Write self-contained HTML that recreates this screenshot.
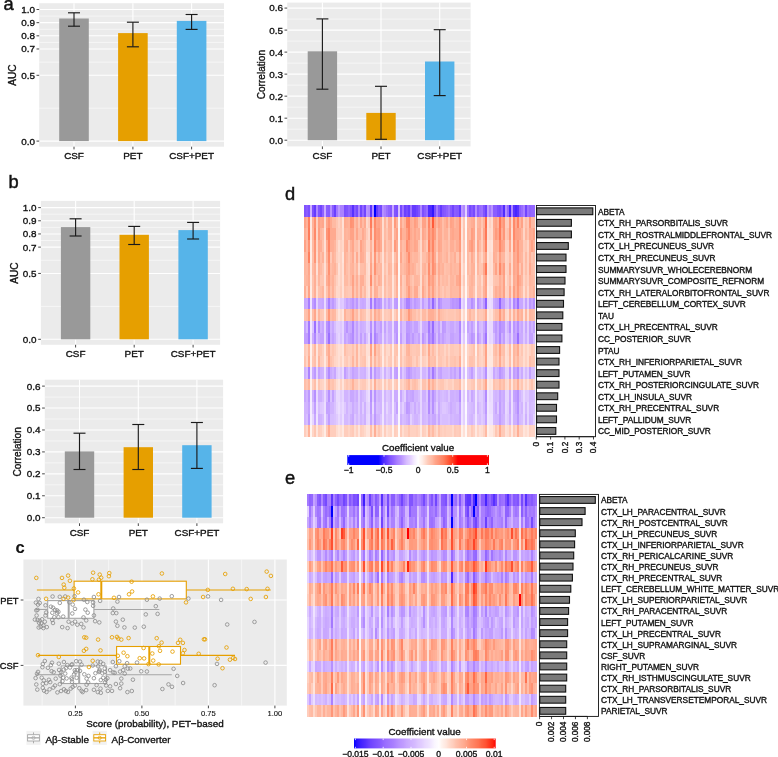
<!DOCTYPE html>
<html><head><meta charset="utf-8"><title>figure</title>
<style>html,body{margin:0;padding:0;background:#fff;}body{width:778px;height:757px;overflow:hidden;font-family:"Liberation Sans",sans-serif;}svg{display:block;filter:blur(0.35px);}</style>
</head><body>
<svg width="778" height="757" viewBox="0 0 778 757" font-family='"Liberation Sans", sans-serif'>
<style>text{stroke:#111;stroke-width:0.35px;}</style>
<rect width="778" height="757" fill="#ffffff"/>
<rect x="39.2" y="3.2" width="184.8" height="143.5" fill="#EBEBEB"/>
<line x1="39.2" y1="108.2" x2="224" y2="108.2" stroke="white" stroke-width="0.55"/>
<line x1="39.2" y1="62.14" x2="224" y2="62.14" stroke="white" stroke-width="0.55"/>
<line x1="39.2" y1="42.4" x2="224" y2="42.4" stroke="white" stroke-width="0.55"/>
<line x1="39.2" y1="29.24" x2="224" y2="29.24" stroke="white" stroke-width="0.55"/>
<line x1="39.2" y1="16.08" x2="224" y2="16.08" stroke="white" stroke-width="0.55"/>
<line x1="39.2" y1="141.1" x2="224" y2="141.1" stroke="white" stroke-width="1.1"/>
<line x1="39.2" y1="75.3" x2="224" y2="75.3" stroke="white" stroke-width="1.1"/>
<line x1="39.2" y1="48.98" x2="224" y2="48.98" stroke="white" stroke-width="1.1"/>
<line x1="39.2" y1="35.82" x2="224" y2="35.82" stroke="white" stroke-width="1.1"/>
<line x1="39.2" y1="22.66" x2="224" y2="22.66" stroke="white" stroke-width="1.1"/>
<line x1="39.2" y1="9.5" x2="224" y2="9.5" stroke="white" stroke-width="1.1"/>
<line x1="74" y1="3.2" x2="74" y2="146.7" stroke="white" stroke-width="1.1"/>
<line x1="132.9" y1="3.2" x2="132.9" y2="146.7" stroke="white" stroke-width="1.1"/>
<line x1="191.6" y1="3.2" x2="191.6" y2="146.7" stroke="white" stroke-width="1.1"/>
<rect x="59.2" y="18.5" width="29.6" height="122.6" fill="#999999"/>
<rect x="118.1" y="33.1" width="29.6" height="108" fill="#E69F00"/>
<rect x="176.8" y="20.9" width="29.6" height="120.2" fill="#56B4E9"/>
<line x1="74" y1="12.8" x2="74" y2="26.2" stroke="#1a1a1a" stroke-width="1.15"/>
<line x1="68" y1="12.8" x2="80" y2="12.8" stroke="#1a1a1a" stroke-width="1.15"/>
<line x1="68" y1="26.2" x2="80" y2="26.2" stroke="#1a1a1a" stroke-width="1.15"/>
<line x1="132.9" y1="22.2" x2="132.9" y2="46.8" stroke="#1a1a1a" stroke-width="1.15"/>
<line x1="126.9" y1="22.2" x2="138.9" y2="22.2" stroke="#1a1a1a" stroke-width="1.15"/>
<line x1="126.9" y1="46.8" x2="138.9" y2="46.8" stroke="#1a1a1a" stroke-width="1.15"/>
<line x1="191.6" y1="14.5" x2="191.6" y2="29.4" stroke="#1a1a1a" stroke-width="1.15"/>
<line x1="185.6" y1="14.5" x2="197.6" y2="14.5" stroke="#1a1a1a" stroke-width="1.15"/>
<line x1="185.6" y1="29.4" x2="197.6" y2="29.4" stroke="#1a1a1a" stroke-width="1.15"/>
<line x1="36.5" y1="141.1" x2="39.2" y2="141.1" stroke="#333333" stroke-width="0.9"/>
<text x="34.9" y="144.5" font-size="9.9" text-anchor="end" fill="#111111">0.0</text>
<line x1="36.5" y1="75.3" x2="39.2" y2="75.3" stroke="#333333" stroke-width="0.9"/>
<text x="34.9" y="78.7" font-size="9.9" text-anchor="end" fill="#111111">0.5</text>
<line x1="36.5" y1="48.98" x2="39.2" y2="48.98" stroke="#333333" stroke-width="0.9"/>
<text x="34.9" y="52.38" font-size="9.9" text-anchor="end" fill="#111111">0.7</text>
<line x1="36.5" y1="35.82" x2="39.2" y2="35.82" stroke="#333333" stroke-width="0.9"/>
<text x="34.9" y="39.22" font-size="9.9" text-anchor="end" fill="#111111">0.8</text>
<line x1="36.5" y1="22.66" x2="39.2" y2="22.66" stroke="#333333" stroke-width="0.9"/>
<text x="34.9" y="26.06" font-size="9.9" text-anchor="end" fill="#111111">0.9</text>
<line x1="36.5" y1="9.5" x2="39.2" y2="9.5" stroke="#333333" stroke-width="0.9"/>
<text x="34.9" y="12.9" font-size="9.9" text-anchor="end" fill="#111111">1.0</text>
<line x1="74" y1="146.7" x2="74" y2="149.4" stroke="#333333" stroke-width="0.9"/>
<text x="74" y="159.2" font-size="9.9" text-anchor="middle" fill="#111111">CSF</text>
<line x1="132.9" y1="146.7" x2="132.9" y2="149.4" stroke="#333333" stroke-width="0.9"/>
<text x="132.9" y="159.2" font-size="9.9" text-anchor="middle" fill="#111111">PET</text>
<line x1="191.6" y1="146.7" x2="191.6" y2="149.4" stroke="#333333" stroke-width="0.9"/>
<text x="191.6" y="159.2" font-size="9.9" text-anchor="middle" fill="#111111">CSF+PET</text>
<text x="16" y="75.1" font-size="10.1" text-anchor="middle" fill="#111111" transform="rotate(-90 16 75.1)">AUC</text>
<rect x="287.2" y="2.6" width="183.4" height="143.8" fill="#EBEBEB"/>
<line x1="287.2" y1="129.19" x2="470.6" y2="129.19" stroke="white" stroke-width="0.55"/>
<line x1="287.2" y1="107.17" x2="470.6" y2="107.17" stroke="white" stroke-width="0.55"/>
<line x1="287.2" y1="85.15" x2="470.6" y2="85.15" stroke="white" stroke-width="0.55"/>
<line x1="287.2" y1="63.13" x2="470.6" y2="63.13" stroke="white" stroke-width="0.55"/>
<line x1="287.2" y1="41.11" x2="470.6" y2="41.11" stroke="white" stroke-width="0.55"/>
<line x1="287.2" y1="19.09" x2="470.6" y2="19.09" stroke="white" stroke-width="0.55"/>
<line x1="287.2" y1="140.2" x2="470.6" y2="140.2" stroke="white" stroke-width="1.1"/>
<line x1="287.2" y1="118.18" x2="470.6" y2="118.18" stroke="white" stroke-width="1.1"/>
<line x1="287.2" y1="96.16" x2="470.6" y2="96.16" stroke="white" stroke-width="1.1"/>
<line x1="287.2" y1="74.14" x2="470.6" y2="74.14" stroke="white" stroke-width="1.1"/>
<line x1="287.2" y1="52.12" x2="470.6" y2="52.12" stroke="white" stroke-width="1.1"/>
<line x1="287.2" y1="30.1" x2="470.6" y2="30.1" stroke="white" stroke-width="1.1"/>
<line x1="287.2" y1="8.08" x2="470.6" y2="8.08" stroke="white" stroke-width="1.1"/>
<line x1="322.4" y1="2.6" x2="322.4" y2="146.4" stroke="white" stroke-width="1.1"/>
<line x1="381" y1="2.6" x2="381" y2="146.4" stroke="white" stroke-width="1.1"/>
<line x1="439.7" y1="2.6" x2="439.7" y2="146.4" stroke="white" stroke-width="1.1"/>
<rect x="307.7" y="51.3" width="29.4" height="88.9" fill="#999999"/>
<rect x="366.3" y="112.9" width="29.4" height="27.3" fill="#E69F00"/>
<rect x="425" y="61.5" width="29.4" height="78.7" fill="#56B4E9"/>
<line x1="322.4" y1="18.9" x2="322.4" y2="89.2" stroke="#1a1a1a" stroke-width="1.15"/>
<line x1="316.4" y1="18.9" x2="328.4" y2="18.9" stroke="#1a1a1a" stroke-width="1.15"/>
<line x1="316.4" y1="89.2" x2="328.4" y2="89.2" stroke="#1a1a1a" stroke-width="1.15"/>
<line x1="381" y1="86.3" x2="381" y2="139.3" stroke="#1a1a1a" stroke-width="1.15"/>
<line x1="375" y1="86.3" x2="387" y2="86.3" stroke="#1a1a1a" stroke-width="1.15"/>
<line x1="375" y1="139.3" x2="387" y2="139.3" stroke="#1a1a1a" stroke-width="1.15"/>
<line x1="439.7" y1="29.7" x2="439.7" y2="95.6" stroke="#1a1a1a" stroke-width="1.15"/>
<line x1="433.7" y1="29.7" x2="445.7" y2="29.7" stroke="#1a1a1a" stroke-width="1.15"/>
<line x1="433.7" y1="95.6" x2="445.7" y2="95.6" stroke="#1a1a1a" stroke-width="1.15"/>
<line x1="284.5" y1="140.2" x2="287.2" y2="140.2" stroke="#333333" stroke-width="0.9"/>
<text x="282.9" y="143.6" font-size="9.9" text-anchor="end" fill="#111111">0.0</text>
<line x1="284.5" y1="118.18" x2="287.2" y2="118.18" stroke="#333333" stroke-width="0.9"/>
<text x="282.9" y="121.58" font-size="9.9" text-anchor="end" fill="#111111">0.1</text>
<line x1="284.5" y1="96.16" x2="287.2" y2="96.16" stroke="#333333" stroke-width="0.9"/>
<text x="282.9" y="99.56" font-size="9.9" text-anchor="end" fill="#111111">0.2</text>
<line x1="284.5" y1="74.14" x2="287.2" y2="74.14" stroke="#333333" stroke-width="0.9"/>
<text x="282.9" y="77.54" font-size="9.9" text-anchor="end" fill="#111111">0.3</text>
<line x1="284.5" y1="52.12" x2="287.2" y2="52.12" stroke="#333333" stroke-width="0.9"/>
<text x="282.9" y="55.52" font-size="9.9" text-anchor="end" fill="#111111">0.4</text>
<line x1="284.5" y1="30.1" x2="287.2" y2="30.1" stroke="#333333" stroke-width="0.9"/>
<text x="282.9" y="33.5" font-size="9.9" text-anchor="end" fill="#111111">0.5</text>
<line x1="284.5" y1="8.08" x2="287.2" y2="8.08" stroke="#333333" stroke-width="0.9"/>
<text x="282.9" y="11.48" font-size="9.9" text-anchor="end" fill="#111111">0.6</text>
<line x1="322.4" y1="146.4" x2="322.4" y2="149.1" stroke="#333333" stroke-width="0.9"/>
<text x="322.4" y="158.9" font-size="9.9" text-anchor="middle" fill="#111111">CSF</text>
<line x1="381" y1="146.4" x2="381" y2="149.1" stroke="#333333" stroke-width="0.9"/>
<text x="381" y="158.9" font-size="9.9" text-anchor="middle" fill="#111111">PET</text>
<line x1="439.7" y1="146.4" x2="439.7" y2="149.1" stroke="#333333" stroke-width="0.9"/>
<text x="439.7" y="158.9" font-size="9.9" text-anchor="middle" fill="#111111">CSF+PET</text>
<text x="264.9" y="74.6" font-size="10.1" text-anchor="middle" fill="#111111" transform="rotate(-90 264.9 74.6)">Correlation</text>
<rect x="40.9" y="200.9" width="179.2" height="143.9" fill="#EBEBEB"/>
<line x1="40.9" y1="306.38" x2="220.1" y2="306.38" stroke="white" stroke-width="0.55"/>
<line x1="40.9" y1="260.28" x2="220.1" y2="260.28" stroke="white" stroke-width="0.55"/>
<line x1="40.9" y1="240.53" x2="220.1" y2="240.53" stroke="white" stroke-width="0.55"/>
<line x1="40.9" y1="227.36" x2="220.1" y2="227.36" stroke="white" stroke-width="0.55"/>
<line x1="40.9" y1="214.19" x2="220.1" y2="214.19" stroke="white" stroke-width="0.55"/>
<line x1="40.9" y1="339.3" x2="220.1" y2="339.3" stroke="white" stroke-width="1.1"/>
<line x1="40.9" y1="273.45" x2="220.1" y2="273.45" stroke="white" stroke-width="1.1"/>
<line x1="40.9" y1="247.11" x2="220.1" y2="247.11" stroke="white" stroke-width="1.1"/>
<line x1="40.9" y1="233.94" x2="220.1" y2="233.94" stroke="white" stroke-width="1.1"/>
<line x1="40.9" y1="220.77" x2="220.1" y2="220.77" stroke="white" stroke-width="1.1"/>
<line x1="40.9" y1="207.6" x2="220.1" y2="207.6" stroke="white" stroke-width="1.1"/>
<line x1="75.6" y1="200.9" x2="75.6" y2="344.8" stroke="white" stroke-width="1.1"/>
<line x1="134.2" y1="200.9" x2="134.2" y2="344.8" stroke="white" stroke-width="1.1"/>
<line x1="193.1" y1="200.9" x2="193.1" y2="344.8" stroke="white" stroke-width="1.1"/>
<rect x="60.9" y="227.1" width="29.4" height="112.2" fill="#999999"/>
<rect x="119.5" y="234.8" width="29.4" height="104.5" fill="#E69F00"/>
<rect x="178.4" y="230.1" width="29.4" height="109.2" fill="#56B4E9"/>
<line x1="75.6" y1="218.8" x2="75.6" y2="236" stroke="#1a1a1a" stroke-width="1.15"/>
<line x1="69.6" y1="218.8" x2="81.6" y2="218.8" stroke="#1a1a1a" stroke-width="1.15"/>
<line x1="69.6" y1="236" x2="81.6" y2="236" stroke="#1a1a1a" stroke-width="1.15"/>
<line x1="134.2" y1="226.4" x2="134.2" y2="244.5" stroke="#1a1a1a" stroke-width="1.15"/>
<line x1="128.2" y1="226.4" x2="140.2" y2="226.4" stroke="#1a1a1a" stroke-width="1.15"/>
<line x1="128.2" y1="244.5" x2="140.2" y2="244.5" stroke="#1a1a1a" stroke-width="1.15"/>
<line x1="193.1" y1="222.4" x2="193.1" y2="239" stroke="#1a1a1a" stroke-width="1.15"/>
<line x1="187.1" y1="222.4" x2="199.1" y2="222.4" stroke="#1a1a1a" stroke-width="1.15"/>
<line x1="187.1" y1="239" x2="199.1" y2="239" stroke="#1a1a1a" stroke-width="1.15"/>
<line x1="38.2" y1="339.3" x2="40.9" y2="339.3" stroke="#333333" stroke-width="0.9"/>
<text x="36.6" y="342.7" font-size="9.9" text-anchor="end" fill="#111111">0.0</text>
<line x1="38.2" y1="273.45" x2="40.9" y2="273.45" stroke="#333333" stroke-width="0.9"/>
<text x="36.6" y="276.85" font-size="9.9" text-anchor="end" fill="#111111">0.5</text>
<line x1="38.2" y1="247.11" x2="40.9" y2="247.11" stroke="#333333" stroke-width="0.9"/>
<text x="36.6" y="250.51" font-size="9.9" text-anchor="end" fill="#111111">0.7</text>
<line x1="38.2" y1="233.94" x2="40.9" y2="233.94" stroke="#333333" stroke-width="0.9"/>
<text x="36.6" y="237.34" font-size="9.9" text-anchor="end" fill="#111111">0.8</text>
<line x1="38.2" y1="220.77" x2="40.9" y2="220.77" stroke="#333333" stroke-width="0.9"/>
<text x="36.6" y="224.17" font-size="9.9" text-anchor="end" fill="#111111">0.9</text>
<line x1="38.2" y1="207.6" x2="40.9" y2="207.6" stroke="#333333" stroke-width="0.9"/>
<text x="36.6" y="211" font-size="9.9" text-anchor="end" fill="#111111">1.0</text>
<line x1="75.6" y1="344.8" x2="75.6" y2="347.5" stroke="#333333" stroke-width="0.9"/>
<text x="75.6" y="357.3" font-size="9.9" text-anchor="middle" fill="#111111">CSF</text>
<line x1="134.2" y1="344.8" x2="134.2" y2="347.5" stroke="#333333" stroke-width="0.9"/>
<text x="134.2" y="357.3" font-size="9.9" text-anchor="middle" fill="#111111">PET</text>
<line x1="193.1" y1="344.8" x2="193.1" y2="347.5" stroke="#333333" stroke-width="0.9"/>
<text x="193.1" y="357.3" font-size="9.9" text-anchor="middle" fill="#111111">CSF+PET</text>
<text x="17.6" y="273.1" font-size="10.1" text-anchor="middle" fill="#111111" transform="rotate(-90 17.6 273.1)">AUC</text>
<rect x="44.8" y="379.7" width="178.3" height="143.6" fill="#EBEBEB"/>
<line x1="44.8" y1="506.74" x2="223.1" y2="506.74" stroke="white" stroke-width="0.55"/>
<line x1="44.8" y1="484.81" x2="223.1" y2="484.81" stroke="white" stroke-width="0.55"/>
<line x1="44.8" y1="462.88" x2="223.1" y2="462.88" stroke="white" stroke-width="0.55"/>
<line x1="44.8" y1="440.95" x2="223.1" y2="440.95" stroke="white" stroke-width="0.55"/>
<line x1="44.8" y1="419.02" x2="223.1" y2="419.02" stroke="white" stroke-width="0.55"/>
<line x1="44.8" y1="397.09" x2="223.1" y2="397.09" stroke="white" stroke-width="0.55"/>
<line x1="44.8" y1="517.7" x2="223.1" y2="517.7" stroke="white" stroke-width="1.1"/>
<line x1="44.8" y1="495.77" x2="223.1" y2="495.77" stroke="white" stroke-width="1.1"/>
<line x1="44.8" y1="473.84" x2="223.1" y2="473.84" stroke="white" stroke-width="1.1"/>
<line x1="44.8" y1="451.91" x2="223.1" y2="451.91" stroke="white" stroke-width="1.1"/>
<line x1="44.8" y1="429.98" x2="223.1" y2="429.98" stroke="white" stroke-width="1.1"/>
<line x1="44.8" y1="408.05" x2="223.1" y2="408.05" stroke="white" stroke-width="1.1"/>
<line x1="44.8" y1="386.12" x2="223.1" y2="386.12" stroke="white" stroke-width="1.1"/>
<line x1="79.5" y1="379.7" x2="79.5" y2="523.3" stroke="white" stroke-width="1.1"/>
<line x1="138.3" y1="379.7" x2="138.3" y2="523.3" stroke="white" stroke-width="1.1"/>
<line x1="196.9" y1="379.7" x2="196.9" y2="523.3" stroke="white" stroke-width="1.1"/>
<rect x="64.8" y="451.4" width="29.4" height="66.3" fill="#999999"/>
<rect x="123.6" y="447.2" width="29.4" height="70.5" fill="#E69F00"/>
<rect x="182.2" y="445.2" width="29.4" height="72.5" fill="#56B4E9"/>
<line x1="79.5" y1="433.2" x2="79.5" y2="469.5" stroke="#1a1a1a" stroke-width="1.15"/>
<line x1="73.5" y1="433.2" x2="85.5" y2="433.2" stroke="#1a1a1a" stroke-width="1.15"/>
<line x1="73.5" y1="469.5" x2="85.5" y2="469.5" stroke="#1a1a1a" stroke-width="1.15"/>
<line x1="138.3" y1="424.5" x2="138.3" y2="469.5" stroke="#1a1a1a" stroke-width="1.15"/>
<line x1="132.3" y1="424.5" x2="144.3" y2="424.5" stroke="#1a1a1a" stroke-width="1.15"/>
<line x1="132.3" y1="469.5" x2="144.3" y2="469.5" stroke="#1a1a1a" stroke-width="1.15"/>
<line x1="196.9" y1="422.5" x2="196.9" y2="468.4" stroke="#1a1a1a" stroke-width="1.15"/>
<line x1="190.9" y1="422.5" x2="202.9" y2="422.5" stroke="#1a1a1a" stroke-width="1.15"/>
<line x1="190.9" y1="468.4" x2="202.9" y2="468.4" stroke="#1a1a1a" stroke-width="1.15"/>
<line x1="42.1" y1="517.7" x2="44.8" y2="517.7" stroke="#333333" stroke-width="0.9"/>
<text x="40.5" y="521.1" font-size="9.9" text-anchor="end" fill="#111111">0.0</text>
<line x1="42.1" y1="495.77" x2="44.8" y2="495.77" stroke="#333333" stroke-width="0.9"/>
<text x="40.5" y="499.17" font-size="9.9" text-anchor="end" fill="#111111">0.1</text>
<line x1="42.1" y1="473.84" x2="44.8" y2="473.84" stroke="#333333" stroke-width="0.9"/>
<text x="40.5" y="477.24" font-size="9.9" text-anchor="end" fill="#111111">0.2</text>
<line x1="42.1" y1="451.91" x2="44.8" y2="451.91" stroke="#333333" stroke-width="0.9"/>
<text x="40.5" y="455.31" font-size="9.9" text-anchor="end" fill="#111111">0.3</text>
<line x1="42.1" y1="429.98" x2="44.8" y2="429.98" stroke="#333333" stroke-width="0.9"/>
<text x="40.5" y="433.38" font-size="9.9" text-anchor="end" fill="#111111">0.4</text>
<line x1="42.1" y1="408.05" x2="44.8" y2="408.05" stroke="#333333" stroke-width="0.9"/>
<text x="40.5" y="411.45" font-size="9.9" text-anchor="end" fill="#111111">0.5</text>
<line x1="42.1" y1="386.12" x2="44.8" y2="386.12" stroke="#333333" stroke-width="0.9"/>
<text x="40.5" y="389.52" font-size="9.9" text-anchor="end" fill="#111111">0.6</text>
<line x1="79.5" y1="523.3" x2="79.5" y2="526" stroke="#333333" stroke-width="0.9"/>
<text x="79.5" y="535.8" font-size="9.9" text-anchor="middle" fill="#111111">CSF</text>
<line x1="138.3" y1="523.3" x2="138.3" y2="526" stroke="#333333" stroke-width="0.9"/>
<text x="138.3" y="535.8" font-size="9.9" text-anchor="middle" fill="#111111">PET</text>
<line x1="196.9" y1="523.3" x2="196.9" y2="526" stroke="#333333" stroke-width="0.9"/>
<text x="196.9" y="535.8" font-size="9.9" text-anchor="middle" fill="#111111">CSF+PET</text>
<text x="21.3" y="451.9" font-size="10.1" text-anchor="middle" fill="#111111" transform="rotate(-90 21.3 451.9)">Correlation</text>
<text x="3.4" y="9.6" font-size="18.3" text-anchor="start" fill="#111111" style="stroke-width:0.45px">a</text>
<text x="8.4" y="187.8" font-size="18.3" text-anchor="start" fill="#111111" style="stroke-width:0.45px">b</text>
<text x="15.5" y="553.4" font-size="16.5" text-anchor="start" fill="#111111" font-weight="bold" style="stroke-width:0.1px">c</text>
<text x="284.9" y="199.8" font-size="18.3" text-anchor="start" fill="#111111" style="stroke-width:0.45px">d</text>
<text x="285" y="484.1" font-size="18.3" text-anchor="start" fill="#111111" style="stroke-width:0.45px">e</text>
<g shape-rendering="crispEdges">
<path fill="#0000ff" d="M374 205h2v12h-2z"/>
<path fill="#3117ff" d="M432 205h2v12h-2z"/>
<path fill="#4725ff" d="M509 205h2v12h-2zM515 205h2v12h-2z"/>
<path fill="#502bff" d="M428 205h4v12h-4zM503 205h2v12h-2z"/>
<path fill="#5731ff" d="M352 205h2v12h-2zM513 205h2v12h-2zM517 205h2v12h-2z"/>
<path fill="#5e36ff" d="M370 205h2v12h-2z"/>
<path fill="#653bff" d="M314 205h2v12h-2zM376 205h2v12h-2zM408 205h2v12h-2zM412 205h4v12h-4zM440 205h2v12h-2zM459 205h2v12h-2z"/>
<path fill="#6b40ff" d="M334 205h2v12h-2zM404 205h2v12h-2zM485 205h2v12h-2z"/>
<path fill="#7145ff" d="M320 205h2v12h-2zM360 205h2v12h-2zM364 205h2v12h-2zM416 205h2v12h-2zM452 205h2v12h-2zM525 205h2v12h-2z"/>
<path fill="#764aff" d="M356 205h2v12h-2zM380 205h2v12h-2zM400 205h2v12h-2zM406 205h2v12h-2zM469 205h2v12h-2zM473 205h2v12h-2zM499 205h2v12h-2z"/>
<path fill="#7c4fff" d="M308 205h2v12h-2zM312 205h2v12h-2zM344 205h2v12h-2zM396 205h2v12h-2zM422 205h2v12h-2zM434 205h2v12h-2zM497 205h2v12h-2z"/>
<path fill="#8154ff" d="M304 205h2v12h-2zM318 205h2v12h-2zM346 205h2v12h-2zM350 205h2v12h-2zM378 205h2v12h-2zM394 205h2v12h-2zM418 205h2v12h-2zM438 205h2v12h-2zM442 205h2v12h-2zM483 205h2v12h-2z"/>
<path fill="#8659ff" d="M328 205h2v12h-2zM354 205h2v12h-2zM390 205h2v12h-2zM444 205h2v12h-2zM450 205h2v12h-2zM456 205h3v12h-3zM471 205h2v12h-2zM477 205h2v12h-2z"/>
<path fill="#8a5dff" d="M306 205h2v12h-2zM326 205h2v12h-2zM332 205h2v12h-2zM424 205h2v12h-2zM454 205h2v12h-2zM493 205h4v12h-4zM501 205h2v12h-2zM519 205h2v12h-2z"/>
<path fill="#8f62ff" d="M322 205h2v12h-2zM348 205h2v12h-2zM388 205h2v12h-2zM446 205h2v12h-2zM529 205h2v12h-2zM485 298h2v11h-2z"/>
<path fill="#9367ff" d="M362 205h2v12h-2zM507 205h2v12h-2zM531 205h4v12h-4zM432 298h2v11h-2zM499 298h2v11h-2z"/>
<path fill="#976bff" d="M426 205h2v12h-2zM479 205h2v12h-2zM521 205h2v12h-2zM432 321h2v12h-2z"/>
<path fill="#9c70ff" d="M386 205h2v12h-2zM402 205h2v12h-2zM410 205h2v12h-2zM448 205h2v12h-2zM467 205h2v12h-2zM481 205h2v12h-2zM527 205h2v12h-2zM517 298h2v11h-2zM314 321h2v12h-2zM328 333h2v11h-2zM517 333h2v11h-2z"/>
<path fill="#a074ff" d="M459 298h2v11h-2zM432 333h2v11h-2zM485 333h2v11h-2z"/>
<path fill="#a479ff" d="M336 205h2v12h-2zM436 205h2v12h-2zM489 205h2v12h-2zM370 298h2v11h-2zM308 321h2v12h-2zM428 321h2v12h-2zM308 333h2v11h-2zM432 367h2v12h-2z"/>
<path fill="#a87eff" d="M523 205h2v12h-2zM308 298h2v11h-2zM328 298h2v11h-2zM374 298h2v11h-2zM370 333h2v11h-2z"/>
<path fill="#ab82ff" d="M340 205h4v12h-4zM358 205h2v12h-2zM384 205h2v12h-2zM406 298h4v11h-4zM328 321h2v12h-2zM374 333h2v11h-2zM428 333h2v11h-2zM308 367h2v12h-2z"/>
<path fill="#af87ff" d="M316 205h2v12h-2zM420 205h2v12h-2zM463 205h2v12h-2zM511 205h2v12h-2zM513 298h2v11h-2zM352 321h2v12h-2zM459 321h2v12h-2zM485 321h2v12h-2zM314 333h2v11h-2zM499 333h2v11h-2zM428 390h2v12h-2z"/>
<path fill="#b38bff" d="M368 205h2v12h-2zM372 205h2v12h-2zM475 205h2v12h-2zM505 205h2v12h-2zM314 298h2v11h-2zM428 298h2v11h-2zM438 298h2v11h-2zM374 321h2v12h-2zM499 321h2v12h-2zM517 321h2v12h-2zM352 333h2v11h-2zM459 333h2v11h-2zM328 367h2v12h-2zM485 390h2v12h-2zM428 402h2v12h-2z"/>
<path fill="#b690ff" d="M330 205h2v12h-2zM382 205h2v12h-2zM378 298h2v11h-2zM471 298h2v11h-2zM533 298h2v11h-2zM318 321h2v12h-2zM370 321h2v12h-2zM509 321h2v12h-2zM406 333h2v11h-2zM370 367h2v12h-2zM428 367h2v12h-2zM459 367h2v12h-2zM485 367h2v12h-2zM517 367h2v12h-2zM314 390h2v12h-2zM328 390h2v12h-2zM370 390h2v12h-2zM432 390h2v12h-2zM459 390h2v12h-2zM517 390h2v12h-2zM432 402h2v12h-2zM517 402h2v12h-2z"/>
<path fill="#ba94ff" d="M366 205h2v12h-2zM491 205h2v12h-2zM352 298h2v11h-2zM452 298h2v11h-2zM456 298h3v11h-3zM477 298h2v11h-2zM326 321h2v12h-2zM346 321h2v12h-2zM513 321h2v12h-2zM396 333h2v11h-2zM408 333h2v11h-2zM422 333h2v11h-2zM430 333h2v11h-2zM471 333h2v11h-2zM477 333h2v11h-2zM408 367h2v12h-2zM499 367h2v12h-2zM374 390h2v12h-2z"/>
<path fill="#bd99ff" d="M338 205h2v12h-2zM461 205h2v12h-2zM487 205h2v12h-2zM332 298h2v11h-2zM356 298h2v11h-2zM376 298h2v11h-2zM380 298h2v11h-2zM396 298h2v11h-2zM414 298h2v11h-2zM434 298h2v11h-2zM440 298h2v11h-2zM454 298h2v11h-2zM483 298h2v11h-2zM529 298h2v11h-2zM396 321h2v12h-2zM406 321h4v12h-4zM442 321h2v12h-2zM495 321h2v12h-2zM501 321h4v12h-4zM350 333h2v11h-2zM376 333h2v11h-2zM412 333h2v11h-2zM438 333h2v11h-2zM314 367h2v12h-2zM374 367h2v12h-2zM308 390h2v12h-2zM370 402h2v12h-2zM406 402h2v12h-2zM485 402h2v12h-2zM308 414h2v11h-2zM374 414h2v11h-2zM517 414h2v11h-2z"/>
<path fill="#c19dff" d="M312 298h2v11h-2zM394 298h2v11h-2zM410 298h2v11h-2zM422 298h2v11h-2zM450 298h2v11h-2zM497 298h2v11h-2zM501 298h4v11h-4zM509 298h2v11h-2zM515 298h2v11h-2zM380 321h2v12h-2zM394 321h2v12h-2zM438 321h2v12h-2zM444 321h2v12h-2zM471 321h2v12h-2zM477 321h2v12h-2zM304 333h4v11h-4zM326 333h2v11h-2zM360 333h2v11h-2zM400 333h2v11h-2zM434 333h2v11h-2zM442 333h2v11h-2zM473 333h2v11h-2zM483 333h2v11h-2zM495 333h2v11h-2zM503 333h2v11h-2zM513 333h2v11h-2zM344 367h2v12h-2zM396 367h2v12h-2zM406 367h2v12h-2zM434 367h2v12h-2zM471 367h2v12h-2zM509 367h2v12h-2zM513 367h2v12h-2zM515 390h2v12h-2zM314 402h2v12h-2zM374 402h2v12h-2zM408 402h2v12h-2zM499 402h2v12h-2zM328 414h2v11h-2zM499 414h2v11h-2z"/>
<path fill="#c4a2ff" d="M346 298h2v11h-2zM350 298h2v11h-2zM388 298h2v11h-2zM404 298h2v11h-2zM416 298h2v11h-2zM473 298h2v11h-2zM495 298h2v11h-2zM525 298h2v11h-2zM304 321h2v12h-2zM356 321h2v12h-2zM384 321h2v12h-2zM410 321h2v12h-2zM414 321h4v12h-4zM430 321h2v12h-2zM467 321h2v12h-2zM529 321h2v12h-2zM533 321h2v12h-2zM320 333h4v11h-4zM332 333h2v11h-2zM344 333h2v11h-2zM348 333h2v11h-2zM356 333h2v11h-2zM364 333h2v11h-2zM418 333h2v11h-2zM450 333h4v11h-4zM515 333h2v11h-2zM529 333h4v11h-4zM318 367h2v12h-2zM352 367h2v12h-2zM394 367h2v12h-2zM410 367h2v12h-2zM440 367h2v12h-2zM454 367h2v12h-2zM501 367h2v12h-2zM529 367h2v12h-2zM332 390h2v12h-2zM406 390h2v12h-2zM412 390h2v12h-2zM499 390h2v12h-2zM513 390h2v12h-2zM308 402h2v12h-2zM326 402h4v12h-4zM396 402h2v12h-2zM459 402h2v12h-2zM370 414h2v11h-2zM485 414h2v11h-2z"/>
<path fill="#c8a7ff" d="M392 205h2v12h-2zM304 298h2v11h-2zM322 298h2v11h-2zM326 298h2v11h-2zM330 298h2v11h-2zM362 298h2v11h-2zM384 298h2v11h-2zM400 298h2v11h-2zM418 298h2v11h-2zM430 298h2v11h-2zM479 298h2v11h-2zM519 298h4v11h-4zM531 298h2v11h-2zM322 321h2v12h-2zM332 321h2v12h-2zM344 321h2v12h-2zM350 321h2v12h-2zM400 321h2v12h-2zM424 321h2v12h-2zM450 321h4v12h-4zM483 321h2v12h-2zM493 321h2v12h-2zM515 321h2v12h-2zM521 321h2v12h-2zM525 321h2v12h-2zM380 333h2v11h-2zM394 333h2v11h-2zM410 333h2v11h-2zM424 333h2v11h-2zM469 333h2v11h-2zM509 333h2v11h-2zM334 367h2v12h-2zM390 367h2v12h-2zM400 367h2v12h-2zM438 367h2v12h-2zM450 367h2v12h-2zM493 367h2v12h-2zM515 367h2v12h-2zM304 390h2v12h-2zM350 390h4v12h-4zM400 390h2v12h-2zM410 390h2v12h-2zM434 390h2v12h-2zM471 390h2v12h-2zM495 402h2v12h-2zM509 402h2v12h-2zM515 402h2v12h-2zM314 414h2v11h-2zM352 414h2v11h-2zM408 414h2v11h-2zM428 414h2v11h-2zM432 414h4v11h-4zM438 414h2v11h-2zM459 414h2v11h-2z"/>
<path fill="#cbabff" d="M324 205h2v12h-2zM306 298h2v11h-2zM318 298h4v11h-4zM334 298h2v11h-2zM348 298h2v11h-2zM354 298h2v11h-2zM360 298h2v11h-2zM364 298h2v11h-2zM412 298h2v11h-2zM442 298h8v11h-8zM467 298h4v11h-4zM493 298h2v11h-2zM348 321h2v12h-2zM360 321h2v12h-2zM378 321h2v12h-2zM388 321h4v12h-4zM422 321h2v12h-2zM426 321h2v12h-2zM434 321h2v12h-2zM456 321h3v12h-3zM497 321h2v12h-2zM312 333h2v11h-2zM318 333h2v11h-2zM378 333h2v11h-2zM384 333h2v11h-2zM390 333h2v11h-2zM414 333h2v11h-2zM440 333h2v11h-2zM444 333h2v11h-2zM454 333h5v11h-5zM479 333h2v11h-2zM497 333h2v11h-2zM519 333h4v11h-4zM312 367h2v12h-2zM326 367h2v12h-2zM330 367h2v12h-2zM354 367h4v12h-4zM378 367h2v12h-2zM414 367h2v12h-2zM503 367h2v12h-2zM521 367h2v12h-2zM356 390h2v12h-2zM394 390h4v12h-4zM408 390h2v12h-2zM503 390h2v12h-2zM509 390h2v12h-2zM352 402h2v12h-2zM414 402h2v12h-2zM438 402h2v12h-2zM450 402h2v12h-2zM503 402h2v12h-2z"/>
<path fill="#ceb0ff" d="M310 205h2v12h-2zM390 298h2v11h-2zM320 321h2v12h-2zM362 321h2v12h-2zM376 321h2v12h-2zM412 321h2v12h-2zM448 321h2v12h-2zM469 321h2v12h-2zM519 321h2v12h-2zM330 333h2v11h-2zM334 333h2v11h-2zM346 333h2v11h-2zM388 333h2v11h-2zM416 333h2v11h-2zM501 333h2v11h-2zM525 333h2v11h-2zM304 367h2v12h-2zM320 367h2v12h-2zM346 367h2v12h-2zM364 367h2v12h-2zM376 367h2v12h-2zM384 367h2v12h-2zM412 367h2v12h-2zM430 367h2v12h-2zM452 367h2v12h-2zM469 367h2v12h-2zM497 367h2v12h-2zM312 390h2v12h-2zM318 390h4v12h-4zM360 390h2v12h-2zM378 390h2v12h-2zM422 390h4v12h-4zM438 390h2v12h-2zM450 390h4v12h-4zM456 390h3v12h-3zM501 390h2v12h-2zM360 402h2v12h-2zM364 402h2v12h-2zM318 414h2v11h-2zM350 414h2v11h-2zM364 414h2v11h-2zM400 414h2v11h-2zM406 414h2v11h-2zM501 414h2v11h-2zM509 414h2v11h-2zM513 414h4v11h-4zM525 414h2v11h-2z"/>
<path fill="#d1b4ff" d="M344 298h2v11h-2zM424 298h2v11h-2zM330 321h2v12h-2zM354 321h2v12h-2zM364 321h2v12h-2zM436 321h2v12h-2zM446 321h2v12h-2zM454 321h2v12h-2zM473 321h2v12h-2zM507 321h2v12h-2zM531 321h2v12h-2zM354 333h2v11h-2zM446 333h4v11h-4zM467 333h2v11h-2zM322 367h2v12h-2zM332 367h2v12h-2zM350 367h2v12h-2zM360 367h4v12h-4zM416 367h4v12h-4zM422 367h4v12h-4zM442 367h6v12h-6zM456 367h3v12h-3zM483 367h2v12h-2zM306 390h2v12h-2zM326 390h2v12h-2zM344 390h4v12h-4zM354 390h2v12h-2zM380 390h2v12h-2zM384 390h2v12h-2zM390 390h2v12h-2zM414 390h4v12h-4zM430 390h2v12h-2zM446 390h2v12h-2zM454 390h2v12h-2zM467 390h2v12h-2zM473 390h2v12h-2zM495 390h2v12h-2zM519 390h2v12h-2zM304 402h4v12h-4zM330 402h4v12h-4zM346 402h2v12h-2zM356 402h2v12h-2zM380 402h2v12h-2zM418 402h2v12h-2zM422 402h2v12h-2zM434 402h2v12h-2zM452 402h4v12h-4zM473 402h2v12h-2zM477 402h2v12h-2zM501 402h2v12h-2zM513 402h2v12h-2zM521 402h2v12h-2zM304 414h2v11h-2zM320 414h2v11h-2zM360 414h2v11h-2zM376 414h4v11h-4zM394 414h2v11h-2zM414 414h4v11h-4zM422 414h2v11h-2zM430 414h2v11h-2zM450 414h2v11h-2zM454 414h5v11h-5zM471 414h2v11h-2zM495 414h4v11h-4zM503 414h2v11h-2zM529 414h2v11h-2z"/>
<path fill="#d4b9ff" d="M402 298h2v11h-2zM426 298h2v11h-2zM481 298h2v11h-2zM306 321h2v12h-2zM418 321h2v12h-2zM463 321h2v12h-2zM479 321h2v12h-2zM362 333h2v11h-2zM404 367h2v12h-2zM448 367h2v12h-2zM473 367h2v12h-2zM479 367h2v12h-2zM495 367h2v12h-2zM525 367h2v12h-2zM362 390h2v12h-2zM376 390h2v12h-2zM440 390h2v12h-2zM444 390h2v12h-2zM483 390h2v12h-2zM493 390h2v12h-2zM497 390h2v12h-2zM529 390h4v12h-4zM354 402h2v12h-2zM378 402h2v12h-2zM384 402h2v12h-2zM390 402h2v12h-2zM394 402h2v12h-2zM404 402h2v12h-2zM410 402h2v12h-2zM424 402h2v12h-2zM430 402h2v12h-2zM448 402h2v12h-2zM471 402h2v12h-2zM483 402h2v12h-2zM493 402h2v12h-2zM525 402h2v12h-2zM529 402h2v12h-2zM326 414h2v11h-2zM344 414h4v11h-4zM356 414h2v11h-2zM384 414h2v11h-2zM404 414h2v11h-2zM424 414h2v11h-2zM452 414h2v11h-2zM469 414h2v11h-2zM493 414h2v11h-2zM519 414h2v11h-2zM531 414h2v11h-2z"/>
<path fill="#d7beff" d="M398 205h2v12h-2zM358 298h2v11h-2zM372 298h2v11h-2zM386 298h2v11h-2zM505 298h2v11h-2zM334 321h2v12h-2zM358 321h2v12h-2zM402 321h4v12h-4zM481 321h2v12h-2zM358 333h2v11h-2zM402 333h2v11h-2zM426 333h2v11h-2zM436 333h2v11h-2zM493 333h2v11h-2zM533 333h2v11h-2zM306 367h2v12h-2zM463 367h2v12h-2zM467 367h2v12h-2zM477 367h2v12h-2zM519 367h2v12h-2zM531 367h4v12h-4zM322 390h2v12h-2zM334 390h2v12h-2zM348 390h2v12h-2zM364 390h2v12h-2zM418 390h2v12h-2zM442 390h2v12h-2zM477 390h2v12h-2zM533 390h2v12h-2zM318 402h2v12h-2zM350 402h2v12h-2zM376 402h2v12h-2zM400 402h2v12h-2zM412 402h2v12h-2zM416 402h2v12h-2zM440 402h2v12h-2zM456 402h3v12h-3zM469 402h2v12h-2zM519 402h2v12h-2zM531 402h2v12h-2zM306 414h2v11h-2zM322 414h2v11h-2zM330 414h4v11h-4zM362 414h2v11h-2zM396 414h2v11h-2zM402 414h2v11h-2zM412 414h2v11h-2zM418 414h2v11h-2zM426 414h2v11h-2zM442 414h6v11h-6zM479 414h2v11h-2zM521 414h2v11h-2z"/>
<path fill="#dac2ff" d="M436 298h2v11h-2zM507 298h2v11h-2zM312 321h2v12h-2zM386 321h2v12h-2zM440 321h2v12h-2zM316 333h2v11h-2zM340 333h2v11h-2zM366 333h2v11h-2zM386 333h2v11h-2zM404 333h2v11h-2zM481 333h2v11h-2zM507 333h2v11h-2zM348 367h2v12h-2zM358 367h2v12h-2zM380 367h2v12h-2zM388 367h2v12h-2zM426 367h2v12h-2zM436 367h2v12h-2zM330 390h2v12h-2zM388 390h2v12h-2zM402 390h2v12h-2zM436 390h2v12h-2zM521 390h2v12h-2zM312 402h2v12h-2zM334 402h2v12h-2zM348 402h2v12h-2zM388 402h2v12h-2zM426 402h2v12h-2zM446 402h2v12h-2zM467 402h2v12h-2zM479 402h2v12h-2zM533 402h2v12h-2zM334 414h2v11h-2zM348 414h2v11h-2zM380 414h2v11h-2zM388 414h4v11h-4zM436 414h2v11h-2zM440 414h2v11h-2zM448 414h2v11h-2zM467 414h2v11h-2zM473 414h2v11h-2zM477 414h2v11h-2zM483 414h2v11h-2z"/>
<path fill="#dec7ff" d="M336 298h2v11h-2zM340 298h2v11h-2zM420 298h2v11h-2zM463 298h2v11h-2zM523 298h2v11h-2zM527 298h2v11h-2zM340 321h2v12h-2zM372 321h2v12h-2zM505 321h2v12h-2zM372 333h2v11h-2zM463 333h2v11h-2zM523 333h2v11h-2zM340 367h2v12h-2zM402 367h2v12h-2zM481 367h2v12h-2zM386 390h2v12h-2zM426 390h2v12h-2zM448 390h2v12h-2zM463 390h2v12h-2zM469 390h2v12h-2zM525 390h2v12h-2zM320 402h2v12h-2zM344 402h2v12h-2zM442 402h4v12h-4zM497 402h2v12h-2zM354 414h2v11h-2zM358 414h2v11h-2zM372 414h2v11h-2z"/>
<path fill="#e0cbff" d="M342 298h2v11h-2zM368 298h2v11h-2zM316 321h2v12h-2zM368 321h2v12h-2zM523 321h2v12h-2zM527 321h2v12h-2zM336 333h2v11h-2zM505 333h2v11h-2zM527 333h2v11h-2zM336 367h2v12h-2zM366 367h2v12h-2zM372 367h2v12h-2zM386 367h2v12h-2zM527 367h2v12h-2zM340 390h2v12h-2zM358 390h2v12h-2zM372 390h2v12h-2zM479 390h4v12h-4zM527 390h2v12h-2zM322 402h2v12h-2zM358 402h2v12h-2zM362 402h2v12h-2zM481 402h2v12h-2zM336 414h2v11h-2zM340 414h2v11h-2zM386 414h2v11h-2zM481 414h2v11h-2zM507 414h2v11h-2z"/>
<path fill="#e3d0ff" d="M465 205h2v12h-2zM316 298h2v11h-2zM366 298h2v11h-2zM382 298h2v11h-2zM511 298h2v11h-2zM336 321h4v12h-4zM366 321h2v12h-2zM382 321h2v12h-2zM420 333h2v11h-2zM511 333h2v11h-2zM316 367h2v12h-2zM505 367h4v12h-4zM523 367h2v12h-2zM404 390h2v12h-2zM340 402h2v12h-2zM366 402h2v12h-2zM402 402h2v12h-2zM436 402h2v12h-2zM463 402h2v12h-2zM507 402h2v12h-2zM410 414h2v11h-2zM463 414h2v11h-2zM533 414h2v11h-2z"/>
<path fill="#e6d5ff" d="M324 321h2v12h-2zM342 321h2v12h-2zM420 321h2v12h-2zM511 321h2v12h-2zM338 333h2v11h-2zM342 333h2v11h-2zM382 333h2v11h-2zM489 333h2v11h-2zM338 367h2v12h-2zM342 390h2v12h-2zM366 390h2v12h-2zM420 390h2v12h-2zM505 390h4v12h-4zM336 402h2v12h-2zM368 402h2v12h-2zM386 402h2v12h-2zM420 402h2v12h-2zM527 402h2v12h-2zM312 414h2v11h-2zM366 414h2v11h-2zM505 414h2v11h-2zM523 414h2v11h-2zM527 414h2v11h-2z"/>
<path fill="#e9d9ff" d="M324 298h2v11h-2zM338 298h2v11h-2zM392 298h2v11h-2zM461 298h2v11h-2zM487 298h2v11h-2zM491 298h2v11h-2zM392 321h2v12h-2zM489 321h4v12h-4zM324 333h2v11h-2zM368 333h2v11h-2zM392 333h2v11h-2zM491 333h2v11h-2zM342 367h2v12h-2zM368 367h2v12h-2zM382 367h2v12h-2zM420 367h2v12h-2zM491 367h2v12h-2zM511 367h2v12h-2zM316 390h2v12h-2zM324 390h2v12h-2zM336 390h4v12h-4zM489 390h2v12h-2zM523 390h2v12h-2zM342 402h2v12h-2zM372 402h2v12h-2zM505 402h2v12h-2zM523 402h2v12h-2zM338 414h2v11h-2zM368 414h2v11h-2zM420 414h2v11h-2z"/>
<path fill="#ecdeff" d="M475 298h2v11h-2zM489 298h2v11h-2zM461 321h2v12h-2zM487 321h2v12h-2zM475 333h2v11h-2zM324 367h2v12h-2zM489 367h2v12h-2zM368 390h2v12h-2zM382 390h2v12h-2zM491 390h2v12h-2zM511 390h2v12h-2zM316 402h2v12h-2zM324 402h2v12h-2zM338 402h2v12h-2zM489 402h4v12h-4zM511 402h2v12h-2zM342 414h2v11h-2zM511 414h2v11h-2z"/>
<path fill="#efe3ff" d="M310 298h2v11h-2zM475 321h2v12h-2zM310 333h2v11h-2zM461 333h2v11h-2zM487 333h2v11h-2zM392 367h2v12h-2zM461 367h2v12h-2zM475 367h2v12h-2zM487 367h2v12h-2zM461 390h2v12h-2zM475 390h2v12h-2zM382 402h2v12h-2zM461 402h2v12h-2zM475 402h2v12h-2zM316 414h2v11h-2zM324 414h2v11h-2zM382 414h2v11h-2zM461 414h2v11h-2zM475 414h2v11h-2zM489 414h4v11h-4z"/>
<path fill="#f2e7ff" d="M310 321h2v12h-2zM310 367h2v12h-2zM392 390h2v12h-2zM487 390h2v12h-2zM392 402h2v12h-2zM487 402h2v12h-2zM392 414h2v11h-2zM487 414h2v11h-2z"/>
<path fill="#f4ecff" d="M310 390h2v12h-2zM310 402h2v12h-2zM310 414h2v11h-2z"/>
<path fill="#f7f1ff" d="M398 321h2v12h-2z"/>
<path fill="#faf6ff" d="M398 298h2v11h-2zM465 298h2v11h-2zM465 321h2v12h-2zM398 333h2v11h-2zM465 333h2v11h-2zM398 367h2v12h-2zM465 367h2v12h-2zM398 390h2v12h-2zM465 390h2v12h-2zM398 402h2v12h-2zM398 414h2v11h-2zM465 414h2v11h-2z"/>
<path fill="#fcfaff" d="M465 402h2v12h-2z"/>
<path fill="#fffbfa" d="M465 356h2v11h-2zM465 379h2v11h-2zM398 425h2v12h-2z"/>
<path fill="#fff7f5" d="M465 217h2v11h-2zM465 228h2v12h-2zM465 240h2v12h-2zM465 252h2v11h-2zM398 263h2v12h-2zM465 263h2v12h-2zM398 275h2v11h-2zM465 275h2v11h-2zM398 286h2v12h-2zM465 286h2v12h-2zM398 309h2v12h-2zM465 309h2v12h-2zM398 344h2v12h-2zM465 344h2v12h-2zM398 356h2v11h-2zM398 379h2v11h-2zM465 425h2v12h-2z"/>
<path fill="#fff4ef" d="M398 217h2v11h-2zM398 228h2v12h-2zM398 240h2v12h-2zM398 252h2v11h-2zM310 425h2v12h-2z"/>
<path fill="#fff0ea" d="M310 344h2v12h-2zM475 344h2v12h-2zM310 356h2v11h-2zM310 379h2v11h-2zM392 425h2v12h-2zM461 425h2v12h-2zM487 425h2v12h-2z"/>
<path fill="#ffece5" d="M310 240h2v12h-2zM310 252h2v11h-2zM310 286h2v12h-2zM487 286h2v12h-2zM310 309h2v12h-2zM461 309h2v12h-2zM487 309h2v12h-2zM392 344h2v12h-2zM461 344h2v12h-2zM382 356h2v11h-2zM461 356h2v11h-2zM392 379h2v11h-2zM475 379h2v11h-2zM487 379h2v11h-2zM324 425h2v12h-2z"/>
<path fill="#ffe8e0" d="M310 217h2v11h-2zM310 228h2v12h-2zM392 252h2v11h-2zM487 252h2v11h-2zM310 263h2v12h-2zM475 263h2v12h-2zM310 275h2v11h-2zM487 275h2v11h-2zM461 286h2v12h-2zM475 286h2v12h-2zM491 286h2v12h-2zM392 309h2v12h-2zM324 344h2v12h-2zM382 344h2v12h-2zM487 344h2v12h-2zM491 344h2v12h-2zM511 344h2v12h-2zM324 356h2v11h-2zM368 356h2v11h-2zM392 356h2v11h-2zM487 356h6v11h-6zM511 356h2v11h-2zM316 379h2v11h-2zM382 379h2v11h-2zM461 379h2v11h-2zM491 379h2v11h-2zM342 425h2v12h-2zM382 425h2v12h-2zM420 425h2v12h-2zM475 425h2v12h-2zM489 425h4v12h-4zM511 425h2v12h-2z"/>
<path fill="#ffe4db" d="M461 228h2v12h-2zM487 240h2v12h-2zM491 240h2v12h-2zM342 252h2v11h-2zM461 252h2v11h-2zM475 252h2v11h-2zM461 263h2v12h-2zM487 263h2v12h-2zM392 275h2v11h-2zM475 275h2v11h-2zM382 286h2v12h-2zM392 286h2v12h-2zM489 286h2v12h-2zM324 309h2v12h-2zM338 309h2v12h-2zM342 309h2v12h-2zM475 309h2v12h-2zM491 309h2v12h-2zM316 344h2v12h-2zM342 344h2v12h-2zM420 344h2v12h-2zM489 344h2v12h-2zM316 356h2v11h-2zM342 356h2v11h-2zM420 356h2v11h-2zM475 356h2v11h-2zM324 379h2v11h-2zM338 379h2v11h-2zM342 379h2v11h-2zM368 379h2v11h-2zM420 379h2v11h-2zM489 379h2v11h-2zM511 379h2v11h-2zM316 425h2v12h-2zM338 425h2v12h-2zM358 425h2v12h-2zM366 425h4v12h-4zM523 425h2v12h-2zM527 425h2v12h-2z"/>
<path fill="#ffe0d6" d="M342 217h2v11h-2zM392 217h2v11h-2zM461 217h2v11h-2zM487 217h2v11h-2zM324 228h2v12h-2zM392 228h2v12h-2zM475 228h2v12h-2zM487 228h2v12h-2zM324 240h2v12h-2zM392 240h2v12h-2zM461 240h2v12h-2zM475 240h2v12h-2zM489 240h2v12h-2zM366 252h2v11h-2zM382 252h2v11h-2zM491 252h2v11h-2zM316 263h2v12h-2zM324 263h2v12h-2zM338 263h2v12h-2zM342 263h2v12h-2zM368 263h2v12h-2zM382 263h2v12h-2zM392 263h2v12h-2zM491 263h2v12h-2zM324 275h2v11h-2zM342 275h2v11h-2zM382 275h2v11h-2zM461 275h2v11h-2zM489 275h4v11h-4zM324 286h2v12h-2zM342 286h2v12h-2zM368 286h2v12h-2zM382 309h2v12h-2zM489 309h2v12h-2zM523 309h2v12h-2zM338 344h2v12h-2zM366 344h4v12h-4zM505 344h2v12h-2zM338 356h2v11h-2zM366 356h2v11h-2zM505 356h2v11h-2zM372 379h2v11h-2zM523 379h2v11h-2zM527 379h2v11h-2zM386 425h2v12h-2zM463 425h2v12h-2zM479 425h2v12h-2zM505 425h2v12h-2z"/>
<path fill="#ffddd0" d="M382 217h2v11h-2zM475 217h2v11h-2zM491 217h2v11h-2zM342 228h2v12h-2zM382 228h2v12h-2zM491 228h2v12h-2zM511 228h2v12h-2zM338 240h2v12h-2zM382 240h2v12h-2zM511 240h2v12h-2zM324 252h2v11h-2zM368 252h2v11h-2zM489 252h2v11h-2zM489 263h2v12h-2zM338 275h2v11h-2zM368 275h2v11h-2zM420 275h2v11h-2zM505 275h2v11h-2zM511 275h2v11h-2zM316 286h2v12h-2zM420 286h2v12h-2zM523 286h2v12h-2zM366 309h2v12h-2zM507 309h2v12h-2zM511 309h2v12h-2zM527 309h2v12h-2zM340 344h2v12h-2zM372 344h2v12h-2zM523 344h2v12h-2zM527 344h2v12h-2zM386 356h2v11h-2zM436 356h2v11h-2zM507 356h2v11h-2zM523 356h2v11h-2zM527 356h2v11h-2zM336 379h2v11h-2zM386 379h2v11h-2zM507 379h2v11h-2zM322 425h2v12h-2zM336 425h2v12h-2zM340 425h2v12h-2zM354 425h2v12h-2zM372 425h2v12h-2zM402 425h2v12h-2zM426 425h2v12h-2zM481 425h2v12h-2zM493 425h2v12h-2zM507 425h2v12h-2zM525 425h2v12h-2z"/>
<path fill="#ffd9cb" d="M324 217h2v11h-2zM366 217h2v11h-2zM368 228h2v12h-2zM489 228h2v12h-2zM342 240h2v12h-2zM420 240h2v12h-2zM316 252h2v11h-2zM338 252h2v11h-2zM420 252h2v11h-2zM511 252h2v11h-2zM358 263h2v12h-2zM366 263h2v12h-2zM420 263h2v12h-2zM511 263h2v12h-2zM366 275h2v11h-2zM481 275h2v11h-2zM336 286h4v12h-4zM366 286h2v12h-2zM527 286h2v12h-2zM316 309h2v12h-2zM340 309h2v12h-2zM368 309h2v12h-2zM463 309h2v12h-2zM505 309h2v12h-2zM336 344h2v12h-2zM358 344h2v12h-2zM386 344h4v12h-4zM402 344h2v12h-2zM436 344h2v12h-2zM481 344h2v12h-2zM507 344h2v12h-2zM336 356h2v11h-2zM358 356h2v11h-2zM372 356h2v11h-2zM426 356h2v11h-2zM358 379h2v11h-2zM366 379h2v11h-2zM463 379h2v11h-2zM505 379h2v11h-2zM306 425h2v12h-2zM364 425h2v12h-2zM388 425h2v12h-2zM436 425h2v12h-2zM452 425h2v12h-2zM469 425h2v12h-2z"/>
<path fill="#ffd5c6" d="M511 217h2v11h-2zM316 228h2v12h-2zM420 228h2v12h-2zM523 228h2v12h-2zM316 240h2v12h-2zM366 240h4v12h-4zM527 240h2v12h-2zM372 252h2v11h-2zM481 252h2v11h-2zM505 252h2v11h-2zM505 263h2v12h-2zM316 275h2v11h-2zM523 275h2v11h-2zM372 286h2v12h-2zM505 286h2v12h-2zM511 286h2v12h-2zM336 309h2v12h-2zM358 309h2v12h-2zM372 309h2v12h-2zM420 309h2v12h-2zM426 344h2v12h-2zM444 344h2v12h-2zM448 344h2v12h-2zM463 344h2v12h-2zM467 344h2v12h-2zM306 356h2v11h-2zM334 356h2v11h-2zM340 356h2v11h-2zM348 356h2v11h-2zM402 356h2v11h-2zM463 356h2v11h-2zM481 356h2v11h-2zM322 379h2v11h-2zM402 379h2v11h-2zM418 379h2v11h-2zM436 379h2v11h-2zM446 379h2v11h-2zM452 379h2v11h-2zM481 379h2v11h-2zM533 379h2v11h-2zM312 425h2v12h-2zM348 425h2v12h-2zM376 425h2v12h-2zM390 425h2v12h-2zM418 425h2v12h-2zM467 425h2v12h-2zM477 425h2v12h-2zM515 425h2v12h-2zM531 425h4v12h-4z"/>
<path fill="#ffd1c1" d="M316 217h2v11h-2zM338 217h2v11h-2zM489 217h2v11h-2zM523 217h2v11h-2zM372 228h2v12h-2zM340 240h2v12h-2zM372 240h2v12h-2zM505 240h4v12h-4zM336 252h2v11h-2zM340 252h2v11h-2zM436 252h2v11h-2zM507 252h2v11h-2zM523 252h2v11h-2zM527 252h2v11h-2zM340 263h2v12h-2zM386 263h2v12h-2zM463 263h2v12h-2zM507 263h2v12h-2zM523 263h2v12h-2zM527 263h2v12h-2zM336 275h2v11h-2zM340 275h2v11h-2zM527 275h2v11h-2zM463 286h2v12h-2zM481 286h2v12h-2zM507 286h2v12h-2zM306 344h2v12h-2zM322 344h2v12h-2zM354 344h2v12h-2zM380 344h2v12h-2zM404 344h2v12h-2zM479 344h2v12h-2zM519 344h2v12h-2zM525 344h2v12h-2zM529 344h2v12h-2zM322 356h2v11h-2zM354 356h2v11h-2zM414 356h2v11h-2zM418 356h2v11h-2zM424 356h2v11h-2zM444 356h2v11h-2zM448 356h2v11h-2zM467 356h2v11h-2zM479 356h2v11h-2zM525 356h2v11h-2zM320 379h2v11h-2zM340 379h2v11h-2zM376 379h2v11h-2zM426 379h2v11h-2zM444 379h2v11h-2zM467 379h4v11h-4zM519 379h2v11h-2zM525 379h2v11h-2zM320 425h2v12h-2zM356 425h2v12h-2zM362 425h2v12h-2zM380 425h2v12h-2zM396 425h2v12h-2zM404 425h4v12h-4zM410 425h6v12h-6zM424 425h2v12h-2zM442 425h2v12h-2zM446 425h6v12h-6zM473 425h2v12h-2zM483 425h2v12h-2zM497 425h2v12h-2zM519 425h4v12h-4zM529 425h2v12h-2z"/>
<path fill="#ffcdbc" d="M368 217h2v11h-2zM386 217h2v11h-2zM420 217h2v11h-2zM505 217h4v11h-4zM338 228h2v12h-2zM366 228h2v12h-2zM481 228h2v12h-2zM336 240h2v12h-2zM358 240h2v12h-2zM481 240h2v12h-2zM523 240h2v12h-2zM354 252h2v11h-2zM358 252h2v11h-2zM386 252h2v11h-2zM372 263h2v12h-2zM372 275h2v11h-2zM386 275h2v11h-2zM402 275h2v11h-2zM436 275h2v11h-2zM507 275h2v11h-2zM306 286h2v12h-2zM340 286h2v12h-2zM386 286h2v12h-2zM402 286h2v12h-2zM418 286h2v12h-2zM467 286h2v12h-2zM386 309h2v12h-2zM394 309h2v12h-2zM402 309h2v12h-2zM436 309h2v12h-2zM312 344h2v12h-2zM330 344h2v12h-2zM334 344h2v12h-2zM348 344h4v12h-4zM362 344h2v12h-2zM454 344h5v12h-5zM469 344h2v12h-2zM533 344h2v12h-2zM320 356h2v11h-2zM326 356h2v11h-2zM344 356h2v11h-2zM350 356h2v11h-2zM376 356h2v11h-2zM384 356h2v11h-2zM388 356h2v11h-2zM396 356h2v11h-2zM412 356h2v11h-2zM422 356h2v11h-2zM442 356h2v11h-2zM483 356h2v11h-2zM497 356h2v11h-2zM501 356h2v11h-2zM519 356h4v11h-4zM312 379h2v11h-2zM334 379h2v11h-2zM344 379h2v11h-2zM348 379h2v11h-2zM360 379h2v11h-2zM380 379h2v11h-2zM390 379h2v11h-2zM394 379h2v11h-2zM400 379h2v11h-2zM410 379h2v11h-2zM448 379h4v11h-4zM529 379h2v11h-2zM304 425h2v12h-2zM318 425h2v12h-2zM330 425h6v12h-6zM344 425h4v12h-4zM350 425h2v12h-2zM360 425h2v12h-2zM384 425h2v12h-2zM394 425h2v12h-2zM416 425h2v12h-2zM422 425h2v12h-2zM434 425h2v12h-2zM440 425h2v12h-2zM444 425h2v12h-2zM456 425h3v12h-3zM509 425h2v12h-2z"/>
<path fill="#ffc9b7" d="M527 217h2v11h-2zM336 228h2v12h-2zM340 228h2v12h-2zM505 228h2v12h-2zM348 240h2v12h-2zM426 240h2v12h-2zM463 240h2v12h-2zM330 252h2v11h-2zM463 252h2v11h-2zM358 275h2v11h-2zM426 275h2v11h-2zM463 275h2v11h-2zM348 286h4v12h-4zM358 286h2v12h-2zM378 286h2v12h-2zM426 286h2v12h-2zM436 286h2v12h-2zM442 286h2v12h-2zM322 309h2v12h-2zM384 309h2v12h-2zM388 309h2v12h-2zM416 309h2v12h-2zM426 309h2v12h-2zM446 309h2v12h-2zM454 309h2v12h-2zM479 309h4v12h-4zM493 309h2v12h-2zM515 309h2v12h-2zM304 344h2v12h-2zM346 344h2v12h-2zM364 344h2v12h-2zM384 344h2v12h-2zM412 344h4v12h-4zM430 344h2v12h-2zM434 344h2v12h-2zM440 344h4v12h-4zM446 344h2v12h-2zM450 344h4v12h-4zM471 344h2v12h-2zM497 344h2v12h-2zM332 356h2v11h-2zM346 356h2v11h-2zM360 356h2v11h-2zM380 356h2v11h-2zM390 356h2v11h-2zM404 356h2v11h-2zM456 356h3v11h-3zM493 356h2v11h-2zM326 379h2v11h-2zM354 379h4v11h-4zM362 379h4v11h-4zM378 379h2v11h-2zM384 379h2v11h-2zM388 379h2v11h-2zM404 379h2v11h-2zM438 379h2v11h-2zM471 379h2v11h-2zM477 379h2v11h-2zM495 379h4v11h-4zM515 379h2v11h-2zM326 425h2v12h-2zM352 425h2v12h-2zM400 425h2v12h-2zM430 425h2v12h-2zM454 425h2v12h-2zM459 425h2v12h-2zM471 425h2v12h-2zM501 425h4v12h-4zM513 425h2v12h-2z"/>
<path fill="#ffc6b2" d="M336 217h2v11h-2zM340 217h2v11h-2zM358 217h2v11h-2zM372 217h2v11h-2zM463 217h2v11h-2zM481 217h2v11h-2zM386 228h2v12h-2zM448 228h2v12h-2zM527 228h2v12h-2zM386 240h2v12h-2zM418 240h2v12h-2zM525 240h2v12h-2zM348 252h2v11h-2zM376 252h2v11h-2zM380 252h2v11h-2zM448 252h2v11h-2zM456 252h3v11h-3zM469 252h2v11h-2zM479 252h2v11h-2zM531 252h2v11h-2zM322 263h2v12h-2zM336 263h2v12h-2zM348 263h2v12h-2zM354 263h2v12h-2zM416 263h2v12h-2zM436 263h2v12h-2zM479 263h4v12h-4zM519 263h2v12h-2zM320 275h4v11h-4zM348 275h2v11h-2zM394 275h2v11h-2zM404 275h2v11h-2zM412 275h2v11h-2zM448 275h2v11h-2zM467 275h2v11h-2zM477 275h2v11h-2zM493 275h2v11h-2zM525 275h2v11h-2zM334 286h2v12h-2zM346 286h2v12h-2zM354 286h2v12h-2zM362 286h2v12h-2zM380 286h2v12h-2zM394 286h2v12h-2zM404 286h2v12h-2zM446 286h4v12h-4zM320 309h2v12h-2zM364 309h2v12h-2zM444 309h2v12h-2zM448 309h6v12h-6zM467 309h2v12h-2zM471 309h2v12h-2zM320 344h2v12h-2zM332 344h2v12h-2zM360 344h2v12h-2zM376 344h2v12h-2zM390 344h2v12h-2zM394 344h2v12h-2zM410 344h2v12h-2zM416 344h4v12h-4zM424 344h2v12h-2zM483 344h2v12h-2zM521 344h2v12h-2zM531 344h2v12h-2zM312 356h2v11h-2zM362 356h2v11h-2zM438 356h4v11h-4zM450 356h4v11h-4zM473 356h2v11h-2zM477 356h2v11h-2zM515 356h2v11h-2zM531 356h4v11h-4zM306 379h2v11h-2zM318 379h2v11h-2zM330 379h2v11h-2zM346 379h2v11h-2zM350 379h2v11h-2zM370 379h2v11h-2zM396 379h2v11h-2zM416 379h2v11h-2zM430 379h2v11h-2zM440 379h4v11h-4zM454 379h5v11h-5zM473 379h2v11h-2zM479 379h2v11h-2zM501 379h2v11h-2zM521 379h2v11h-2zM314 425h2v12h-2zM378 425h2v12h-2zM408 425h2v12h-2zM495 425h2v12h-2z"/>
<path fill="#ffc2ad" d="M418 217h2v11h-2zM436 228h2v12h-2zM463 228h2v12h-2zM507 228h2v12h-2zM322 240h2v12h-2zM354 240h2v12h-2zM436 240h2v12h-2zM448 240h2v12h-2zM402 252h2v11h-2zM418 252h2v11h-2zM497 252h2v11h-2zM384 263h2v12h-2zM418 263h2v12h-2zM426 263h2v12h-2zM444 263h2v12h-2zM469 263h2v12h-2zM497 263h2v12h-2zM533 263h2v12h-2zM312 275h2v11h-2zM334 275h2v11h-2zM354 275h2v11h-2zM364 275h2v11h-2zM376 275h2v11h-2zM440 275h2v11h-2zM479 275h2v11h-2zM495 275h4v11h-4zM312 286h2v12h-2zM318 286h2v12h-2zM326 286h2v12h-2zM330 286h2v12h-2zM344 286h2v12h-2zM388 286h2v12h-2zM412 286h2v12h-2zM440 286h2v12h-2zM473 286h2v12h-2zM477 286h4v12h-4zM525 286h2v12h-2zM304 309h2v12h-2zM346 309h4v12h-4zM354 309h2v12h-2zM362 309h2v12h-2zM380 309h2v12h-2zM404 309h2v12h-2zM418 309h2v12h-2zM442 309h2v12h-2zM456 309h3v12h-3zM473 309h2v12h-2zM477 309h2v12h-2zM483 309h2v12h-2zM318 344h2v12h-2zM352 344h2v12h-2zM396 344h2v12h-2zM400 344h2v12h-2zM438 344h2v12h-2zM473 344h2v12h-2zM477 344h2v12h-2zM493 344h2v12h-2zM501 344h2v12h-2zM304 356h2v11h-2zM330 356h2v11h-2zM364 356h2v11h-2zM394 356h2v11h-2zM400 356h2v11h-2zM416 356h2v11h-2zM430 356h4v11h-4zM446 356h2v11h-2zM454 356h2v11h-2zM469 356h4v11h-4zM495 356h2v11h-2zM503 356h2v11h-2zM332 379h2v11h-2zM412 379h2v11h-2zM422 379h4v11h-4zM434 379h2v11h-2zM483 379h2v11h-2zM493 379h2v11h-2zM513 379h2v11h-2zM531 379h2v11h-2zM438 425h2v12h-2z"/>
<path fill="#ffbea8" d="M402 217h2v11h-2zM426 217h2v11h-2zM442 217h2v11h-2zM448 217h2v11h-2zM525 217h2v11h-2zM322 228h2v12h-2zM354 228h2v12h-2zM358 228h4v12h-4zM426 228h2v12h-2zM442 228h2v12h-2zM356 240h2v12h-2zM388 240h2v12h-2zM402 240h2v12h-2zM442 240h2v12h-2zM312 252h2v11h-2zM320 252h2v11h-2zM388 252h4v11h-4zM394 252h2v11h-2zM422 252h4v11h-4zM442 252h2v11h-2zM509 252h2v11h-2zM533 252h2v11h-2zM330 263h2v12h-2zM346 263h2v12h-2zM360 263h4v12h-4zM402 263h2v12h-2zM446 263h4v12h-4zM525 263h2v12h-2zM531 263h2v12h-2zM388 275h4v11h-4zM410 275h2v11h-2zM424 275h2v11h-2zM444 275h2v11h-2zM454 275h2v11h-2zM533 275h2v11h-2zM320 286h2v12h-2zM384 286h2v12h-2zM390 286h2v12h-2zM444 286h2v12h-2zM493 286h2v12h-2zM521 286h2v12h-2zM531 286h2v12h-2zM306 309h2v12h-2zM312 309h2v12h-2zM330 309h2v12h-2zM376 309h2v12h-2zM390 309h2v12h-2zM396 309h2v12h-2zM412 309h4v12h-4zM440 309h2v12h-2zM495 309h4v12h-4zM501 309h2v12h-2zM533 309h2v12h-2zM344 344h2v12h-2zM378 344h2v12h-2zM422 344h2v12h-2zM459 344h2v12h-2zM503 344h2v12h-2zM515 344h2v12h-2zM314 356h2v11h-2zM378 356h2v11h-2zM406 356h2v11h-2zM410 356h2v11h-2zM434 356h2v11h-2zM509 356h2v11h-2zM529 356h2v11h-2zM304 379h2v11h-2zM314 379h2v11h-2zM406 379h2v11h-2zM414 379h2v11h-2zM503 379h2v11h-2zM509 379h2v11h-2zM370 425h2v12h-2z"/>
<path fill="#ffbaa3" d="M332 217h4v11h-4zM354 217h2v11h-2zM362 217h2v11h-2zM467 217h2v11h-2zM531 217h4v11h-4zM306 228h2v12h-2zM384 228h2v12h-2zM469 228h2v12h-2zM306 240h2v12h-2zM312 240h2v12h-2zM364 240h2v12h-2zM404 240h2v12h-2zM424 240h2v12h-2zM444 240h2v12h-2zM454 240h2v12h-2zM479 240h2v12h-2zM306 252h2v11h-2zM334 252h2v11h-2zM346 252h2v11h-2zM350 252h2v11h-2zM364 252h2v11h-2zM384 252h2v11h-2zM404 252h2v11h-2zM412 252h2v11h-2zM444 252h2v11h-2zM452 252h2v11h-2zM467 252h2v11h-2zM473 252h2v11h-2zM483 252h2v11h-2zM525 252h2v11h-2zM306 263h2v12h-2zM312 263h2v12h-2zM320 263h2v12h-2zM326 263h2v12h-2zM364 263h2v12h-2zM378 263h2v12h-2zM390 263h2v12h-2zM430 263h2v12h-2zM452 263h2v12h-2zM456 263h3v12h-3zM467 263h2v12h-2zM493 263h2v12h-2zM304 275h2v11h-2zM330 275h2v11h-2zM344 275h4v11h-4zM350 275h2v11h-2zM384 275h2v11h-2zM418 275h2v11h-2zM442 275h2v11h-2zM446 275h2v11h-2zM469 275h2v11h-2zM473 275h2v11h-2zM501 275h2v11h-2zM509 275h2v11h-2zM531 275h2v11h-2zM364 286h2v12h-2zM424 286h2v12h-2zM430 286h2v12h-2zM434 286h2v12h-2zM452 286h7v12h-7zM501 286h2v12h-2zM529 286h2v12h-2zM326 309h2v12h-2zM334 309h2v12h-2zM350 309h2v12h-2zM356 309h2v12h-2zM360 309h2v12h-2zM406 309h2v12h-2zM422 309h4v12h-4zM434 309h2v12h-2zM459 309h2v12h-2zM519 309h2v12h-2zM531 309h2v12h-2zM326 344h2v12h-2zM432 344h2v12h-2zM495 344h2v12h-2zM509 344h2v12h-2zM408 356h2v11h-2zM459 379h2v11h-2zM499 379h2v11h-2zM432 425h2v12h-2zM485 425h2v12h-2z"/>
<path fill="#ffb69e" d="M384 217h2v11h-2zM436 217h2v11h-2zM454 217h2v11h-2zM469 217h2v11h-2zM477 217h2v11h-2zM519 217h2v11h-2zM312 228h2v12h-2zM320 228h2v12h-2zM346 228h2v12h-2zM364 228h2v12h-2zM467 228h2v12h-2zM521 228h2v12h-2zM525 228h2v12h-2zM334 240h2v12h-2zM390 240h2v12h-2zM446 240h2v12h-2zM467 240h2v12h-2zM304 252h2v11h-2zM414 252h4v11h-4zM426 252h2v11h-2zM450 252h2v11h-2zM501 252h4v11h-4zM521 252h2v11h-2zM304 263h2v12h-2zM332 263h2v12h-2zM350 263h2v12h-2zM356 263h2v12h-2zM376 263h2v12h-2zM380 263h2v12h-2zM388 263h2v12h-2zM394 263h2v12h-2zM400 263h2v12h-2zM404 263h2v12h-2zM414 263h2v12h-2zM422 263h2v12h-2zM440 263h2v12h-2zM454 263h2v12h-2zM477 263h2v12h-2zM306 275h2v11h-2zM318 275h2v11h-2zM380 275h2v11h-2zM414 275h4v11h-4zM434 275h2v11h-2zM450 275h4v11h-4zM483 275h2v11h-2zM521 275h2v11h-2zM529 275h2v11h-2zM322 286h2v12h-2zM400 286h2v12h-2zM410 286h2v12h-2zM438 286h2v12h-2zM450 286h2v12h-2zM469 286h4v12h-4zM497 286h2v12h-2zM515 286h2v12h-2zM519 286h2v12h-2zM318 309h2v12h-2zM332 309h2v12h-2zM370 309h2v12h-2zM469 309h2v12h-2zM509 309h2v12h-2zM525 309h2v12h-2zM529 309h2v12h-2zM308 344h2v12h-2zM314 344h2v12h-2zM356 344h2v12h-2zM406 344h2v12h-2zM513 344h2v12h-2zM318 356h2v11h-2zM352 356h2v11h-2zM356 356h2v11h-2zM374 356h2v11h-2zM513 356h2v11h-2zM517 356h2v11h-2zM308 379h2v11h-2zM428 425h2v12h-2z"/>
<path fill="#ffb299" d="M306 217h2v11h-2zM312 217h2v11h-2zM348 217h2v11h-2zM396 217h2v11h-2zM404 217h2v11h-2zM412 217h2v11h-2zM444 217h2v11h-2zM479 217h2v11h-2zM483 217h2v11h-2zM497 217h2v11h-2zM344 228h2v12h-2zM348 228h2v12h-2zM388 228h2v12h-2zM402 228h4v12h-4zM412 228h2v12h-2zM416 228h2v12h-2zM444 228h4v12h-4zM344 240h2v12h-2zM350 240h2v12h-2zM362 240h2v12h-2zM370 240h2v12h-2zM384 240h2v12h-2zM412 240h2v12h-2zM493 240h2v12h-2zM497 240h2v12h-2zM519 240h4v12h-4zM529 240h2v12h-2zM533 240h2v12h-2zM322 252h2v11h-2zM326 252h2v11h-2zM332 252h2v11h-2zM344 252h2v11h-2zM410 252h2v11h-2zM430 252h2v11h-2zM440 252h2v11h-2zM446 252h2v11h-2zM477 252h2v11h-2zM495 252h2v11h-2zM519 252h2v11h-2zM529 252h2v11h-2zM318 263h2v12h-2zM334 263h2v12h-2zM344 263h2v12h-2zM352 263h2v12h-2zM410 263h2v12h-2zM424 263h2v12h-2zM442 263h2v12h-2zM450 263h2v12h-2zM471 263h4v12h-4zM332 275h2v11h-2zM471 275h2v11h-2zM515 275h2v11h-2zM332 286h2v12h-2zM356 286h2v12h-2zM376 286h2v12h-2zM396 286h2v12h-2zM406 286h2v12h-2zM483 286h2v12h-2zM533 286h2v12h-2zM344 309h2v12h-2zM378 309h2v12h-2zM400 309h2v12h-2zM513 309h2v12h-2zM521 309h2v12h-2zM408 344h2v12h-2zM370 356h2v11h-2zM428 356h2v11h-2zM328 379h2v11h-2zM352 379h2v11h-2zM408 379h2v11h-2zM432 379h2v11h-2zM308 425h2v12h-2z"/>
<path fill="#ffae95" d="M346 217h2v11h-2zM356 217h2v11h-2zM380 217h2v11h-2zM388 217h4v11h-4zM410 217h2v11h-2zM430 217h2v11h-2zM456 217h3v11h-3zM471 217h2v11h-2zM304 228h2v12h-2zM380 228h2v12h-2zM390 228h2v12h-2zM394 228h2v12h-2zM418 228h2v12h-2zM424 228h2v12h-2zM454 228h5v12h-5zM477 228h4v12h-4zM493 228h2v12h-2zM501 228h2v12h-2zM531 228h2v12h-2zM320 240h2v12h-2zM330 240h4v12h-4zM346 240h2v12h-2zM400 240h2v12h-2zM410 240h2v12h-2zM422 240h2v12h-2zM434 240h2v12h-2zM450 240h4v12h-4zM456 240h3v12h-3zM473 240h2v12h-2zM483 240h2v12h-2zM495 240h2v12h-2zM362 252h2v11h-2zM378 252h2v11h-2zM396 252h2v11h-2zM438 252h2v11h-2zM454 252h2v11h-2zM493 252h2v11h-2zM515 252h2v11h-2zM314 263h2v12h-2zM412 263h2v12h-2zM501 263h2v12h-2zM515 263h2v12h-2zM521 263h2v12h-2zM314 275h2v11h-2zM326 275h2v11h-2zM356 275h2v11h-2zM360 275h4v11h-4zM374 275h2v11h-2zM378 275h2v11h-2zM396 275h2v11h-2zM400 275h2v11h-2zM422 275h2v11h-2zM438 275h2v11h-2zM499 275h2v11h-2zM304 286h2v12h-2zM314 286h2v12h-2zM360 286h2v12h-2zM370 286h2v12h-2zM374 286h2v12h-2zM495 286h2v12h-2zM410 309h2v12h-2zM428 309h6v12h-6zM438 309h2v12h-2zM503 309h2v12h-2zM459 356h2v11h-2zM374 379h2v11h-2zM517 379h2v11h-2zM328 425h2v12h-2zM374 425h2v12h-2zM517 425h2v12h-2z"/>
<path fill="#ffaa90" d="M320 217h2v11h-2zM330 217h2v11h-2zM344 217h2v11h-2zM364 217h2v11h-2zM440 217h2v11h-2zM473 217h2v11h-2zM493 217h2v11h-2zM515 217h2v11h-2zM330 228h6v12h-6zM362 228h2v12h-2zM410 228h2v12h-2zM438 228h4v12h-4zM450 228h2v12h-2zM529 228h2v12h-2zM318 240h2v12h-2zM326 240h2v12h-2zM376 240h2v12h-2zM380 240h2v12h-2zM396 240h2v12h-2zM416 240h2v12h-2zM440 240h2v12h-2zM515 240h2v12h-2zM318 252h2v11h-2zM352 252h2v11h-2zM356 252h2v11h-2zM360 252h2v11h-2zM370 252h2v11h-2zM406 252h2v11h-2zM434 252h2v11h-2zM471 252h2v11h-2zM406 263h2v12h-2zM438 263h2v12h-2zM509 263h2v12h-2zM529 263h2v12h-2zM308 275h2v11h-2zM408 275h2v11h-2zM430 275h2v11h-2zM456 275h3v11h-3zM513 275h2v11h-2zM519 275h2v11h-2zM414 286h4v12h-4zM499 286h2v12h-2zM509 286h2v12h-2zM374 309h2v12h-2zM485 309h2v12h-2zM328 344h2v12h-2zM517 344h2v12h-2zM308 356h2v11h-2zM499 356h2v11h-2zM499 425h2v12h-2z"/>
<path fill="#ffa68b" d="M322 217h2v11h-2zM326 217h2v11h-2zM360 217h2v11h-2zM376 217h2v11h-2zM400 217h2v11h-2zM416 217h2v11h-2zM446 217h2v11h-2zM452 217h2v11h-2zM356 228h2v12h-2zM414 228h2v12h-2zM422 228h2v12h-2zM452 228h2v12h-2zM473 228h2v12h-2zM483 228h2v12h-2zM497 228h2v12h-2zM519 228h2v12h-2zM352 240h2v12h-2zM414 240h2v12h-2zM430 240h2v12h-2zM438 240h2v12h-2zM469 240h2v12h-2zM477 240h2v12h-2zM503 240h2v12h-2zM509 240h2v12h-2zM400 252h2v11h-2zM459 252h2v11h-2zM513 252h2v11h-2zM308 263h2v12h-2zM396 263h2v12h-2zM483 263h2v12h-2zM513 263h2v12h-2zM406 275h2v11h-2zM328 286h2v12h-2zM352 286h2v12h-2zM422 286h2v12h-2zM459 286h2v12h-2zM314 309h2v12h-2zM517 309h2v12h-2zM428 344h2v12h-2zM328 356h2v11h-2zM428 379h2v11h-2zM485 379h2v11h-2z"/>
<path fill="#ffa286" d="M304 217h2v11h-2zM318 217h2v11h-2zM378 217h2v11h-2zM422 217h4v11h-4zM434 217h2v11h-2zM438 217h2v11h-2zM450 217h2v11h-2zM495 217h2v11h-2zM501 217h2v11h-2zM521 217h2v11h-2zM350 228h4v12h-4zM396 228h2v12h-2zM430 228h2v12h-2zM515 228h4v12h-4zM533 228h2v12h-2zM304 240h2v12h-2zM360 240h2v12h-2zM501 240h2v12h-2zM531 240h2v12h-2zM485 252h2v11h-2zM370 263h2v12h-2zM495 263h2v12h-2zM352 275h2v11h-2zM503 275h2v11h-2zM308 286h2v12h-2zM428 286h2v12h-2zM485 286h2v12h-2zM503 286h2v12h-2zM308 309h2v12h-2zM352 309h2v12h-2zM370 344h2v12h-2zM374 344h2v12h-2zM485 344h2v12h-2zM499 344h2v12h-2zM485 356h2v11h-2z"/>
<path fill="#ff9e81" d="M414 217h2v11h-2zM509 217h2v11h-2zM318 228h2v12h-2zM376 228h2v12h-2zM406 228h2v12h-2zM434 228h2v12h-2zM471 228h2v12h-2zM378 240h2v12h-2zM408 240h2v12h-2zM499 252h2v11h-2zM408 263h2v12h-2zM434 263h2v12h-2zM459 263h2v12h-2zM503 263h2v12h-2zM517 263h2v12h-2zM328 275h2v11h-2zM432 275h2v11h-2zM459 275h2v11h-2zM485 275h2v11h-2zM432 286h2v12h-2zM513 286h2v12h-2z"/>
<path fill="#ff9a7c" d="M394 217h2v11h-2zM529 217h2v11h-2zM378 228h2v12h-2zM400 228h2v12h-2zM495 228h2v12h-2zM509 228h2v12h-2zM394 240h2v12h-2zM459 240h2v12h-2zM471 240h2v12h-2zM428 252h2v11h-2zM408 286h2v12h-2zM517 286h2v12h-2zM408 309h2v12h-2zM499 309h2v12h-2z"/>
<path fill="#ff9678" d="M328 217h2v11h-2zM352 217h2v11h-2zM503 217h2v11h-2zM326 228h2v12h-2zM503 228h2v12h-2zM314 240h2v12h-2zM517 240h2v12h-2zM314 252h2v11h-2zM374 252h2v11h-2zM517 252h2v11h-2zM428 275h2v11h-2zM517 275h2v11h-2zM328 309h2v12h-2z"/>
<path fill="#ff9273" d="M314 217h2v11h-2zM350 217h2v11h-2zM459 217h2v11h-2zM459 228h2v12h-2zM308 240h2v12h-2zM513 240h2v12h-2zM328 263h2v12h-2zM374 263h2v12h-2z"/>
<path fill="#ff8d6e" d="M370 228h2v12h-2zM374 228h2v12h-2zM428 228h2v12h-2zM406 240h2v12h-2zM328 252h2v11h-2zM408 252h2v11h-2zM432 252h2v11h-2zM428 263h2v12h-2zM432 263h2v12h-2zM370 275h2v11h-2z"/>
<path fill="#ff8969" d="M374 217h2v11h-2zM406 217h2v11h-2zM513 217h2v11h-2zM314 228h2v12h-2zM408 228h2v12h-2zM432 228h2v12h-2zM513 228h2v12h-2zM374 240h2v12h-2zM499 240h2v12h-2zM499 263h2v12h-2z"/>
<path fill="#ff8565" d="M408 217h2v11h-2zM428 217h2v11h-2zM517 217h2v11h-2zM328 228h2v12h-2zM328 240h2v12h-2zM432 240h2v12h-2z"/>
<path fill="#ff8160" d="M308 217h2v11h-2zM428 240h2v12h-2zM485 240h2v12h-2zM308 252h2v11h-2z"/>
<path fill="#ff7c5b" d="M370 217h2v11h-2zM308 228h2v12h-2zM499 228h2v12h-2z"/>
<path fill="#ff7857" d="M499 217h2v11h-2zM485 228h2v12h-2zM485 263h2v12h-2z"/>
<path fill="#ff6f4d" d="M485 217h2v11h-2z"/>
<path fill="#ff5b3a" d="M432 217h2v11h-2z"/>
</g>
<rect x="536.6" y="207.88" width="56.2" height="6.8" fill="#7a7a7a" stroke="#111" stroke-width="1.1"/>
<text x="597.9" y="214.78" font-size="8.3" text-anchor="start" fill="#111111">ABETA</text>
<rect x="536.6" y="219.44" width="34.8" height="6.8" fill="#7a7a7a" stroke="#111" stroke-width="1.1"/>
<text x="597.9" y="226.34" font-size="8.3" text-anchor="start" fill="#111111">CTX_RH_PARSORBITALIS_SUVR</text>
<rect x="536.6" y="231" width="34.8" height="6.8" fill="#7a7a7a" stroke="#111" stroke-width="1.1"/>
<text x="597.9" y="237.9" font-size="8.3" text-anchor="start" fill="#111111">CTX_RH_ROSTRALMIDDLEFRONTAL_SUVR</text>
<rect x="536.6" y="242.56" width="31.7" height="6.8" fill="#7a7a7a" stroke="#111" stroke-width="1.1"/>
<text x="597.9" y="249.46" font-size="8.3" text-anchor="start" fill="#111111">CTX_LH_PRECUNEUS_SUVR</text>
<rect x="536.6" y="254.12" width="29.4" height="6.8" fill="#7a7a7a" stroke="#111" stroke-width="1.1"/>
<text x="597.9" y="261.02" font-size="8.3" text-anchor="start" fill="#111111">CTX_RH_PRECUNEUS_SUVR</text>
<rect x="536.6" y="265.68" width="29.4" height="6.8" fill="#7a7a7a" stroke="#111" stroke-width="1.1"/>
<text x="597.9" y="272.58" font-size="8.3" text-anchor="start" fill="#111111">SUMMARYSUVR_WHOLECEREBNORM</text>
<rect x="536.6" y="277.24" width="28.4" height="6.8" fill="#7a7a7a" stroke="#111" stroke-width="1.1"/>
<text x="597.9" y="284.14" font-size="8.3" text-anchor="start" fill="#111111">SUMMARYSUVR_COMPOSITE_REFNORM</text>
<rect x="536.6" y="288.8" width="27.5" height="6.8" fill="#7a7a7a" stroke="#111" stroke-width="1.1"/>
<text x="597.9" y="295.7" font-size="8.3" text-anchor="start" fill="#111111">CTX_RH_LATERALORBITOFRONTAL_SUVR</text>
<rect x="536.6" y="300.36" width="26.9" height="6.8" fill="#7a7a7a" stroke="#111" stroke-width="1.1"/>
<text x="597.9" y="307.26" font-size="8.3" text-anchor="start" fill="#111111">LEFT_CEREBELLUM_CORTEX_SUVR</text>
<rect x="536.6" y="311.92" width="26.2" height="6.8" fill="#7a7a7a" stroke="#111" stroke-width="1.1"/>
<text x="597.9" y="318.82" font-size="8.3" text-anchor="start" fill="#111111">TAU</text>
<rect x="536.6" y="323.48" width="25.3" height="6.8" fill="#7a7a7a" stroke="#111" stroke-width="1.1"/>
<text x="597.9" y="330.38" font-size="8.3" text-anchor="start" fill="#111111">CTX_LH_PRECENTRAL_SUVR</text>
<rect x="536.6" y="335.04" width="25.3" height="6.8" fill="#7a7a7a" stroke="#111" stroke-width="1.1"/>
<text x="597.9" y="341.94" font-size="8.3" text-anchor="start" fill="#111111">CC_POSTERIOR_SUVR</text>
<rect x="536.6" y="346.6" width="23" height="6.8" fill="#7a7a7a" stroke="#111" stroke-width="1.1"/>
<text x="597.9" y="353.5" font-size="8.3" text-anchor="start" fill="#111111">PTAU</text>
<rect x="536.6" y="358.16" width="22.4" height="6.8" fill="#7a7a7a" stroke="#111" stroke-width="1.1"/>
<text x="597.9" y="365.06" font-size="8.3" text-anchor="start" fill="#111111">CTX_RH_INFERIORPARIETAL_SUVR</text>
<rect x="536.6" y="369.72" width="22.4" height="6.8" fill="#7a7a7a" stroke="#111" stroke-width="1.1"/>
<text x="597.9" y="376.62" font-size="8.3" text-anchor="start" fill="#111111">LEFT_PUTAMEN_SUVR</text>
<rect x="536.6" y="381.28" width="22.4" height="6.8" fill="#7a7a7a" stroke="#111" stroke-width="1.1"/>
<text x="597.9" y="388.18" font-size="8.3" text-anchor="start" fill="#111111">CTX_RH_POSTERIORCINGULATE_SUVR</text>
<rect x="536.6" y="392.84" width="21.1" height="6.8" fill="#7a7a7a" stroke="#111" stroke-width="1.1"/>
<text x="597.9" y="399.74" font-size="8.3" text-anchor="start" fill="#111111">CTX_LH_INSULA_SUVR</text>
<rect x="536.6" y="404.4" width="19.9" height="6.8" fill="#7a7a7a" stroke="#111" stroke-width="1.1"/>
<text x="597.9" y="411.3" font-size="8.3" text-anchor="start" fill="#111111">CTX_RH_PRECENTRAL_SUVR</text>
<rect x="536.6" y="415.96" width="19.9" height="6.8" fill="#7a7a7a" stroke="#111" stroke-width="1.1"/>
<text x="597.9" y="422.86" font-size="8.3" text-anchor="start" fill="#111111">LEFT_PALLIDUM_SUVR</text>
<rect x="536.6" y="427.52" width="19.2" height="6.8" fill="#7a7a7a" stroke="#111" stroke-width="1.1"/>
<text x="597.9" y="434.42" font-size="8.3" text-anchor="start" fill="#111111">CC_MID_POSTERIOR_SUVR</text>
<rect x="536.4" y="205.5" width="59.1" height="231.2" fill="none" stroke="#111" stroke-width="0.9"/>
<line x1="536.3" y1="436.7" x2="593.5" y2="436.7" stroke="#111" stroke-width="0.8"/>
<line x1="536.3" y1="436.7" x2="536.3" y2="439.5" stroke="#111" stroke-width="0.8"/>
<text x="539.2" y="441.8" font-size="8.2" text-anchor="end" fill="#111111" transform="rotate(-90 539.2 441.8)">0</text>
<line x1="550.6" y1="436.7" x2="550.6" y2="439.5" stroke="#111" stroke-width="0.8"/>
<text x="553.5" y="441.8" font-size="8.2" text-anchor="end" fill="#111111" transform="rotate(-90 553.5 441.8)">0.1</text>
<line x1="564.9" y1="436.7" x2="564.9" y2="439.5" stroke="#111" stroke-width="0.8"/>
<text x="567.8" y="441.8" font-size="8.2" text-anchor="end" fill="#111111" transform="rotate(-90 567.8 441.8)">0.2</text>
<line x1="579.2" y1="436.7" x2="579.2" y2="439.5" stroke="#111" stroke-width="0.8"/>
<text x="582.1" y="441.8" font-size="8.2" text-anchor="end" fill="#111111" transform="rotate(-90 582.1 441.8)">0.3</text>
<line x1="593.5" y1="436.7" x2="593.5" y2="439.5" stroke="#111" stroke-width="0.8"/>
<text x="596.4" y="441.8" font-size="8.2" text-anchor="end" fill="#111111" transform="rotate(-90 596.4 441.8)">0.4</text>
<g shape-rendering="crispEdges">
<path fill="#0000ff" d="M451 517h2v11h-2z"/>
<path fill="#0000ff" d="M475 494h2v12h-2z"/>
<path fill="#0000ff" d="M451 494h2v12h-2zM473 506h2v11h-2z"/>
<path fill="#0000ff" d="M331 506h2v11h-2z"/>
<path fill="#3d1eff" d="M363 494h2v12h-2z"/>
<path fill="#4725ff" d="M485 494h2v12h-2zM331 517h2v11h-2z"/>
<path fill="#502bff" d="M473 494h2v12h-2zM451 572h2v11h-2z"/>
<path fill="#5731ff" d="M381 494h2v12h-2zM493 494h2v12h-2zM507 494h2v12h-2zM525 494h2v12h-2z"/>
<path fill="#5e36ff" d="M331 494h2v12h-2zM467 494h4v12h-4zM451 506h2v11h-2z"/>
<path fill="#6b40ff" d="M369 494h2v12h-2zM465 494h2v12h-2zM485 517h2v11h-2z"/>
<path fill="#7145ff" d="M343 494h2v12h-2zM357 494h2v12h-2zM401 494h2v12h-2zM435 494h2v12h-2zM363 506h2v11h-2zM387 506h2v11h-2zM467 506h2v11h-2zM381 517h2v11h-2zM475 517h2v11h-2z"/>
<path fill="#764aff" d="M325 494h2v12h-2zM337 494h2v12h-2zM387 494h2v12h-2zM423 494h2v12h-2zM495 494h2v12h-2zM521 494h2v12h-2zM531 517h2v11h-2z"/>
<path fill="#7c4fff" d="M353 494h2v12h-2zM445 494h2v12h-2zM491 494h2v12h-2zM505 494h2v12h-2zM371 506h2v11h-2z"/>
<path fill="#8154ff" d="M319 494h2v12h-2zM345 494h2v12h-2zM355 494h2v12h-2zM409 494h4v12h-4zM431 494h2v12h-2zM459 494h2v12h-2zM517 494h2v12h-2z"/>
<path fill="#8659ff" d="M323 494h2v12h-2zM349 494h2v12h-2zM375 494h2v12h-2zM443 494h2v12h-2zM487 494h2v12h-2zM513 494h2v12h-2zM531 494h2v12h-2zM381 506h2v11h-2zM473 517h2v11h-2z"/>
<path fill="#8a5dff" d="M317 494h2v12h-2zM391 494h4v12h-4zM441 494h2v12h-2zM481 494h4v12h-4zM509 494h2v12h-2zM515 494h2v12h-2zM527 494h2v12h-2zM409 506h2v11h-2zM465 506h2v11h-2zM477 506h2v11h-2zM521 506h2v11h-2zM467 517h2v11h-2zM473 572h2v11h-2z"/>
<path fill="#8f62ff" d="M309 494h2v12h-2zM335 494h2v12h-2zM339 494h2v12h-2zM361 494h2v12h-2zM399 494h2v12h-2zM529 494h2v12h-2zM375 506h2v11h-2zM487 506h2v11h-2zM505 506h4v11h-4zM525 506h2v11h-2zM371 517h2v11h-2zM401 517h2v11h-2zM443 517h2v11h-2zM491 517h2v11h-2z"/>
<path fill="#9367ff" d="M311 494h2v12h-2zM341 494h2v12h-2zM403 494h2v12h-2zM421 494h2v12h-2zM489 494h2v12h-2zM499 494h2v12h-2zM533 494h2v12h-2zM329 506h2v11h-2zM377 506h2v11h-2zM343 517h2v11h-2zM505 517h2v11h-2zM381 550h2v11h-2zM475 550h2v11h-2zM485 550h2v11h-2z"/>
<path fill="#976bff" d="M351 494h2v12h-2zM371 494h2v12h-2zM377 494h2v12h-2zM415 494h2v12h-2zM429 494h2v12h-2zM455 494h2v12h-2zM471 494h2v12h-2zM477 494h2v12h-2zM325 506h2v11h-2zM435 506h2v11h-2zM441 506h4v11h-4zM471 506h2v11h-2zM485 506h2v11h-2zM489 506h2v11h-2zM525 517h2v11h-2zM451 550h2v11h-2zM473 550h2v11h-2zM331 572h2v11h-2zM467 572h2v11h-2z"/>
<path fill="#9c70ff" d="M425 494h2v12h-2zM501 494h2v12h-2zM535 494h2v12h-2zM341 506h4v11h-4zM401 506h2v11h-2zM459 506h2v11h-2zM475 506h2v11h-2zM319 517h2v11h-2zM325 517h2v11h-2zM363 517h2v11h-2zM387 517h2v11h-2zM431 517h2v11h-2zM477 517h2v11h-2zM377 572h2v11h-2z"/>
<path fill="#a074ff" d="M413 494h2v12h-2zM453 494h2v12h-2zM503 494h2v12h-2zM309 506h2v11h-2zM317 506h2v11h-2zM337 506h2v11h-2zM353 506h2v11h-2zM357 506h2v11h-2zM391 506h2v11h-2zM429 506h2v11h-2zM445 506h2v11h-2zM515 506h2v11h-2zM357 517h2v11h-2zM423 517h2v11h-2zM429 517h2v11h-2zM445 517h2v11h-2zM527 517h2v11h-2zM467 550h2v11h-2zM491 550h2v11h-2z"/>
<path fill="#a479ff" d="M307 494h2v12h-2zM397 494h2v12h-2zM405 494h2v12h-2zM419 494h2v12h-2zM449 494h2v12h-2zM319 506h2v11h-2zM327 506h2v11h-2zM411 506h6v11h-6zM423 506h2v11h-2zM431 506h2v11h-2zM499 506h2v11h-2zM529 506h2v11h-2zM533 506h2v11h-2zM317 517h2v11h-2zM415 517h2v11h-2zM433 517h2v11h-2zM459 517h2v11h-2zM469 517h2v11h-2zM489 517h2v11h-2zM363 550h2v11h-2zM387 550h2v11h-2zM381 572h2v11h-2zM485 572h2v11h-2zM473 606h2v11h-2zM331 617h2v11h-2zM473 628h2v11h-2z"/>
<path fill="#a87eff" d="M327 494h4v12h-4zM433 494h2v12h-2zM437 494h2v12h-2zM511 494h2v12h-2zM523 494h2v12h-2zM399 506h2v11h-2zM403 506h2v11h-2zM481 506h4v11h-4zM491 506h2v11h-2zM509 506h2v11h-2zM517 506h2v11h-2zM531 506h2v11h-2zM323 517h2v11h-2zM329 517h2v11h-2zM337 517h2v11h-2zM481 517h2v11h-2zM501 517h2v11h-2zM521 517h2v11h-2zM533 517h2v11h-2zM331 550h2v11h-2zM369 550h2v11h-2zM375 550h2v11h-2zM487 550h2v11h-2zM387 572h2v11h-2zM475 572h2v11h-2zM505 572h2v11h-2zM531 572h2v11h-2zM387 606h2v11h-2z"/>
<path fill="#ab82ff" d="M333 494h2v12h-2zM373 494h2v12h-2zM383 494h2v12h-2zM417 494h2v12h-2zM323 506h2v11h-2zM345 506h2v11h-2zM393 506h2v11h-2zM421 506h2v11h-2zM433 506h2v11h-2zM513 506h2v11h-2zM309 517h2v11h-2zM353 517h2v11h-2zM375 517h2v11h-2zM391 517h4v11h-4zM399 517h2v11h-2zM409 517h4v11h-4zM465 517h2v11h-2zM531 550h2v11h-2zM401 572h2v11h-2zM501 572h2v11h-2zM331 606h2v11h-2zM451 606h2v11h-2zM467 606h2v11h-2zM475 606h2v11h-2zM485 606h2v11h-2zM473 617h2v11h-2zM331 694h2v11h-2z"/>
<path fill="#af87ff" d="M321 494h2v12h-2zM367 494h2v12h-2zM461 494h2v12h-2zM315 506h2v11h-2zM349 506h2v11h-2zM369 506h2v11h-2zM425 506h2v11h-2zM493 506h2v11h-2zM497 506h2v11h-2zM523 506h2v11h-2zM527 506h2v11h-2zM335 517h2v11h-2zM341 517h2v11h-2zM361 517h2v11h-2zM369 517h2v11h-2zM461 517h2v11h-2zM483 517h2v11h-2zM487 517h2v11h-2zM499 517h2v11h-2zM337 550h2v11h-2zM343 550h2v11h-2zM469 550h2v11h-2zM505 550h2v11h-2zM465 572h2v11h-2zM465 606h2v11h-2zM451 617h2v11h-2zM451 628h2v11h-2zM451 661h2v11h-2zM473 661h2v11h-2z"/>
<path fill="#b38bff" d="M389 494h2v12h-2zM395 494h2v12h-2zM479 494h2v12h-2zM351 506h2v11h-2zM361 506h2v11h-2zM437 506h2v11h-2zM377 517h2v11h-2zM403 517h2v11h-2zM413 517h2v11h-2zM441 517h2v11h-2zM497 517h2v11h-2zM529 517h2v11h-2zM325 550h2v11h-2zM409 550h2v11h-2zM443 550h2v11h-2zM453 550h2v11h-2zM499 550h2v11h-2zM363 572h2v11h-2zM371 572h2v11h-2zM423 572h2v11h-2zM363 617h2v11h-2zM475 617h2v11h-2zM375 628h2v11h-2zM531 628h2v11h-2zM381 694h2v11h-2zM451 694h2v11h-2zM473 694h2v11h-2z"/>
<path fill="#b690ff" d="M315 494h2v12h-2zM385 494h2v12h-2zM407 494h2v12h-2zM383 506h2v11h-2zM453 506h2v11h-2zM469 506h2v11h-2zM453 517h2v11h-2zM493 517h2v11h-2zM513 517h2v11h-2zM517 517h2v11h-2zM371 550h2v11h-2zM377 550h2v11h-2zM393 550h2v11h-2zM423 550h2v11h-2zM445 550h2v11h-2zM493 550h2v11h-2zM399 572h2v11h-2zM421 572h2v11h-2zM487 572h2v11h-2zM507 572h2v11h-2zM391 606h2v11h-2zM423 606h2v11h-2zM531 606h2v11h-2zM381 617h2v11h-2zM423 617h2v11h-2zM505 628h2v11h-2zM533 628h2v11h-2zM331 661h2v11h-2zM381 661h2v11h-2zM387 661h2v11h-2zM467 661h2v11h-2zM485 661h2v11h-2z"/>
<path fill="#ba94ff" d="M347 494h2v12h-2zM497 494h2v12h-2zM519 494h2v12h-2zM355 506h2v11h-2zM455 506h2v11h-2zM461 506h2v11h-2zM501 506h2v11h-2zM535 506h2v11h-2zM421 517h2v11h-2zM471 517h2v11h-2zM495 517h2v11h-2zM507 517h2v11h-2zM515 517h2v11h-2zM317 550h4v11h-4zM329 550h2v11h-2zM431 550h2v11h-2zM465 550h2v11h-2zM471 550h2v11h-2zM513 550h4v11h-4zM441 572h2v11h-2zM513 572h2v11h-2zM517 572h2v11h-2zM525 572h2v11h-2zM371 606h2v11h-2zM401 606h2v11h-2zM409 606h2v11h-2zM505 606h2v11h-2zM517 606h2v11h-2zM467 617h2v11h-2zM331 628h2v11h-2zM387 628h2v11h-2zM475 628h2v11h-2zM377 661h2v11h-2zM391 661h2v11h-2z"/>
<path fill="#bd99ff" d="M365 494h2v12h-2zM379 494h2v12h-2zM457 494h2v12h-2zM463 494h2v12h-2zM311 506h2v11h-2zM495 506h2v11h-2zM349 517h2v11h-2zM383 517h2v11h-2zM419 517h2v11h-2zM353 550h2v11h-2zM383 550h2v11h-2zM415 550h2v11h-2zM495 550h2v11h-2zM501 550h2v11h-2zM335 572h2v11h-2zM343 572h2v11h-2zM369 572h2v11h-2zM375 572h2v11h-2zM445 572h2v11h-2zM477 572h2v11h-2zM489 572h2v11h-2zM497 572h2v11h-2zM357 606h2v11h-2zM363 606h2v11h-2zM381 606h2v11h-2zM403 606h2v11h-2zM445 606h2v11h-2zM487 617h2v11h-2zM491 617h2v11h-2zM513 617h2v11h-2zM453 628h2v11h-2zM467 628h2v11h-2zM481 628h2v11h-2zM501 628h2v11h-2zM459 661h2v11h-2zM387 694h2v11h-2zM489 694h2v11h-2zM505 694h2v11h-2z"/>
<path fill="#c19dff" d="M427 494h2v12h-2zM447 494h2v12h-2zM335 506h2v11h-2zM389 506h2v11h-2zM419 506h2v11h-2zM449 506h2v11h-2zM345 517h2v11h-2zM435 517h2v11h-2zM535 517h2v11h-2zM345 550h2v11h-2zM361 550h2v11h-2zM391 550h2v11h-2zM413 550h2v11h-2zM421 550h2v11h-2zM433 550h4v11h-4zM441 550h2v11h-2zM481 550h4v11h-4zM497 550h2v11h-2zM527 550h2v11h-2zM317 572h2v11h-2zM325 572h2v11h-2zM341 572h2v11h-2zM345 572h2v11h-2zM353 572h2v11h-2zM389 572h4v11h-4zM409 572h2v11h-2zM425 572h2v11h-2zM433 572h2v11h-2zM443 572h2v11h-2zM453 572h2v11h-2zM469 572h2v11h-2zM521 572h2v11h-2zM443 606h2v11h-2zM481 606h2v11h-2zM489 606h2v11h-2zM495 606h2v11h-2zM533 606h2v11h-2zM377 617h2v11h-2zM401 617h2v11h-2zM471 617h2v11h-2zM485 617h2v11h-2zM531 617h2v11h-2zM393 628h2v11h-2zM489 628h4v11h-4zM477 661h2v11h-2zM527 661h2v11h-2zM377 694h2v11h-2zM465 694h4v11h-4zM481 694h2v11h-2zM485 694h2v11h-2zM531 694h2v11h-2z"/>
<path fill="#c4a2ff" d="M313 494h2v12h-2zM439 494h2v12h-2zM339 506h2v11h-2zM311 517h2v11h-2zM389 517h2v11h-2zM425 517h2v11h-2zM479 517h2v11h-2zM509 517h2v11h-2zM335 550h2v11h-2zM341 550h2v11h-2zM351 550h2v11h-2zM357 550h2v11h-2zM399 550h4v11h-4zM425 550h2v11h-2zM461 550h2v11h-2zM521 550h2v11h-2zM525 550h2v11h-2zM533 550h2v11h-2zM319 572h2v11h-2zM323 572h2v11h-2zM337 572h2v11h-2zM403 572h2v11h-2zM413 572h4v11h-4zM431 572h2v11h-2zM483 572h2v11h-2zM495 572h2v11h-2zM499 572h2v11h-2zM527 572h2v11h-2zM343 606h2v11h-2zM393 606h2v11h-2zM433 606h2v11h-2zM441 606h2v11h-2zM453 606h2v11h-2zM471 606h2v11h-2zM497 606h2v11h-2zM507 606h2v11h-2zM513 606h4v11h-4zM521 606h2v11h-2zM361 617h2v11h-2zM387 617h2v11h-2zM391 617h2v11h-2zM443 617h2v11h-2zM465 617h2v11h-2zM501 617h2v11h-2zM521 617h2v11h-2zM535 617h2v11h-2zM353 628h2v11h-2zM371 628h2v11h-2zM381 628h2v11h-2zM469 628h2v11h-2zM485 628h2v11h-2zM525 628h2v11h-2zM363 661h2v11h-2zM401 661h2v11h-2zM411 661h2v11h-2zM431 661h2v11h-2zM441 661h2v11h-2zM453 661h2v11h-2zM475 661h2v11h-2zM505 661h2v11h-2zM525 661h2v11h-2zM531 661h2v11h-2zM309 694h2v11h-2zM357 694h2v11h-2zM363 694h2v11h-2zM391 694h2v11h-2z"/>
<path fill="#c8a7ff" d="M439 506h2v11h-2zM503 506h2v11h-2zM307 517h2v11h-2zM437 517h2v11h-2zM449 517h2v11h-2zM455 517h2v11h-2zM503 517h2v11h-2zM323 550h2v11h-2zM389 550h2v11h-2zM429 550h2v11h-2zM459 550h2v11h-2zM477 550h2v11h-2zM489 550h2v11h-2zM507 550h4v11h-4zM517 550h2v11h-2zM309 572h2v11h-2zM327 572h4v11h-4zM351 572h2v11h-2zM435 572h2v11h-2zM459 572h2v11h-2zM481 572h2v11h-2zM493 572h2v11h-2zM515 572h2v11h-2zM529 572h2v11h-2zM337 606h2v11h-2zM399 606h2v11h-2zM431 606h2v11h-2zM477 606h2v11h-2zM493 606h2v11h-2zM325 617h2v11h-2zM369 617h2v11h-2zM375 617h2v11h-2zM441 617h2v11h-2zM483 617h2v11h-2zM499 617h2v11h-2zM505 617h2v11h-2zM527 617h2v11h-2zM533 617h2v11h-2zM317 628h2v11h-2zM323 628h4v11h-4zM341 628h2v11h-2zM391 628h2v11h-2zM401 628h2v11h-2zM415 628h2v11h-2zM487 628h2v11h-2zM315 661h2v11h-2zM323 661h2v11h-2zM371 661h2v11h-2zM421 661h4v11h-4zM445 661h2v11h-2zM469 661h4v11h-4zM491 661h2v11h-2zM497 661h2v11h-2zM517 661h2v11h-2zM371 694h2v11h-2zM375 694h2v11h-2zM413 694h2v11h-2zM423 694h2v11h-2zM443 694h4v11h-4zM475 694h2v11h-2zM483 694h2v11h-2zM491 694h2v11h-2z"/>
<path fill="#cbabff" d="M367 506h2v11h-2zM479 506h2v11h-2zM327 517h2v11h-2zM333 517h2v11h-2zM351 517h2v11h-2zM355 517h2v11h-2zM405 517h2v11h-2zM463 517h2v11h-2zM327 550h2v11h-2zM523 550h2v11h-2zM529 550h2v11h-2zM349 572h2v11h-2zM393 572h2v11h-2zM429 572h2v11h-2zM455 572h2v11h-2zM461 572h2v11h-2zM471 572h2v11h-2zM535 572h2v11h-2zM309 606h2v11h-2zM319 606h2v11h-2zM325 606h2v11h-2zM335 606h2v11h-2zM341 606h2v11h-2zM413 606h2v11h-2zM435 606h2v11h-2zM491 606h2v11h-2zM525 606h2v11h-2zM317 617h4v11h-4zM327 617h2v11h-2zM343 617h2v11h-2zM351 617h4v11h-4zM357 617h2v11h-2zM411 617h2v11h-2zM429 617h2v11h-2zM435 617h2v11h-2zM459 617h2v11h-2zM469 617h2v11h-2zM493 617h2v11h-2zM515 617h4v11h-4zM525 617h2v11h-2zM319 628h2v11h-2zM327 628h2v11h-2zM335 628h2v11h-2zM343 628h4v11h-4zM357 628h2v11h-2zM363 628h2v11h-2zM399 628h2v11h-2zM409 628h2v11h-2zM441 628h6v11h-6zM461 628h2v11h-2zM499 628h2v11h-2zM515 628h2v11h-2zM521 628h2v11h-2zM309 661h2v11h-2zM317 661h4v11h-4zM345 661h2v11h-2zM357 661h2v11h-2zM393 661h2v11h-2zM425 661h2v11h-2zM429 661h2v11h-2zM443 661h2v11h-2zM507 661h2v11h-2zM521 661h2v11h-2zM533 661h4v11h-4zM415 694h2v11h-2zM459 694h2v11h-2zM477 694h2v11h-2zM501 694h2v11h-2zM507 694h2v11h-2zM515 694h2v11h-2zM533 694h2v11h-2z"/>
<path fill="#ceb0ff" d="M373 506h2v11h-2zM395 506h2v11h-2zM367 517h2v11h-2zM397 517h2v11h-2zM523 517h2v11h-2zM309 550h2v11h-2zM315 550h2v11h-2zM349 550h2v11h-2zM403 550h2v11h-2zM411 550h2v11h-2zM419 550h2v11h-2zM357 572h2v11h-2zM383 572h2v11h-2zM411 572h2v11h-2zM503 572h2v11h-2zM327 606h2v11h-2zM345 606h2v11h-2zM353 606h2v11h-2zM361 606h2v11h-2zM415 606h2v11h-2zM429 606h2v11h-2zM459 606h4v11h-4zM469 606h2v11h-2zM483 606h2v11h-2zM323 617h2v11h-2zM335 617h2v11h-2zM341 617h2v11h-2zM371 617h2v11h-2zM413 617h2v11h-2zM421 617h2v11h-2zM431 617h2v11h-2zM445 617h2v11h-2zM309 628h2v11h-2zM369 628h2v11h-2zM377 628h2v11h-2zM403 628h2v11h-2zM431 628h2v11h-2zM459 628h2v11h-2zM465 628h2v11h-2zM495 628h4v11h-4zM507 628h2v11h-2zM529 628h2v11h-2zM325 661h2v11h-2zM335 661h2v11h-2zM341 661h2v11h-2zM351 661h2v11h-2zM361 661h2v11h-2zM369 661h2v11h-2zM389 661h2v11h-2zM403 661h2v11h-2zM435 661h2v11h-2zM481 661h2v11h-2zM487 661h4v11h-4zM325 694h2v11h-2zM343 694h2v11h-2zM353 694h2v11h-2zM401 694h2v11h-2zM431 694h2v11h-2zM441 694h2v11h-2zM453 694h2v11h-2zM471 694h2v11h-2z"/>
<path fill="#d1b4ff" d="M333 506h2v11h-2zM405 506h4v11h-4zM511 506h2v11h-2zM321 517h2v11h-2zM373 517h2v11h-2zM511 517h2v11h-2zM339 550h2v11h-2zM367 550h2v11h-2zM437 550h2v11h-2zM311 572h2v11h-2zM437 572h2v11h-2zM533 572h2v11h-2zM317 606h2v11h-2zM323 606h2v11h-2zM329 606h2v11h-2zM351 606h2v11h-2zM375 606h4v11h-4zM411 606h2v11h-2zM501 606h2v11h-2zM509 606h2v11h-2zM527 606h2v11h-2zM535 606h2v11h-2zM309 617h2v11h-2zM329 617h2v11h-2zM337 617h2v11h-2zM409 617h2v11h-2zM415 617h2v11h-2zM497 617h2v11h-2zM507 617h2v11h-2zM315 628h2v11h-2zM337 628h2v11h-2zM351 628h2v11h-2zM389 628h2v11h-2zM421 628h2v11h-2zM435 628h2v11h-2zM483 628h2v11h-2zM509 628h2v11h-2zM513 628h2v11h-2zM517 628h2v11h-2zM527 628h2v11h-2zM327 661h4v11h-4zM353 661h2v11h-2zM375 661h2v11h-2zM433 661h2v11h-2zM493 661h2v11h-2zM513 661h2v11h-2zM341 694h2v11h-2zM361 694h2v11h-2zM393 694h2v11h-2zM429 694h2v11h-2zM455 694h2v11h-2zM469 694h2v11h-2zM487 694h2v11h-2zM493 694h2v11h-2zM499 694h2v11h-2zM513 694h2v11h-2zM517 694h2v11h-2zM525 694h4v11h-4zM535 694h2v11h-2z"/>
<path fill="#d4b9ff" d="M447 506h2v11h-2zM463 506h2v11h-2zM315 517h2v11h-2zM339 517h2v11h-2zM321 550h2v11h-2zM355 550h2v11h-2zM439 550h2v11h-2zM449 550h2v11h-2zM535 550h2v11h-2zM355 572h2v11h-2zM367 572h2v11h-2zM397 572h2v11h-2zM509 572h2v11h-2zM523 572h2v11h-2zM355 606h2v11h-2zM369 606h2v11h-2zM383 606h2v11h-2zM389 606h2v11h-2zM425 606h2v11h-2zM449 606h2v11h-2zM455 606h2v11h-2zM487 606h2v11h-2zM529 606h2v11h-2zM315 617h2v11h-2zM345 617h2v11h-2zM349 617h2v11h-2zM355 617h2v11h-2zM403 617h2v11h-2zM425 617h2v11h-2zM433 617h2v11h-2zM453 617h2v11h-2zM461 617h2v11h-2zM477 617h2v11h-2zM481 617h2v11h-2zM489 617h2v11h-2zM311 628h2v11h-2zM349 628h2v11h-2zM411 628h2v11h-2zM423 628h2v11h-2zM429 628h2v11h-2zM471 628h2v11h-2zM493 628h2v11h-2zM339 661h2v11h-2zM343 661h2v11h-2zM349 661h2v11h-2zM409 661h2v11h-2zM413 661h2v11h-2zM483 661h2v11h-2zM495 661h2v11h-2zM501 661h2v11h-2zM315 694h2v11h-2zM319 694h2v11h-2zM323 694h2v11h-2zM337 694h2v11h-2zM345 694h2v11h-2zM349 694h2v11h-2zM369 694h2v11h-2zM403 694h2v11h-2zM409 694h4v11h-4zM495 694h4v11h-4z"/>
<path fill="#d7beff" d="M385 506h2v11h-2zM397 506h2v11h-2zM395 517h2v11h-2zM407 517h2v11h-2zM439 517h2v11h-2zM447 517h2v11h-2zM457 517h2v11h-2zM373 550h2v11h-2zM455 550h2v11h-2zM503 550h2v11h-2zM315 572h2v11h-2zM321 572h2v11h-2zM361 572h2v11h-2zM373 572h2v11h-2zM419 572h2v11h-2zM449 572h2v11h-2zM479 572h2v11h-2zM491 572h2v11h-2zM511 572h2v11h-2zM333 606h2v11h-2zM349 606h2v11h-2zM419 606h2v11h-2zM499 606h2v11h-2zM383 617h2v11h-2zM399 617h2v11h-2zM437 617h2v11h-2zM455 617h2v11h-2zM523 617h2v11h-2zM529 617h2v11h-2zM333 628h2v11h-2zM383 628h2v11h-2zM413 628h2v11h-2zM425 628h2v11h-2zM433 628h2v11h-2zM455 628h2v11h-2zM477 628h2v11h-2zM535 628h2v11h-2zM383 661h2v11h-2zM415 661h2v11h-2zM455 661h2v11h-2zM465 661h2v11h-2zM499 661h2v11h-2zM509 661h2v11h-2zM515 661h2v11h-2zM523 661h2v11h-2zM529 661h2v11h-2zM317 694h2v11h-2zM329 694h2v11h-2zM335 694h2v11h-2zM339 694h2v11h-2zM421 694h2v11h-2zM425 694h2v11h-2zM433 694h4v11h-4zM461 694h2v11h-2zM521 694h2v11h-2z"/>
<path fill="#dac2ff" d="M321 506h2v11h-2zM365 506h2v11h-2zM417 506h2v11h-2zM347 517h2v11h-2zM385 517h2v11h-2zM311 550h2v11h-2zM405 550h2v11h-2zM511 550h2v11h-2zM333 572h2v11h-2zM439 572h2v11h-2zM463 572h2v11h-2zM311 606h2v11h-2zM405 606h2v11h-2zM437 606h2v11h-2zM311 617h2v11h-2zM321 617h2v11h-2zM389 617h2v11h-2zM393 617h2v11h-2zM419 617h2v11h-2zM479 617h2v11h-2zM495 617h2v11h-2zM509 617h2v11h-2zM339 628h2v11h-2zM361 628h2v11h-2zM419 628h2v11h-2zM437 628h2v11h-2zM523 628h2v11h-2zM337 661h2v11h-2zM397 661h4v11h-4zM437 661h2v11h-2zM321 694h2v11h-2zM367 694h2v11h-2zM389 694h2v11h-2zM399 694h2v11h-2zM523 694h2v11h-2z"/>
<path fill="#dec7ff" d="M457 506h2v11h-2zM365 517h2v11h-2zM307 550h2v11h-2zM397 550h2v11h-2zM417 550h2v11h-2zM447 550h2v11h-2zM405 572h2v11h-2zM315 606h2v11h-2zM367 606h2v11h-2zM439 606h2v11h-2zM333 617h2v11h-2zM367 617h2v11h-2zM321 628h2v11h-2zM329 628h2v11h-2zM367 628h2v11h-2zM449 628h2v11h-2zM503 628h2v11h-2zM321 661h2v11h-2zM333 661h2v11h-2zM367 661h2v11h-2zM419 661h2v11h-2zM479 661h2v11h-2zM503 661h2v11h-2zM307 694h2v11h-2zM327 694h2v11h-2zM351 694h2v11h-2zM355 694h2v11h-2zM437 694h2v11h-2zM509 694h2v11h-2z"/>
<path fill="#e0cbff" d="M313 506h2v11h-2zM427 506h2v11h-2zM379 517h2v11h-2zM417 517h2v11h-2zM427 517h2v11h-2zM385 550h2v11h-2zM395 550h2v11h-2zM457 550h2v11h-2zM463 550h2v11h-2zM479 550h2v11h-2zM339 572h2v11h-2zM395 572h2v11h-2zM407 572h2v11h-2zM307 606h2v11h-2zM339 606h2v11h-2zM373 606h2v11h-2zM417 606h2v11h-2zM421 606h2v11h-2zM463 606h2v11h-2zM503 606h2v11h-2zM511 606h2v11h-2zM523 606h2v11h-2zM339 617h2v11h-2zM397 617h2v11h-2zM463 617h2v11h-2zM355 628h2v11h-2zM405 628h2v11h-2zM479 628h2v11h-2zM405 661h2v11h-2zM449 661h2v11h-2zM311 694h2v11h-2zM383 694h2v11h-2zM405 694h2v11h-2zM479 694h2v11h-2zM511 694h2v11h-2zM529 694h2v11h-2z"/>
<path fill="#e3d0ff" d="M307 506h2v11h-2zM347 506h2v11h-2zM379 506h2v11h-2zM519 506h2v11h-2zM313 517h2v11h-2zM333 550h2v11h-2zM347 550h2v11h-2zM407 550h2v11h-2zM427 550h2v11h-2zM307 572h2v11h-2zM417 572h2v11h-2zM447 572h2v11h-2zM457 572h2v11h-2zM321 606h2v11h-2zM397 606h2v11h-2zM407 606h2v11h-2zM479 606h2v11h-2zM405 617h2v11h-2zM439 617h2v11h-2zM447 617h2v11h-2zM457 617h2v11h-2zM503 617h2v11h-2zM511 617h2v11h-2zM385 628h2v11h-2zM397 628h2v11h-2zM439 628h2v11h-2zM311 661h2v11h-2zM373 661h2v11h-2zM461 661h2v11h-2zM511 661h2v11h-2zM333 694h2v11h-2zM397 694h2v11h-2zM407 694h2v11h-2zM447 694h2v11h-2zM463 694h2v11h-2zM503 694h2v11h-2z"/>
<path fill="#e6d5ff" d="M519 517h2v11h-2zM365 550h2v11h-2zM519 550h2v11h-2zM313 572h2v11h-2zM347 572h2v11h-2zM365 572h2v11h-2zM385 572h2v11h-2zM385 606h2v11h-2zM395 606h2v11h-2zM447 606h2v11h-2zM307 617h2v11h-2zM347 617h2v11h-2zM373 617h2v11h-2zM417 617h2v11h-2zM449 617h2v11h-2zM307 628h2v11h-2zM373 628h2v11h-2zM395 628h2v11h-2zM407 628h2v11h-2zM447 628h2v11h-2zM457 628h2v11h-2zM463 628h2v11h-2zM511 628h2v11h-2zM307 661h2v11h-2zM439 661h2v11h-2zM457 661h2v11h-2zM463 661h2v11h-2zM373 694h2v11h-2zM439 694h2v11h-2zM449 694h2v11h-2z"/>
<path fill="#e9d9ff" d="M313 550h2v11h-2zM379 550h2v11h-2zM427 572h2v11h-2zM519 572h2v11h-2zM365 606h2v11h-2zM427 606h2v11h-2zM457 606h2v11h-2zM365 617h2v11h-2zM385 617h2v11h-2zM395 617h2v11h-2zM407 617h2v11h-2zM313 628h2v11h-2zM365 628h2v11h-2zM417 628h2v11h-2zM427 628h2v11h-2zM313 661h2v11h-2zM355 661h2v11h-2zM385 661h2v11h-2zM395 661h2v11h-2zM407 661h2v11h-2zM447 661h2v11h-2zM417 694h4v11h-4zM427 694h2v11h-2zM457 694h2v11h-2z"/>
<path fill="#ecdeff" d="M347 606h2v11h-2zM519 606h2v11h-2zM313 617h2v11h-2zM427 617h2v11h-2zM347 628h2v11h-2zM519 628h2v11h-2zM347 661h2v11h-2zM365 661h2v11h-2zM417 661h2v11h-2zM427 661h2v11h-2zM313 694h2v11h-2zM347 694h2v11h-2zM379 694h2v11h-2zM395 694h2v11h-2z"/>
<path fill="#efe3ff" d="M379 572h2v11h-2zM313 606h2v11h-2zM379 606h2v11h-2zM379 617h2v11h-2zM519 617h2v11h-2zM379 628h2v11h-2zM519 661h2v11h-2zM385 694h2v11h-2zM519 694h2v11h-2z"/>
<path fill="#f2e7ff" d="M359 494h2v12h-2zM379 661h2v11h-2zM365 694h2v11h-2z"/>
<path fill="#f4ecff" d="M359 506h2v11h-2zM359 517h2v11h-2z"/>
<path fill="#f7f1ff" d="M359 550h2v11h-2zM359 572h2v11h-2zM359 606h2v11h-2zM359 617h2v11h-2zM359 628h2v11h-2zM359 661h2v11h-2z"/>
<path fill="#faf6ff" d="M359 694h2v11h-2z"/>
<path fill="#fff4ef" d="M359 639h2v11h-2zM359 650h2v11h-2zM359 672h2v11h-2zM359 683h2v11h-2zM359 705h2v12h-2z"/>
<path fill="#fff0ea" d="M359 528h2v11h-2zM359 539h2v11h-2zM359 561h2v11h-2zM359 583h2v11h-2zM359 594h2v12h-2z"/>
<path fill="#ffece5" d="M379 683h2v11h-2z"/>
<path fill="#ffe8e0" d="M519 683h2v11h-2z"/>
<path fill="#ffe4db" d="M313 650h2v11h-2zM313 683h2v11h-2zM379 705h2v12h-2zM427 705h2v12h-2z"/>
<path fill="#ffe0d6" d="M427 561h2v11h-2zM379 639h2v11h-2zM427 639h2v11h-2zM519 639h2v11h-2zM379 650h2v11h-2zM313 672h2v11h-2zM365 672h2v11h-2zM427 672h2v11h-2zM365 683h2v11h-2zM427 683h2v11h-2zM347 705h2v12h-2zM365 705h2v12h-2z"/>
<path fill="#ffddd0" d="M519 528h2v11h-2zM519 539h2v11h-2zM313 561h2v11h-2zM379 561h2v11h-2zM519 583h2v11h-2zM313 594h2v12h-2zM427 594h2v12h-2zM313 639h2v11h-2zM347 639h2v11h-2zM365 639h2v11h-2zM385 639h2v11h-2zM307 650h2v11h-2zM385 650h2v11h-2zM427 650h2v11h-2zM519 650h2v11h-2zM347 672h2v11h-2zM379 672h2v11h-2zM519 672h2v11h-2zM333 683h2v11h-2zM347 683h2v11h-2zM407 683h2v11h-2zM519 705h2v12h-2z"/>
<path fill="#ffd9cb" d="M313 528h2v11h-2zM379 528h2v11h-2zM439 561h2v11h-2zM519 561h2v11h-2zM313 583h2v11h-2zM347 583h2v11h-2zM379 583h2v11h-2zM427 583h2v11h-2zM347 594h2v12h-2zM365 594h2v12h-2zM379 594h2v12h-2zM457 594h2v12h-2zM373 639h2v11h-2zM395 639h2v11h-2zM417 639h2v11h-2zM347 650h2v11h-2zM365 650h2v11h-2zM405 650h2v11h-2zM417 650h2v11h-2zM457 650h2v11h-2zM385 672h2v11h-2zM395 672h2v11h-2zM463 672h2v11h-2zM447 683h2v11h-2zM457 683h2v11h-2zM313 705h2v12h-2zM373 705h2v12h-2zM395 705h2v12h-2zM407 705h2v12h-2zM439 705h2v12h-2zM447 705h2v12h-2z"/>
<path fill="#ffd5c6" d="M313 539h2v11h-2zM347 539h2v11h-2zM365 539h2v11h-2zM395 539h2v11h-2zM307 583h2v11h-2zM385 583h2v11h-2zM407 583h2v11h-2zM417 583h2v11h-2zM321 639h2v11h-2zM511 650h2v11h-2zM417 672h2v11h-2zM373 683h2v11h-2zM385 683h2v11h-2zM417 683h2v11h-2zM511 683h2v11h-2zM385 705h2v12h-2zM405 705h2v12h-2zM449 705h2v12h-2zM457 705h2v12h-2z"/>
<path fill="#ffd1c1" d="M427 528h2v11h-2zM379 539h2v11h-2zM427 539h2v11h-2zM365 561h2v11h-2zM385 561h2v11h-2zM365 583h2v11h-2zM373 583h2v11h-2zM385 594h2v12h-2zM407 594h2v12h-2zM417 594h2v12h-2zM307 639h2v11h-2zM407 639h2v11h-2zM439 639h2v11h-2zM447 639h2v11h-2zM457 639h2v11h-2zM463 639h2v11h-2zM479 639h2v11h-2zM373 650h2v11h-2zM407 650h2v11h-2zM439 650h2v11h-2zM447 650h2v11h-2zM463 650h2v11h-2zM307 672h2v11h-2zM407 672h2v11h-2zM447 672h2v11h-2zM395 683h2v11h-2zM463 683h2v11h-2zM417 705h2v12h-2z"/>
<path fill="#ffcdbc" d="M347 528h2v11h-2zM395 528h2v11h-2zM439 539h2v11h-2zM307 561h2v11h-2zM347 561h2v11h-2zM417 561h2v11h-2zM405 583h2v11h-2zM447 583h2v11h-2zM463 583h2v11h-2zM307 594h2v12h-2zM311 594h2v12h-2zM373 594h2v12h-2zM395 594h4v12h-4zM439 594h2v12h-2zM449 594h2v12h-2zM405 639h2v11h-2zM395 650h2v11h-2zM333 672h2v11h-2zM373 672h2v11h-2zM439 672h2v11h-2zM311 683h2v11h-2zM397 683h2v11h-2zM405 683h2v11h-2zM429 683h2v11h-2zM439 683h2v11h-2zM479 683h2v11h-2zM307 705h2v12h-2zM511 705h2v12h-2z"/>
<path fill="#ffc9b7" d="M339 528h2v11h-2zM365 528h2v11h-2zM417 528h2v11h-2zM449 528h2v11h-2zM385 539h2v11h-2zM405 539h2v11h-2zM457 539h2v11h-2zM395 561h2v11h-2zM457 561h2v11h-2zM321 583h2v11h-2zM395 583h4v11h-4zM457 583h2v11h-2zM333 594h2v12h-2zM419 594h2v12h-2zM447 594h2v12h-2zM311 639h2v11h-2zM333 639h2v11h-2zM367 639h2v11h-2zM403 639h2v11h-2zM477 639h2v11h-2zM511 639h2v11h-2zM367 650h2v11h-2zM461 650h2v11h-2zM321 672h2v11h-2zM367 672h2v11h-2zM405 672h2v11h-2zM449 672h2v11h-2zM455 672h4v11h-4zM511 672h2v11h-2zM307 683h2v11h-2zM321 683h2v11h-2zM339 683h2v11h-2zM367 683h2v11h-2zM449 683h2v11h-2zM321 705h2v12h-2zM367 705h2v12h-2zM479 705h2v12h-2z"/>
<path fill="#ffc6b2" d="M307 528h2v11h-2zM333 528h2v11h-2zM417 539h2v11h-2zM479 539h2v11h-2zM373 561h2v11h-2zM447 561h2v11h-2zM463 561h2v11h-2zM439 583h2v11h-2zM339 594h2v12h-2zM355 639h2v11h-2zM397 639h2v11h-2zM437 639h2v11h-2zM449 639h2v11h-2zM321 650h2v11h-2zM333 650h2v11h-2zM397 650h2v11h-2zM503 650h2v11h-2zM419 683h2v11h-2zM437 683h2v11h-2zM503 683h2v11h-2zM523 683h2v11h-2zM315 705h2v12h-2zM349 705h2v12h-2zM355 705h2v12h-2zM463 705h2v12h-2zM503 705h2v12h-2z"/>
<path fill="#ffc2ad" d="M385 528h2v11h-2zM307 539h2v11h-2zM333 539h2v11h-2zM367 539h2v11h-2zM407 539h2v11h-2zM511 539h2v11h-2zM315 561h2v11h-2zM321 561h2v11h-2zM397 561h2v11h-2zM405 561h2v11h-2zM437 561h2v11h-2zM483 561h2v11h-2zM419 583h2v11h-2zM511 583h2v11h-2zM355 594h2v12h-2zM383 594h2v12h-2zM405 594h2v12h-2zM463 594h2v12h-2zM469 594h2v12h-2zM479 594h2v12h-2zM511 594h2v12h-2zM315 639h2v11h-2zM327 639h2v11h-2zM339 639h2v11h-2zM351 639h2v11h-2zM389 639h2v11h-2zM419 639h2v11h-2zM461 639h2v11h-2zM503 639h2v11h-2zM523 639h2v11h-2zM311 650h2v11h-2zM315 650h2v11h-2zM383 650h2v11h-2zM413 650h2v11h-2zM437 650h2v11h-2zM483 650h2v11h-2zM509 650h2v11h-2zM339 672h2v11h-2zM349 672h2v11h-2zM355 672h2v11h-2zM397 672h2v11h-2zM437 672h2v11h-2zM503 672h2v11h-2zM527 672h2v11h-2zM329 683h2v11h-2zM349 683h2v11h-2zM507 683h2v11h-2zM325 705h2v12h-2zM333 705h2v12h-2zM339 705h2v12h-2zM371 705h2v12h-2zM383 705h2v12h-2zM397 705h4v12h-4zM435 705h2v12h-2zM453 705h2v12h-2zM493 705h2v12h-2zM523 705h2v12h-2z"/>
<path fill="#ffbea8" d="M373 528h2v11h-2zM439 528h2v11h-2zM463 528h2v11h-2zM447 539h2v11h-2zM503 539h2v11h-2zM523 539h2v11h-2zM355 561h2v11h-2zM497 561h2v11h-2zM333 583h2v11h-2zM339 583h2v11h-2zM355 583h2v11h-2zM449 583h2v11h-2zM455 583h2v11h-2zM479 583h2v11h-2zM321 594h2v12h-2zM375 594h2v12h-2zM413 594h2v12h-2zM509 594h2v12h-2zM523 594h2v12h-2zM429 639h2v11h-2zM339 650h2v11h-2zM419 650h2v11h-2zM449 650h2v11h-2zM469 650h2v11h-2zM479 650h2v11h-2zM309 672h2v11h-2zM315 672h2v11h-2zM479 672h2v11h-2zM523 672h2v11h-2zM497 683h2v11h-2zM527 683h2v11h-2zM309 705h2v12h-2zM389 705h2v12h-2zM403 705h2v12h-2zM455 705h2v12h-2z"/>
<path fill="#ffbaa3" d="M447 528h2v11h-2zM373 539h2v11h-2zM455 539h2v11h-2zM333 561h2v11h-2zM419 561h2v11h-2zM449 561h2v11h-2zM479 561h2v11h-2zM375 583h2v11h-2zM509 583h2v11h-2zM327 594h2v12h-2zM429 594h2v12h-2zM437 594h2v12h-2zM497 594h2v12h-2zM503 594h2v12h-2zM535 594h2v12h-2zM337 639h2v11h-2zM375 639h2v11h-2zM409 639h2v11h-2zM481 639h2v11h-2zM501 639h2v11h-2zM319 650h2v11h-2zM327 650h2v11h-2zM351 650h2v11h-2zM481 650h2v11h-2zM523 650h2v11h-2zM311 672h2v11h-2zM329 672h2v11h-2zM335 672h2v11h-2zM419 672h2v11h-2zM445 672h2v11h-2zM521 672h2v11h-2zM309 683h2v11h-2zM327 683h2v11h-2zM355 683h2v11h-2zM383 683h2v11h-2zM411 683h2v11h-2zM435 683h2v11h-2zM455 683h2v11h-2zM499 683h2v11h-2zM509 683h2v11h-2zM513 683h2v11h-2zM535 683h2v11h-2zM311 705h2v12h-2zM351 705h2v12h-2zM361 705h2v12h-2zM419 705h2v12h-2zM425 705h2v12h-2zM499 705h2v12h-2zM509 705h2v12h-2zM513 705h2v12h-2zM529 705h2v12h-2z"/>
<path fill="#ffb69e" d="M419 528h2v11h-2zM457 528h2v11h-2zM321 539h2v11h-2zM339 539h2v11h-2zM355 539h2v11h-2zM397 539h2v11h-2zM449 539h2v11h-2zM463 539h2v11h-2zM535 539h2v11h-2zM503 561h2v11h-2zM523 561h2v11h-2zM311 583h2v11h-2zM393 583h2v11h-2zM469 583h2v11h-2zM493 583h2v11h-2zM503 583h2v11h-2zM351 594h2v12h-2zM483 594h2v12h-2zM345 639h2v11h-2zM421 639h2v11h-2zM453 639h2v11h-2zM499 639h2v11h-2zM309 650h2v11h-2zM325 650h2v11h-2zM355 650h2v11h-2zM445 650h2v11h-2zM471 650h2v11h-2zM489 650h2v11h-2zM493 650h2v11h-2zM327 672h2v11h-2zM357 672h2v11h-2zM383 672h2v11h-2zM411 672h4v11h-4zM493 672h2v11h-2zM499 672h2v11h-2zM315 683h2v11h-2zM337 683h2v11h-2zM341 683h2v11h-2zM345 683h2v11h-2zM361 683h2v11h-2zM389 683h2v11h-2zM415 683h2v11h-2zM461 683h2v11h-2zM491 683h4v11h-4zM317 705h4v12h-4zM327 705h4v12h-4zM341 705h2v12h-2zM369 705h2v12h-2zM445 705h2v12h-2zM495 705h2v12h-2zM515 705h4v12h-4zM527 705h2v12h-2z"/>
<path fill="#ffb299" d="M397 528h2v11h-2zM405 528h2v11h-2zM419 539h2v11h-2zM425 561h2v11h-2zM315 583h2v11h-2zM327 583h2v11h-2zM351 583h2v11h-2zM367 583h2v11h-2zM423 583h2v11h-2zM429 583h2v11h-2zM437 583h2v11h-2zM315 594h2v12h-2zM335 594h2v12h-2zM367 594h2v12h-2zM445 594h2v12h-2zM455 594h2v12h-2zM309 639h2v11h-2zM341 639h2v11h-2zM383 639h2v11h-2zM425 639h2v11h-2zM455 639h2v11h-2zM491 639h2v11h-2zM497 639h2v11h-2zM521 639h2v11h-2zM529 639h2v11h-2zM337 650h2v11h-2zM389 650h2v11h-2zM421 650h2v11h-2zM435 650h2v11h-2zM455 650h2v11h-2zM497 650h2v11h-2zM319 672h2v11h-2zM345 672h2v11h-2zM353 672h2v11h-2zM361 672h2v11h-2zM389 672h2v11h-2zM425 672h2v11h-2zM429 672h2v11h-2zM435 672h2v11h-2zM477 672h2v11h-2zM317 683h2v11h-2zM353 683h2v11h-2zM371 683h2v11h-2zM377 683h2v11h-2zM391 683h2v11h-2zM403 683h2v11h-2zM413 683h2v11h-2zM421 683h2v11h-2zM425 683h2v11h-2zM433 683h2v11h-2zM521 683h2v11h-2zM533 683h2v11h-2zM335 705h2v12h-2zM393 705h2v12h-2zM471 705h2v12h-2zM477 705h2v12h-2zM483 705h2v12h-2zM533 705h2v12h-2z"/>
<path fill="#ffae95" d="M319 528h4v11h-4zM329 528h2v11h-2zM389 528h2v11h-2zM503 528h2v11h-2zM311 539h2v11h-2zM311 561h2v11h-2zM339 561h2v11h-2zM361 561h2v11h-2zM367 561h2v11h-2zM393 561h2v11h-2zM481 561h2v11h-2zM493 561h2v11h-2zM535 561h2v11h-2zM337 583h2v11h-2zM343 583h2v11h-2zM383 583h2v11h-2zM389 583h2v11h-2zM411 583h2v11h-2zM421 583h2v11h-2zM433 583h2v11h-2zM461 583h2v11h-2zM309 594h2v12h-2zM345 594h2v12h-2zM411 594h2v12h-2zM501 594h2v12h-2zM515 594h4v12h-4zM317 639h2v11h-2zM329 639h2v11h-2zM343 639h2v11h-2zM349 639h2v11h-2zM353 639h2v11h-2zM361 639h2v11h-2zM413 639h2v11h-2zM445 639h2v11h-2zM483 639h2v11h-2zM495 639h2v11h-2zM509 639h2v11h-2zM515 639h4v11h-4zM531 639h2v11h-2zM317 650h2v11h-2zM343 650h4v11h-4zM349 650h2v11h-2zM403 650h2v11h-2zM433 650h2v11h-2zM443 650h2v11h-2zM495 650h2v11h-2zM499 650h2v11h-2zM343 672h2v11h-2zM351 672h2v11h-2zM377 672h2v11h-2zM393 672h2v11h-2zM431 672h2v11h-2zM461 672h2v11h-2zM495 672h4v11h-4zM501 672h2v11h-2zM509 672h2v11h-2zM515 672h2v11h-2zM319 683h2v11h-2zM351 683h2v11h-2zM431 683h2v11h-2zM483 683h2v11h-2zM323 705h2v12h-2zM345 705h2v12h-2zM411 705h6v12h-6zM431 705h2v12h-2zM459 705h2v12h-2zM469 705h2v12h-2zM497 705h2v12h-2z"/>
<path fill="#ffaa90" d="M311 528h2v11h-2zM337 528h2v11h-2zM403 528h2v11h-2zM437 528h2v11h-2zM479 528h2v11h-2zM497 539h2v11h-2zM337 561h2v11h-2zM399 561h2v11h-2zM415 561h2v11h-2zM455 561h2v11h-2zM309 583h2v11h-2zM325 583h2v11h-2zM345 583h2v11h-2zM403 583h2v11h-2zM425 583h2v11h-2zM487 583h2v11h-2zM495 583h2v11h-2zM523 583h2v11h-2zM529 583h2v11h-2zM319 594h2v12h-2zM329 594h2v12h-2zM369 594h2v12h-2zM393 594h2v12h-2zM323 639h2v11h-2zM363 639h2v11h-2zM369 639h4v11h-4zM411 639h2v11h-2zM459 639h2v11h-2zM469 639h2v11h-2zM527 639h2v11h-2zM533 639h2v11h-2zM323 650h2v11h-2zM341 650h2v11h-2zM361 650h2v11h-2zM399 650h2v11h-2zM409 650h2v11h-2zM431 650h2v11h-2zM491 650h2v11h-2zM527 650h4v11h-4zM323 672h2v11h-2zM441 672h2v11h-2zM469 672h2v11h-2zM483 672h2v11h-2zM517 672h2v11h-2zM531 672h2v11h-2zM323 683h2v11h-2zM343 683h2v11h-2zM357 683h2v11h-2zM375 683h2v11h-2zM393 683h2v11h-2zM399 683h2v11h-2zM459 683h2v11h-2zM487 683h2v11h-2zM515 683h2v11h-2zM377 705h2v12h-2zM409 705h2v12h-2zM421 705h2v12h-2zM429 705h2v12h-2zM437 705h2v12h-2zM441 705h2v12h-2zM461 705h2v12h-2zM487 705h2v12h-2zM507 705h2v12h-2z"/>
<path fill="#ffa68b" d="M399 528h2v11h-2zM415 528h2v11h-2zM455 528h2v11h-2zM493 528h2v11h-2zM509 528h2v11h-2zM327 539h2v11h-2zM345 539h2v11h-2zM349 539h2v11h-2zM389 539h2v11h-2zM437 539h2v11h-2zM461 539h2v11h-2zM491 539h2v11h-2zM389 561h2v11h-2zM429 561h2v11h-2zM491 561h2v11h-2zM499 561h2v11h-2zM513 561h2v11h-2zM341 583h2v11h-2zM361 583h2v11h-2zM399 583h2v11h-2zM415 583h2v11h-2zM459 583h2v11h-2zM477 583h2v11h-2zM499 583h2v11h-2zM533 583h4v11h-4zM317 594h2v12h-2zM337 594h2v12h-2zM361 594h2v12h-2zM389 594h2v12h-2zM415 594h2v12h-2zM425 594h2v12h-2zM435 594h2v12h-2zM477 594h2v12h-2zM487 594h2v12h-2zM495 594h2v12h-2zM507 594h2v12h-2zM399 639h2v11h-2zM415 639h2v11h-2zM435 639h2v11h-2zM489 639h2v11h-2zM535 639h2v11h-2zM329 650h2v11h-2zM335 650h2v11h-2zM353 650h2v11h-2zM375 650h2v11h-2zM425 650h2v11h-2zM459 650h2v11h-2zM517 650h2v11h-2zM521 650h2v11h-2zM535 650h2v11h-2zM325 672h2v11h-2zM341 672h2v11h-2zM371 672h2v11h-2zM375 672h2v11h-2zM381 672h2v11h-2zM387 672h2v11h-2zM399 672h2v11h-2zM415 672h2v11h-2zM421 672h2v11h-2zM453 672h2v11h-2zM459 672h2v11h-2zM471 672h2v11h-2zM481 672h2v11h-2zM487 672h4v11h-4zM533 672h2v11h-2zM381 683h2v11h-2zM401 683h2v11h-2zM453 683h2v11h-2zM481 683h2v11h-2zM495 683h2v11h-2zM337 705h2v12h-2zM353 705h2v12h-2zM433 705h2v12h-2zM481 705h2v12h-2zM501 705h2v12h-2zM521 705h2v12h-2zM535 705h2v12h-2z"/>
<path fill="#ffa286" d="M309 528h2v11h-2zM345 528h2v11h-2zM367 528h2v11h-2zM465 528h2v11h-2zM477 528h2v11h-2zM527 528h2v11h-2zM337 539h2v11h-2zM403 539h2v11h-2zM421 539h2v11h-2zM425 539h2v11h-2zM495 539h2v11h-2zM317 561h2v11h-2zM323 561h2v11h-2zM383 561h2v11h-2zM401 561h2v11h-2zM453 561h2v11h-2zM329 583h2v11h-2zM435 583h2v11h-2zM497 583h2v11h-2zM353 594h2v12h-2zM409 594h2v12h-2zM453 594h2v12h-2zM461 594h2v12h-2zM491 594h2v12h-2zM319 639h2v11h-2zM325 639h2v11h-2zM433 639h2v11h-2zM525 639h2v11h-2zM357 650h2v11h-2zM369 650h4v11h-4zM377 650h2v11h-2zM429 650h2v11h-2zM513 650h2v11h-2zM525 650h2v11h-2zM317 672h2v11h-2zM403 672h2v11h-2zM433 672h2v11h-2zM443 672h2v11h-2zM513 672h2v11h-2zM535 672h2v11h-2zM325 683h2v11h-2zM335 683h2v11h-2zM369 683h2v11h-2zM469 683h4v11h-4zM489 683h2v11h-2zM501 683h2v11h-2zM525 683h2v11h-2zM375 705h2v12h-2zM381 705h2v12h-2z"/>
<path fill="#ff9e81" d="M349 528h4v11h-4zM369 528h2v11h-2zM425 528h2v11h-2zM435 528h2v11h-2zM453 528h2v11h-2zM499 528h2v11h-2zM513 528h2v11h-2zM315 539h2v11h-2zM413 539h4v11h-4zM477 539h2v11h-2zM481 539h4v11h-4zM327 561h2v11h-2zM317 583h2v11h-2zM349 583h2v11h-2zM409 583h2v11h-2zM431 583h2v11h-2zM453 583h2v11h-2zM323 594h2v12h-2zM349 594h2v12h-2zM357 594h2v12h-2zM363 594h2v12h-2zM399 594h2v12h-2zM403 594h2v12h-2zM421 594h2v12h-2zM441 594h4v12h-4zM471 594h2v12h-2zM481 594h2v12h-2zM513 594h2v12h-2zM335 639h2v11h-2zM471 639h2v11h-2zM513 639h2v11h-2zM391 650h2v11h-2zM415 650h2v11h-2zM423 650h2v11h-2zM467 650h2v11h-2zM487 650h2v11h-2zM501 650h2v11h-2zM369 672h2v11h-2zM423 672h2v11h-2zM491 672h2v11h-2zM507 672h2v11h-2zM529 672h2v11h-2zM409 683h2v11h-2zM441 683h2v11h-2zM517 683h2v11h-2zM529 683h2v11h-2zM465 705h2v12h-2zM525 705h2v12h-2z"/>
<path fill="#ff9a7c" d="M355 528h4v11h-4zM361 528h2v11h-2zM391 528h2v11h-2zM429 528h2v11h-2zM483 528h2v11h-2zM489 528h2v11h-2zM501 528h2v11h-2zM505 528h2v11h-2zM523 528h2v11h-2zM319 539h2v11h-2zM353 539h2v11h-2zM399 539h2v11h-2zM409 539h4v11h-4zM435 539h2v11h-2zM507 539h2v11h-2zM513 539h2v11h-2zM309 561h2v11h-2zM319 561h2v11h-2zM335 561h2v11h-2zM349 561h2v11h-2zM411 561h2v11h-2zM441 561h2v11h-2zM533 561h2v11h-2zM371 583h2v11h-2zM377 583h2v11h-2zM443 583h2v11h-2zM507 583h2v11h-2zM517 583h2v11h-2zM527 583h2v11h-2zM343 594h2v12h-2zM371 594h2v12h-2zM377 594h2v12h-2zM433 594h2v12h-2zM493 594h2v12h-2zM529 594h2v12h-2zM387 639h2v11h-2zM393 639h2v11h-2zM423 639h2v11h-2zM431 639h2v11h-2zM443 639h2v11h-2zM465 639h2v11h-2zM475 639h2v11h-2zM487 639h2v11h-2zM493 639h2v11h-2zM505 639h2v11h-2zM453 650h2v11h-2zM533 650h2v11h-2zM337 672h2v11h-2zM391 672h2v11h-2zM401 672h2v11h-2zM409 672h2v11h-2zM445 683h2v11h-2zM343 705h2v12h-2zM401 705h2v12h-2zM423 705h2v12h-2zM443 705h2v12h-2zM489 705h4v12h-4zM505 705h2v12h-2z"/>
<path fill="#ff9678" d="M315 528h2v11h-2zM327 528h2v11h-2zM411 528h2v11h-2zM497 528h2v11h-2zM529 528h2v11h-2zM309 539h2v11h-2zM433 539h2v11h-2zM453 539h2v11h-2zM489 539h2v11h-2zM505 539h2v11h-2zM509 539h2v11h-2zM329 561h2v11h-2zM413 561h2v11h-2zM421 561h2v11h-2zM435 561h2v11h-2zM445 561h2v11h-2zM469 561h2v11h-2zM525 561h2v11h-2zM323 583h2v11h-2zM335 583h2v11h-2zM401 583h2v11h-2zM481 583h2v11h-2zM501 583h2v11h-2zM423 594h2v12h-2zM431 594h2v12h-2zM527 594h2v12h-2zM381 639h2v11h-2zM441 639h2v11h-2zM507 639h2v11h-2zM363 650h2v11h-2zM411 650h2v11h-2zM441 650h2v11h-2zM515 650h2v11h-2zM505 672h2v11h-2zM475 683h4v11h-4zM331 705h2v12h-2zM357 705h2v12h-2z"/>
<path fill="#ff9273" d="M325 528h2v11h-2zM383 528h2v11h-2zM433 528h2v11h-2zM517 528h2v11h-2zM533 528h2v11h-2zM341 539h2v11h-2zM383 539h2v11h-2zM423 539h2v11h-2zM429 539h2v11h-2zM515 539h2v11h-2zM343 561h2v11h-2zM351 561h2v11h-2zM357 561h2v11h-2zM433 561h2v11h-2zM459 561h2v11h-2zM477 561h2v11h-2zM489 561h2v11h-2zM507 561h2v11h-2zM515 561h2v11h-2zM441 583h2v11h-2zM471 583h2v11h-2zM483 583h2v11h-2zM325 594h2v12h-2zM401 594h2v12h-2zM499 594h2v12h-2zM533 594h2v12h-2zM357 639h2v11h-2zM377 639h2v11h-2zM391 639h2v11h-2zM393 650h2v11h-2zM465 650h2v11h-2zM505 650h4v11h-4zM465 672h2v11h-2zM475 672h2v11h-2zM423 683h2v11h-2zM505 683h2v11h-2zM531 683h2v11h-2zM363 705h2v12h-2zM387 705h2v12h-2zM391 705h2v12h-2zM467 705h2v12h-2z"/>
<path fill="#ff8d6e" d="M375 528h2v11h-2zM409 528h2v11h-2zM421 528h2v11h-2zM467 528h2v11h-2zM507 528h2v11h-2zM351 539h2v11h-2zM361 539h2v11h-2zM369 539h2v11h-2zM431 539h2v11h-2zM443 539h4v11h-4zM465 539h2v11h-2zM471 539h2v11h-2zM499 539h2v11h-2zM521 539h2v11h-2zM345 561h2v11h-2zM353 561h2v11h-2zM443 561h2v11h-2zM471 561h2v11h-2zM495 561h2v11h-2zM509 561h2v11h-2zM319 583h2v11h-2zM391 583h2v11h-2zM489 583h4v11h-4zM341 594h2v12h-2zM459 594h2v12h-2zM521 594h2v12h-2zM401 650h2v11h-2zM477 650h2v11h-2zM531 650h2v11h-2zM363 672h2v11h-2zM387 683h2v11h-2zM443 683h2v11h-2zM465 683h2v11h-2zM475 705h2v12h-2zM485 705h2v12h-2zM531 705h2v12h-2z"/>
<path fill="#ff8969" d="M317 528h2v11h-2zM335 528h2v11h-2zM443 528h2v11h-2zM461 528h2v11h-2zM471 528h2v11h-2zM495 528h2v11h-2zM335 539h2v11h-2zM343 539h2v11h-2zM375 539h2v11h-2zM393 539h2v11h-2zM487 539h2v11h-2zM529 539h2v11h-2zM431 561h2v11h-2zM487 561h2v11h-2zM501 561h2v11h-2zM527 561h4v11h-4zM353 583h2v11h-2zM369 583h2v11h-2zM387 583h2v11h-2zM445 583h2v11h-2zM513 583h2v11h-2zM525 583h2v11h-2zM391 594h2v12h-2zM467 594h2v12h-2zM485 594h2v12h-2zM489 594h2v12h-2zM525 594h2v12h-2zM485 639h2v11h-2zM387 650h2v11h-2zM485 650h2v11h-2zM363 683h2v11h-2z"/>
<path fill="#ff8565" d="M353 528h2v11h-2zM393 528h2v11h-2zM413 528h2v11h-2zM431 528h2v11h-2zM535 528h2v11h-2zM317 539h2v11h-2zM325 539h2v11h-2zM469 539h2v11h-2zM533 539h2v11h-2zM325 561h2v11h-2zM369 561h2v11h-2zM375 561h4v11h-4zM403 561h2v11h-2zM409 561h2v11h-2zM423 561h2v11h-2zM461 561h2v11h-2zM413 583h2v11h-2zM505 583h2v11h-2zM515 583h2v11h-2zM381 594h2v12h-2zM401 639h2v11h-2zM473 639h2v11h-2zM331 650h2v11h-2zM381 650h2v11h-2zM451 683h2v11h-2zM473 683h2v11h-2zM485 683h2v11h-2zM451 705h2v12h-2z"/>
<path fill="#ff8160" d="M401 528h2v11h-2zM459 528h2v11h-2zM329 539h2v11h-2zM401 539h2v11h-2zM485 539h2v11h-2zM501 539h2v11h-2zM527 539h2v11h-2zM391 561h2v11h-2zM517 561h2v11h-2zM521 561h2v11h-2zM521 583h2v11h-2zM387 594h2v12h-2zM451 639h2v11h-2zM451 650h2v11h-2zM473 650h2v11h-2zM331 672h2v11h-2zM451 672h2v11h-2zM467 672h2v11h-2z"/>
<path fill="#ff7c5b" d="M323 528h2v11h-2zM445 528h2v11h-2zM487 528h2v11h-2zM525 528h2v11h-2zM531 528h2v11h-2zM371 539h2v11h-2zM517 539h2v11h-2zM371 561h2v11h-2zM465 561h4v11h-4zM331 583h2v11h-2zM357 583h2v11h-2zM465 583h2v11h-2zM465 594h2v12h-2zM331 639h2v11h-2zM467 639h2v11h-2zM475 650h2v11h-2z"/>
<path fill="#ff7857" d="M423 528h2v11h-2zM469 528h2v11h-2zM481 528h2v11h-2zM485 528h2v11h-2zM491 528h2v11h-2zM381 539h2v11h-2zM387 539h2v11h-2zM459 539h2v11h-2zM475 539h2v11h-2zM493 539h2v11h-2zM505 561h2v11h-2zM467 583h2v11h-2zM485 583h2v11h-2zM531 583h2v11h-2zM331 594h2v12h-2zM505 594h2v12h-2z"/>
<path fill="#ff7352" d="M473 528h2v11h-2zM515 528h2v11h-2zM323 539h2v11h-2zM377 539h2v11h-2zM441 539h2v11h-2zM531 539h2v11h-2zM331 561h2v11h-2zM475 561h2v11h-2zM363 583h2v11h-2zM531 594h2v12h-2zM525 672h2v11h-2zM473 705h2v12h-2z"/>
<path fill="#ff6f4d" d="M521 528h2v11h-2zM467 539h2v11h-2zM381 583h2v11h-2zM451 594h2v12h-2zM475 594h2v12h-2zM473 672h2v11h-2z"/>
<path fill="#ff6a48" d="M377 528h2v11h-2zM451 583h2v11h-2zM331 683h2v11h-2z"/>
<path fill="#ff6544" d="M371 528h2v11h-2zM441 528h2v11h-2zM357 539h2v11h-2zM485 672h2v11h-2z"/>
<path fill="#ff603f" d="M391 539h2v11h-2z"/>
<path fill="#ff5b3a" d="M343 528h2v11h-2zM341 561h2v11h-2zM387 561h2v11h-2zM451 561h2v11h-2zM531 561h2v11h-2zM475 583h2v11h-2zM473 594h2v12h-2zM467 683h2v11h-2z"/>
<path fill="#ff5636" d="M381 528h2v11h-2zM363 539h2v11h-2zM525 539h2v11h-2zM473 561h2v11h-2z"/>
<path fill="#ff5031" d="M363 528h2v11h-2zM387 528h2v11h-2zM511 528h2v11h-2zM331 539h2v11h-2zM451 539h2v11h-2zM363 561h2v11h-2zM511 561h2v11h-2z"/>
<path fill="#ff4a2c" d="M451 528h2v11h-2zM475 528h2v11h-2zM381 561h2v11h-2z"/>
<path fill="#ff4427" d="M331 528h2v11h-2zM473 539h2v11h-2z"/>
<path fill="#ff3e22" d="M341 528h2v11h-2zM473 583h2v11h-2z"/>
<path fill="#ff361c" d="M485 561h2v11h-2z"/>
<path fill="#ff2410" d="M407 561h2v11h-2z"/>
<path fill="#ff0000" d="M407 528h2v11h-2zM519 594h2v12h-2z"/>
</g>
<rect x="539.8" y="496.55" width="55.5" height="6.8" fill="#7a7a7a" stroke="#111" stroke-width="1.1"/>
<text x="601" y="503.45" font-size="8.3" text-anchor="start" fill="#111111">ABETA</text>
<rect x="539.8" y="507.65" width="45.3" height="6.8" fill="#7a7a7a" stroke="#111" stroke-width="1.1"/>
<text x="601" y="514.55" font-size="8.3" text-anchor="start" fill="#111111">CTX_LH_PARACENTRAL_SUVR</text>
<rect x="539.8" y="518.75" width="42.2" height="6.8" fill="#7a7a7a" stroke="#111" stroke-width="1.1"/>
<text x="601" y="525.65" font-size="8.3" text-anchor="start" fill="#111111">CTX_RH_POSTCENTRAL_SUVR</text>
<rect x="539.8" y="529.85" width="35.5" height="6.8" fill="#7a7a7a" stroke="#111" stroke-width="1.1"/>
<text x="601" y="536.75" font-size="8.3" text-anchor="start" fill="#111111">CTX_LH_PRECUNEUS_SUVR</text>
<rect x="539.8" y="540.95" width="34.8" height="6.8" fill="#7a7a7a" stroke="#111" stroke-width="1.1"/>
<text x="601" y="547.85" font-size="8.3" text-anchor="start" fill="#111111">CTX_LH_INFERIORPARIETAL_SUVR</text>
<rect x="539.8" y="552.05" width="33.9" height="6.8" fill="#7a7a7a" stroke="#111" stroke-width="1.1"/>
<text x="601" y="558.95" font-size="8.3" text-anchor="start" fill="#111111">CTX_RH_PERICALCARINE_SUVR</text>
<rect x="539.8" y="563.15" width="33.2" height="6.8" fill="#7a7a7a" stroke="#111" stroke-width="1.1"/>
<text x="601" y="570.05" font-size="8.3" text-anchor="start" fill="#111111">CTX_RH_PRECUNEUS_SUVR</text>
<rect x="539.8" y="574.25" width="32.6" height="6.8" fill="#7a7a7a" stroke="#111" stroke-width="1.1"/>
<text x="601" y="581.15" font-size="8.3" text-anchor="start" fill="#111111">CTX_RH_PRECENTRAL_SUVR</text>
<rect x="539.8" y="585.35" width="31" height="6.8" fill="#7a7a7a" stroke="#111" stroke-width="1.1"/>
<text x="601" y="592.25" font-size="8.3" text-anchor="start" fill="#111111">LEFT_CEREBELLUM_WHITE_MATTER_SUVR</text>
<rect x="539.8" y="596.45" width="29.7" height="6.8" fill="#7a7a7a" stroke="#111" stroke-width="1.1"/>
<text x="601" y="603.35" font-size="8.3" text-anchor="start" fill="#111111">CTX_LH_SUPERIORPARIETAL_SUVR</text>
<rect x="539.8" y="607.55" width="28.8" height="6.8" fill="#7a7a7a" stroke="#111" stroke-width="1.1"/>
<text x="601" y="614.45" font-size="8.3" text-anchor="start" fill="#111111">CTX_RH_PARACENTRAL_SUVR</text>
<rect x="539.8" y="618.65" width="27.8" height="6.8" fill="#7a7a7a" stroke="#111" stroke-width="1.1"/>
<text x="601" y="625.55" font-size="8.3" text-anchor="start" fill="#111111">LEFT_PUTAMEN_SUVR</text>
<rect x="539.8" y="629.75" width="27.8" height="6.8" fill="#7a7a7a" stroke="#111" stroke-width="1.1"/>
<text x="601" y="636.65" font-size="8.3" text-anchor="start" fill="#111111">CTX_LH_PRECENTRAL_SUVR</text>
<rect x="539.8" y="640.85" width="26.9" height="6.8" fill="#7a7a7a" stroke="#111" stroke-width="1.1"/>
<text x="601" y="647.75" font-size="8.3" text-anchor="start" fill="#111111">CTX_LH_SUPRAMARGINAL_SUVR</text>
<rect x="539.8" y="651.95" width="26.9" height="6.8" fill="#7a7a7a" stroke="#111" stroke-width="1.1"/>
<text x="601" y="658.85" font-size="8.3" text-anchor="start" fill="#111111">CSF_SUVR</text>
<rect x="539.8" y="663.05" width="26.9" height="6.8" fill="#7a7a7a" stroke="#111" stroke-width="1.1"/>
<text x="601" y="669.95" font-size="8.3" text-anchor="start" fill="#111111">RIGHT_PUTAMEN_SUVR</text>
<rect x="539.8" y="674.15" width="26.9" height="6.8" fill="#7a7a7a" stroke="#111" stroke-width="1.1"/>
<text x="601" y="681.05" font-size="8.3" text-anchor="start" fill="#111111">CTX_RH_ISTHMUSCINGULATE_SUVR</text>
<rect x="539.8" y="685.25" width="25.9" height="6.8" fill="#7a7a7a" stroke="#111" stroke-width="1.1"/>
<text x="601" y="692.15" font-size="8.3" text-anchor="start" fill="#111111">CTX_RH_PARSORBITALIS_SUVR</text>
<rect x="539.8" y="696.35" width="25.9" height="6.8" fill="#7a7a7a" stroke="#111" stroke-width="1.1"/>
<text x="601" y="703.25" font-size="8.3" text-anchor="start" fill="#111111">CTX_LH_TRANSVERSETEMPORAL_SUVR</text>
<rect x="539.8" y="707.45" width="25.9" height="6.8" fill="#7a7a7a" stroke="#111" stroke-width="1.1"/>
<text x="601" y="714.35" font-size="8.3" text-anchor="start" fill="#111111">PARIETAL_SUVR</text>
<rect x="539.4" y="494.4" width="59.1" height="222" fill="none" stroke="#111" stroke-width="0.9"/>
<line x1="539.6" y1="716.4" x2="587.4" y2="716.4" stroke="#111" stroke-width="0.8"/>
<line x1="539.6" y1="716.4" x2="539.6" y2="719.2" stroke="#111" stroke-width="0.8"/>
<text x="542.5" y="721.6" font-size="8.2" text-anchor="end" fill="#111111" transform="rotate(-90 542.5 721.6)">0</text>
<line x1="551.55" y1="716.4" x2="551.55" y2="719.2" stroke="#111" stroke-width="0.8"/>
<text x="554.45" y="721.6" font-size="8.2" text-anchor="end" fill="#111111" transform="rotate(-90 554.45 721.6)">0.002</text>
<line x1="563.5" y1="716.4" x2="563.5" y2="719.2" stroke="#111" stroke-width="0.8"/>
<text x="566.4" y="721.6" font-size="8.2" text-anchor="end" fill="#111111" transform="rotate(-90 566.4 721.6)">0.004</text>
<line x1="575.45" y1="716.4" x2="575.45" y2="719.2" stroke="#111" stroke-width="0.8"/>
<text x="578.35" y="721.6" font-size="8.2" text-anchor="end" fill="#111111" transform="rotate(-90 578.35 721.6)">0.006</text>
<line x1="587.4" y1="716.4" x2="587.4" y2="719.2" stroke="#111" stroke-width="0.8"/>
<text x="590.3" y="721.6" font-size="8.2" text-anchor="end" fill="#111111" transform="rotate(-90 590.3 721.6)">0.008</text>
<linearGradient id="gd" x1="0" x2="1" y1="0" y2="0">
<stop offset="0" stop-color="#0000ff"/>
<stop offset="0.03" stop-color="#0000ff"/>
<stop offset="0.05" stop-color="#0000ff"/>
<stop offset="0.08" stop-color="#0000ff"/>
<stop offset="0.1" stop-color="#0000ff"/>
<stop offset="0.12" stop-color="#0000ff"/>
<stop offset="0.15" stop-color="#0000ff"/>
<stop offset="0.17" stop-color="#0000ff"/>
<stop offset="0.2" stop-color="#0000ff"/>
<stop offset="0.22" stop-color="#0000ff"/>
<stop offset="0.25" stop-color="#4423ff"/>
<stop offset="0.28" stop-color="#673dff"/>
<stop offset="0.3" stop-color="#8053ff"/>
<stop offset="0.33" stop-color="#9669ff"/>
<stop offset="0.35" stop-color="#a87eff"/>
<stop offset="0.38" stop-color="#b993ff"/>
<stop offset="0.4" stop-color="#c9a9ff"/>
<stop offset="0.42" stop-color="#d8beff"/>
<stop offset="0.45" stop-color="#e6d3ff"/>
<stop offset="0.47" stop-color="#f3e9ff"/>
<stop offset="0.5" stop-color="#ffffff"/>
<stop offset="0.53" stop-color="#ffede7"/>
<stop offset="0.55" stop-color="#ffdccf"/>
<stop offset="0.57" stop-color="#ffcab8"/>
<stop offset="0.6" stop-color="#ffb8a1"/>
<stop offset="0.62" stop-color="#ffa58a"/>
<stop offset="0.65" stop-color="#ff9274"/>
<stop offset="0.68" stop-color="#ff7f5e"/>
<stop offset="0.7" stop-color="#ff6a48"/>
<stop offset="0.72" stop-color="#ff5232"/>
<stop offset="0.75" stop-color="#ff331a"/>
<stop offset="0.78" stop-color="#ff0000"/>
<stop offset="0.8" stop-color="#ff0000"/>
<stop offset="0.83" stop-color="#ff0000"/>
<stop offset="0.85" stop-color="#ff0000"/>
<stop offset="0.88" stop-color="#ff0000"/>
<stop offset="0.9" stop-color="#ff0000"/>
<stop offset="0.93" stop-color="#ff0000"/>
<stop offset="0.95" stop-color="#ff0000"/>
<stop offset="0.97" stop-color="#ff0000"/>
<stop offset="1" stop-color="#ff0000"/>
</linearGradient>
<rect x="347.3" y="455.1" width="141.7" height="9.9" fill="url(#gd)"/>
<line x1="348.7" y1="455.1" x2="348.7" y2="456.7" stroke="white" stroke-width="0.8"/>
<line x1="348.7" y1="463.4" x2="348.7" y2="465" stroke="white" stroke-width="0.8"/>
<line x1="384" y1="455.1" x2="384" y2="456.7" stroke="white" stroke-width="0.8"/>
<line x1="384" y1="463.4" x2="384" y2="465" stroke="white" stroke-width="0.8"/>
<line x1="418.05" y1="455.1" x2="418.05" y2="456.7" stroke="white" stroke-width="0.8"/>
<line x1="418.05" y1="463.4" x2="418.05" y2="465" stroke="white" stroke-width="0.8"/>
<line x1="452.7" y1="455.1" x2="452.7" y2="456.7" stroke="white" stroke-width="0.8"/>
<line x1="452.7" y1="463.4" x2="452.7" y2="465" stroke="white" stroke-width="0.8"/>
<line x1="487.4" y1="455.1" x2="487.4" y2="456.7" stroke="white" stroke-width="0.8"/>
<line x1="487.4" y1="463.4" x2="487.4" y2="465" stroke="white" stroke-width="0.8"/>
<text x="348.7" y="473" font-size="8.6" text-anchor="middle" fill="#111111">−1</text>
<text x="384" y="473" font-size="8.6" text-anchor="middle" fill="#111111">−0.5</text>
<text x="418.05" y="473" font-size="8.6" text-anchor="middle" fill="#111111">0</text>
<text x="452.7" y="473" font-size="8.6" text-anchor="middle" fill="#111111">0.5</text>
<text x="487.4" y="473" font-size="8.6" text-anchor="middle" fill="#111111">1</text>
<text x="418.05" y="450.8" font-size="9.8" text-anchor="middle" fill="#111111">Coefficient value</text>
<linearGradient id="ge" x1="0" x2="1" y1="0" y2="0">
<stop offset="0" stop-color="#0000ff"/>
<stop offset="0.02" stop-color="#2710ff"/>
<stop offset="0.05" stop-color="#4221ff"/>
<stop offset="0.08" stop-color="#542eff"/>
<stop offset="0.1" stop-color="#633aff"/>
<stop offset="0.12" stop-color="#7044ff"/>
<stop offset="0.15" stop-color="#7b4fff"/>
<stop offset="0.18" stop-color="#8659ff"/>
<stop offset="0.2" stop-color="#9063ff"/>
<stop offset="0.22" stop-color="#996dff"/>
<stop offset="0.25" stop-color="#a176ff"/>
<stop offset="0.28" stop-color="#aa80ff"/>
<stop offset="0.3" stop-color="#b28aff"/>
<stop offset="0.32" stop-color="#b993ff"/>
<stop offset="0.35" stop-color="#c19dff"/>
<stop offset="0.37" stop-color="#c8a7ff"/>
<stop offset="0.4" stop-color="#cfb1ff"/>
<stop offset="0.43" stop-color="#d5baff"/>
<stop offset="0.45" stop-color="#dcc4ff"/>
<stop offset="0.48" stop-color="#e2ceff"/>
<stop offset="0.5" stop-color="#e8d8ff"/>
<stop offset="0.53" stop-color="#eee2ff"/>
<stop offset="0.55" stop-color="#f4ecff"/>
<stop offset="0.57" stop-color="#faf6ff"/>
<stop offset="0.6" stop-color="#fffefe"/>
<stop offset="0.62" stop-color="#fff2ed"/>
<stop offset="0.65" stop-color="#ffe6dd"/>
<stop offset="0.67" stop-color="#ffdacc"/>
<stop offset="0.7" stop-color="#ffcdbc"/>
<stop offset="0.72" stop-color="#ffc1ac"/>
<stop offset="0.75" stop-color="#ffb49d"/>
<stop offset="0.78" stop-color="#ffa88d"/>
<stop offset="0.8" stop-color="#ff9b7e"/>
<stop offset="0.82" stop-color="#ff8e6e"/>
<stop offset="0.85" stop-color="#ff805f"/>
<stop offset="0.88" stop-color="#ff7250"/>
<stop offset="0.9" stop-color="#ff6341"/>
<stop offset="0.93" stop-color="#ff5232"/>
<stop offset="0.95" stop-color="#ff3e22"/>
<stop offset="0.98" stop-color="#ff240f"/>
<stop offset="1" stop-color="#ff0000"/>
</linearGradient>
<rect x="354" y="738.5" width="141.7" height="9.9" fill="url(#ge)"/>
<line x1="355.4" y1="738.5" x2="355.4" y2="740.1" stroke="white" stroke-width="0.8"/>
<line x1="355.4" y1="746.8" x2="355.4" y2="748.4" stroke="white" stroke-width="0.8"/>
<line x1="383.2" y1="738.5" x2="383.2" y2="740.1" stroke="white" stroke-width="0.8"/>
<line x1="383.2" y1="746.8" x2="383.2" y2="748.4" stroke="white" stroke-width="0.8"/>
<line x1="411" y1="738.5" x2="411" y2="740.1" stroke="white" stroke-width="0.8"/>
<line x1="411" y1="746.8" x2="411" y2="748.4" stroke="white" stroke-width="0.8"/>
<line x1="438.7" y1="738.5" x2="438.7" y2="740.1" stroke="white" stroke-width="0.8"/>
<line x1="438.7" y1="746.8" x2="438.7" y2="748.4" stroke="white" stroke-width="0.8"/>
<line x1="466.5" y1="738.5" x2="466.5" y2="740.1" stroke="white" stroke-width="0.8"/>
<line x1="466.5" y1="746.8" x2="466.5" y2="748.4" stroke="white" stroke-width="0.8"/>
<line x1="494.2" y1="738.5" x2="494.2" y2="740.1" stroke="white" stroke-width="0.8"/>
<line x1="494.2" y1="746.8" x2="494.2" y2="748.4" stroke="white" stroke-width="0.8"/>
<text x="355.4" y="757" font-size="8.6" text-anchor="middle" fill="#111111">−0.015</text>
<text x="383.2" y="757" font-size="8.6" text-anchor="middle" fill="#111111">−0.01</text>
<text x="411" y="757" font-size="8.6" text-anchor="middle" fill="#111111">−0.005</text>
<text x="438.7" y="757" font-size="8.6" text-anchor="middle" fill="#111111">0</text>
<text x="466.5" y="757" font-size="8.6" text-anchor="middle" fill="#111111">0.005</text>
<text x="494.2" y="757" font-size="8.6" text-anchor="middle" fill="#111111">0.01</text>
<text x="424.6" y="734.8" font-size="9.8" text-anchor="middle" fill="#111111">Coefficient value</text>
<rect x="23.4" y="559.5" width="263.4" height="146.1" fill="#EBEBEB"/>
<line x1="42.15" y1="559.5" x2="42.15" y2="705.6" stroke="white" stroke-width="0.55"/>
<line x1="108.65" y1="559.5" x2="108.65" y2="705.6" stroke="white" stroke-width="0.55"/>
<line x1="175.15" y1="559.5" x2="175.15" y2="705.6" stroke="white" stroke-width="0.55"/>
<line x1="241.65" y1="559.5" x2="241.65" y2="705.6" stroke="white" stroke-width="0.55"/>
<line x1="75.4" y1="559.5" x2="75.4" y2="705.6" stroke="white" stroke-width="1.1"/>
<line x1="141.9" y1="559.5" x2="141.9" y2="705.6" stroke="white" stroke-width="1.1"/>
<line x1="208.4" y1="559.5" x2="208.4" y2="705.6" stroke="white" stroke-width="1.1"/>
<line x1="274.9" y1="559.5" x2="274.9" y2="705.6" stroke="white" stroke-width="1.1"/>
<line x1="23.4" y1="600" x2="286.8" y2="600" stroke="white" stroke-width="1.1"/>
<line x1="23.4" y1="665.4" x2="286.8" y2="665.4" stroke="white" stroke-width="1.1"/>
<line x1="36.9" y1="590.05" x2="74.1" y2="590.05" stroke="#E69F00" stroke-width="1.1"/>
<line x1="186.3" y1="590.05" x2="270.7" y2="590.05" stroke="#E69F00" stroke-width="1.1"/>
<rect x="74.1" y="581.2" width="112.2" height="17.7" fill="white" stroke="#E69F00" stroke-width="1.1"/>
<line x1="101.3" y1="581.2" x2="101.3" y2="598.9" stroke="#E69F00" stroke-width="2"/>
<line x1="36" y1="609.45" x2="47.7" y2="609.45" stroke="#A6A6A6" stroke-width="1.1"/>
<line x1="93.9" y1="609.45" x2="159.3" y2="609.45" stroke="#A6A6A6" stroke-width="1.1"/>
<rect x="47.7" y="600.6" width="46.2" height="17.7" fill="white" stroke="#A6A6A6" stroke-width="1.1"/>
<line x1="68.7" y1="600.6" x2="68.7" y2="618.3" stroke="#A6A6A6" stroke-width="2"/>
<line x1="37.8" y1="655.35" x2="116.6" y2="655.35" stroke="#E69F00" stroke-width="1.1"/>
<line x1="180.5" y1="655.35" x2="235" y2="655.35" stroke="#E69F00" stroke-width="1.1"/>
<rect x="116.6" y="646.5" width="63.9" height="17.7" fill="white" stroke="#E69F00" stroke-width="1.1"/>
<line x1="149.3" y1="646.5" x2="149.3" y2="664.2" stroke="#E69F00" stroke-width="2"/>
<line x1="36" y1="674.7" x2="61.2" y2="674.7" stroke="#A6A6A6" stroke-width="1.1"/>
<line x1="106.2" y1="674.7" x2="171.8" y2="674.7" stroke="#A6A6A6" stroke-width="1.1"/>
<rect x="61.2" y="665.9" width="45" height="17.6" fill="white" stroke="#A6A6A6" stroke-width="1.1"/>
<line x1="79.2" y1="665.9" x2="79.2" y2="683.5" stroke="#A6A6A6" stroke-width="2"/>
<path fill="none" stroke="#8e8e8e" stroke-width="0.85" d="M72.8 596.2a1.8 1.8 0 1 0 3.6 0a1.8 1.8 0 1 0 -3.6 0M92.1 597a1.8 1.8 0 1 0 3.6 0a1.8 1.8 0 1 0 -3.6 0M98.3 600.9a1.8 1.8 0 1 0 3.6 0a1.8 1.8 0 1 0 -3.6 0M82.1 599.7a1.8 1.8 0 1 0 3.6 0a1.8 1.8 0 1 0 -3.6 0M85.5 602a1.8 1.8 0 1 0 3.6 0a1.8 1.8 0 1 0 -3.6 0M117.2 597a1.8 1.8 0 1 0 3.6 0a1.8 1.8 0 1 0 -3.6 0M115.6 601.6a1.8 1.8 0 1 0 3.6 0a1.8 1.8 0 1 0 -3.6 0M91.3 602.4a1.8 1.8 0 1 0 3.6 0a1.8 1.8 0 1 0 -3.6 0M70.9 604.6a1.8 1.8 0 1 0 3.6 0a1.8 1.8 0 1 0 -3.6 0M73.2 608.9a1.8 1.8 0 1 0 3.6 0a1.8 1.8 0 1 0 -3.6 0M70.5 613.5a1.8 1.8 0 1 0 3.6 0a1.8 1.8 0 1 0 -3.6 0M83.6 609.6a1.8 1.8 0 1 0 3.6 0a1.8 1.8 0 1 0 -3.6 0M85.9 612.7a1.8 1.8 0 1 0 3.6 0a1.8 1.8 0 1 0 -3.6 0M91.3 605.8a1.8 1.8 0 1 0 3.6 0a1.8 1.8 0 1 0 -3.6 0M92.1 615.4a1.8 1.8 0 1 0 3.6 0a1.8 1.8 0 1 0 -3.6 0M81.7 617.4a1.8 1.8 0 1 0 3.6 0a1.8 1.8 0 1 0 -3.6 0M84.4 620.4a1.8 1.8 0 1 0 3.6 0a1.8 1.8 0 1 0 -3.6 0M73.2 621.6a1.8 1.8 0 1 0 3.6 0a1.8 1.8 0 1 0 -3.6 0M70.5 623.5a1.8 1.8 0 1 0 3.6 0a1.8 1.8 0 1 0 -3.6 0M75.5 624.7a1.8 1.8 0 1 0 3.6 0a1.8 1.8 0 1 0 -3.6 0M79.4 623.9a1.8 1.8 0 1 0 3.6 0a1.8 1.8 0 1 0 -3.6 0M81.7 627.4a1.8 1.8 0 1 0 3.6 0a1.8 1.8 0 1 0 -3.6 0M93.3 621.2a1.8 1.8 0 1 0 3.6 0a1.8 1.8 0 1 0 -3.6 0M97.5 622.4a1.8 1.8 0 1 0 3.6 0a1.8 1.8 0 1 0 -3.6 0M111.4 608.5a1.8 1.8 0 1 0 3.6 0a1.8 1.8 0 1 0 -3.6 0M111 613.1a1.8 1.8 0 1 0 3.6 0a1.8 1.8 0 1 0 -3.6 0M114.5 613.1a1.8 1.8 0 1 0 3.6 0a1.8 1.8 0 1 0 -3.6 0M114.1 621.6a1.8 1.8 0 1 0 3.6 0a1.8 1.8 0 1 0 -3.6 0M115.6 625.8a1.8 1.8 0 1 0 3.6 0a1.8 1.8 0 1 0 -3.6 0M121 619.7a1.8 1.8 0 1 0 3.6 0a1.8 1.8 0 1 0 -3.6 0M122.6 627.4a1.8 1.8 0 1 0 3.6 0a1.8 1.8 0 1 0 -3.6 0M36.7 598.9a1.8 1.8 0 1 0 3.6 0a1.8 1.8 0 1 0 -3.6 0M34.1 602.6a1.8 1.8 0 1 0 3.6 0a1.8 1.8 0 1 0 -3.6 0M37.9 602.9a1.8 1.8 0 1 0 3.6 0a1.8 1.8 0 1 0 -3.6 0M36.2 604.6a1.8 1.8 0 1 0 3.6 0a1.8 1.8 0 1 0 -3.6 0M43.7 605.3a1.8 1.8 0 1 0 3.6 0a1.8 1.8 0 1 0 -3.6 0M44.4 612.5a1.8 1.8 0 1 0 3.6 0a1.8 1.8 0 1 0 -3.6 0M43.7 615.5a1.8 1.8 0 1 0 3.6 0a1.8 1.8 0 1 0 -3.6 0M34.5 610.4a1.8 1.8 0 1 0 3.6 0a1.8 1.8 0 1 0 -3.6 0M34.8 615.5a1.8 1.8 0 1 0 3.6 0a1.8 1.8 0 1 0 -3.6 0M33.1 619.6a1.8 1.8 0 1 0 3.6 0a1.8 1.8 0 1 0 -3.6 0M35.8 620a1.8 1.8 0 1 0 3.6 0a1.8 1.8 0 1 0 -3.6 0M37.9 620.7a1.8 1.8 0 1 0 3.6 0a1.8 1.8 0 1 0 -3.6 0M40.3 619.3a1.8 1.8 0 1 0 3.6 0a1.8 1.8 0 1 0 -3.6 0M43 621.7a1.8 1.8 0 1 0 3.6 0a1.8 1.8 0 1 0 -3.6 0M37.2 622.7a1.8 1.8 0 1 0 3.6 0a1.8 1.8 0 1 0 -3.6 0M39.6 623.4a1.8 1.8 0 1 0 3.6 0a1.8 1.8 0 1 0 -3.6 0M41.6 625.4a1.8 1.8 0 1 0 3.6 0a1.8 1.8 0 1 0 -3.6 0M36.9 627.5a1.8 1.8 0 1 0 3.6 0a1.8 1.8 0 1 0 -3.6 0M41.6 628.1a1.8 1.8 0 1 0 3.6 0a1.8 1.8 0 1 0 -3.6 0M45 627.1a1.8 1.8 0 1 0 3.6 0a1.8 1.8 0 1 0 -3.6 0M38.9 626.8a1.8 1.8 0 1 0 3.6 0a1.8 1.8 0 1 0 -3.6 0M50.8 596.5a1.8 1.8 0 1 0 3.6 0a1.8 1.8 0 1 0 -3.6 0M58 596.8a1.8 1.8 0 1 0 3.6 0a1.8 1.8 0 1 0 -3.6 0M63.4 596.5a1.8 1.8 0 1 0 3.6 0a1.8 1.8 0 1 0 -3.6 0M58 602.9a1.8 1.8 0 1 0 3.6 0a1.8 1.8 0 1 0 -3.6 0M49.1 606.7a1.8 1.8 0 1 0 3.6 0a1.8 1.8 0 1 0 -3.6 0M51.2 607.7a1.8 1.8 0 1 0 3.6 0a1.8 1.8 0 1 0 -3.6 0M53.2 609.8a1.8 1.8 0 1 0 3.6 0a1.8 1.8 0 1 0 -3.6 0M55.3 610.4a1.8 1.8 0 1 0 3.6 0a1.8 1.8 0 1 0 -3.6 0M56.6 611.8a1.8 1.8 0 1 0 3.6 0a1.8 1.8 0 1 0 -3.6 0M50.5 612.8a1.8 1.8 0 1 0 3.6 0a1.8 1.8 0 1 0 -3.6 0M55.3 613.2a1.8 1.8 0 1 0 3.6 0a1.8 1.8 0 1 0 -3.6 0M61.4 616.6a1.8 1.8 0 1 0 3.6 0a1.8 1.8 0 1 0 -3.6 0M56.6 617.2a1.8 1.8 0 1 0 3.6 0a1.8 1.8 0 1 0 -3.6 0M52.5 617.2a1.8 1.8 0 1 0 3.6 0a1.8 1.8 0 1 0 -3.6 0M50.5 620a1.8 1.8 0 1 0 3.6 0a1.8 1.8 0 1 0 -3.6 0M51.2 623a1.8 1.8 0 1 0 3.6 0a1.8 1.8 0 1 0 -3.6 0M60.4 627.1a1.8 1.8 0 1 0 3.6 0a1.8 1.8 0 1 0 -3.6 0M65.8 628.1a1.8 1.8 0 1 0 3.6 0a1.8 1.8 0 1 0 -3.6 0M66.8 621.7a1.8 1.8 0 1 0 3.6 0a1.8 1.8 0 1 0 -3.6 0M67.5 602.3a1.8 1.8 0 1 0 3.6 0a1.8 1.8 0 1 0 -3.6 0M35.7 609.8a1.8 1.8 0 1 0 3.6 0a1.8 1.8 0 1 0 -3.6 0M43 661a1.8 1.8 0 1 0 3.6 0a1.8 1.8 0 1 0 -3.6 0M41 664.1a1.8 1.8 0 1 0 3.6 0a1.8 1.8 0 1 0 -3.6 0M40.6 667.2a1.8 1.8 0 1 0 3.6 0a1.8 1.8 0 1 0 -3.6 0M50.2 662.7a1.8 1.8 0 1 0 3.6 0a1.8 1.8 0 1 0 -3.6 0M49.1 665.1a1.8 1.8 0 1 0 3.6 0a1.8 1.8 0 1 0 -3.6 0M46.1 667.8a1.8 1.8 0 1 0 3.6 0a1.8 1.8 0 1 0 -3.6 0M57 663.7a1.8 1.8 0 1 0 3.6 0a1.8 1.8 0 1 0 -3.6 0M62.1 662a1.8 1.8 0 1 0 3.6 0a1.8 1.8 0 1 0 -3.6 0M36.2 671.9a1.8 1.8 0 1 0 3.6 0a1.8 1.8 0 1 0 -3.6 0M33.8 678.1a1.8 1.8 0 1 0 3.6 0a1.8 1.8 0 1 0 -3.6 0M39.9 677.7a1.8 1.8 0 1 0 3.6 0a1.8 1.8 0 1 0 -3.6 0M42 680.4a1.8 1.8 0 1 0 3.6 0a1.8 1.8 0 1 0 -3.6 0M47.1 679.8a1.8 1.8 0 1 0 3.6 0a1.8 1.8 0 1 0 -3.6 0M48.4 682.1a1.8 1.8 0 1 0 3.6 0a1.8 1.8 0 1 0 -3.6 0M44.4 683.2a1.8 1.8 0 1 0 3.6 0a1.8 1.8 0 1 0 -3.6 0M41 683.8a1.8 1.8 0 1 0 3.6 0a1.8 1.8 0 1 0 -3.6 0M34.5 684.5a1.8 1.8 0 1 0 3.6 0a1.8 1.8 0 1 0 -3.6 0M35.5 689.6a1.8 1.8 0 1 0 3.6 0a1.8 1.8 0 1 0 -3.6 0M41 687.9a1.8 1.8 0 1 0 3.6 0a1.8 1.8 0 1 0 -3.6 0M42.3 690.7a1.8 1.8 0 1 0 3.6 0a1.8 1.8 0 1 0 -3.6 0M44.7 692a1.8 1.8 0 1 0 3.6 0a1.8 1.8 0 1 0 -3.6 0M47.8 689.3a1.8 1.8 0 1 0 3.6 0a1.8 1.8 0 1 0 -3.6 0M51.5 687.6a1.8 1.8 0 1 0 3.6 0a1.8 1.8 0 1 0 -3.6 0M53.2 685.5a1.8 1.8 0 1 0 3.6 0a1.8 1.8 0 1 0 -3.6 0M53.9 678.7a1.8 1.8 0 1 0 3.6 0a1.8 1.8 0 1 0 -3.6 0M58 684.2a1.8 1.8 0 1 0 3.6 0a1.8 1.8 0 1 0 -3.6 0M55.6 692.4a1.8 1.8 0 1 0 3.6 0a1.8 1.8 0 1 0 -3.6 0M59.3 691a1.8 1.8 0 1 0 3.6 0a1.8 1.8 0 1 0 -3.6 0M62.1 689.3a1.8 1.8 0 1 0 3.6 0a1.8 1.8 0 1 0 -3.6 0M64.1 691a1.8 1.8 0 1 0 3.6 0a1.8 1.8 0 1 0 -3.6 0M66.2 692a1.8 1.8 0 1 0 3.6 0a1.8 1.8 0 1 0 -3.6 0M68.9 688.6a1.8 1.8 0 1 0 3.6 0a1.8 1.8 0 1 0 -3.6 0M70.9 686.9a1.8 1.8 0 1 0 3.6 0a1.8 1.8 0 1 0 -3.6 0M73 685.5a1.8 1.8 0 1 0 3.6 0a1.8 1.8 0 1 0 -3.6 0M49.8 671.2a1.8 1.8 0 1 0 3.6 0a1.8 1.8 0 1 0 -3.6 0M51.9 672.3a1.8 1.8 0 1 0 3.6 0a1.8 1.8 0 1 0 -3.6 0M57.3 669.9a1.8 1.8 0 1 0 3.6 0a1.8 1.8 0 1 0 -3.6 0M59.3 672.3a1.8 1.8 0 1 0 3.6 0a1.8 1.8 0 1 0 -3.6 0M62.1 669.5a1.8 1.8 0 1 0 3.6 0a1.8 1.8 0 1 0 -3.6 0M63.4 673.6a1.8 1.8 0 1 0 3.6 0a1.8 1.8 0 1 0 -3.6 0M61.4 677.7a1.8 1.8 0 1 0 3.6 0a1.8 1.8 0 1 0 -3.6 0M60.7 681.1a1.8 1.8 0 1 0 3.6 0a1.8 1.8 0 1 0 -3.6 0M58.7 675.7a1.8 1.8 0 1 0 3.6 0a1.8 1.8 0 1 0 -3.6 0M65.5 665.1a1.8 1.8 0 1 0 3.6 0a1.8 1.8 0 1 0 -3.6 0M69.6 664.8a1.8 1.8 0 1 0 3.6 0a1.8 1.8 0 1 0 -3.6 0M68.2 667.5a1.8 1.8 0 1 0 3.6 0a1.8 1.8 0 1 0 -3.6 0M64.1 668.2a1.8 1.8 0 1 0 3.6 0a1.8 1.8 0 1 0 -3.6 0M64.8 678.4a1.8 1.8 0 1 0 3.6 0a1.8 1.8 0 1 0 -3.6 0M69.6 677.7a1.8 1.8 0 1 0 3.6 0a1.8 1.8 0 1 0 -3.6 0M70.2 681.8a1.8 1.8 0 1 0 3.6 0a1.8 1.8 0 1 0 -3.6 0M73 670.2a1.8 1.8 0 1 0 3.6 0a1.8 1.8 0 1 0 -3.6 0M72.3 674.3a1.8 1.8 0 1 0 3.6 0a1.8 1.8 0 1 0 -3.6 0M35.2 673.8a1.8 1.8 0 1 0 3.6 0a1.8 1.8 0 1 0 -3.6 0M74.4 661.2a1.8 1.8 0 1 0 3.6 0a1.8 1.8 0 1 0 -3.6 0M78.2 661.6a1.8 1.8 0 1 0 3.6 0a1.8 1.8 0 1 0 -3.6 0M79.8 664.7a1.8 1.8 0 1 0 3.6 0a1.8 1.8 0 1 0 -3.6 0M96 661.6a1.8 1.8 0 1 0 3.6 0a1.8 1.8 0 1 0 -3.6 0M98.7 662a1.8 1.8 0 1 0 3.6 0a1.8 1.8 0 1 0 -3.6 0M101.4 663.9a1.8 1.8 0 1 0 3.6 0a1.8 1.8 0 1 0 -3.6 0M90.9 665.5a1.8 1.8 0 1 0 3.6 0a1.8 1.8 0 1 0 -3.6 0M96.3 666.2a1.8 1.8 0 1 0 3.6 0a1.8 1.8 0 1 0 -3.6 0M111 662a1.8 1.8 0 1 0 3.6 0a1.8 1.8 0 1 0 -3.6 0M117.5 661.2a1.8 1.8 0 1 0 3.6 0a1.8 1.8 0 1 0 -3.6 0M114.1 666.2a1.8 1.8 0 1 0 3.6 0a1.8 1.8 0 1 0 -3.6 0M125.3 663.2a1.8 1.8 0 1 0 3.6 0a1.8 1.8 0 1 0 -3.6 0M122.9 666.2a1.8 1.8 0 1 0 3.6 0a1.8 1.8 0 1 0 -3.6 0M75.1 670.1a1.8 1.8 0 1 0 3.6 0a1.8 1.8 0 1 0 -3.6 0M73.6 672.4a1.8 1.8 0 1 0 3.6 0a1.8 1.8 0 1 0 -3.6 0M78.2 670.9a1.8 1.8 0 1 0 3.6 0a1.8 1.8 0 1 0 -3.6 0M102.9 668.6a1.8 1.8 0 1 0 3.6 0a1.8 1.8 0 1 0 -3.6 0M97.5 670.9a1.8 1.8 0 1 0 3.6 0a1.8 1.8 0 1 0 -3.6 0M108.3 670.1a1.8 1.8 0 1 0 3.6 0a1.8 1.8 0 1 0 -3.6 0M111.4 672.4a1.8 1.8 0 1 0 3.6 0a1.8 1.8 0 1 0 -3.6 0M118.3 671.6a1.8 1.8 0 1 0 3.6 0a1.8 1.8 0 1 0 -3.6 0M121.4 670.1a1.8 1.8 0 1 0 3.6 0a1.8 1.8 0 1 0 -3.6 0M126 668.6a1.8 1.8 0 1 0 3.6 0a1.8 1.8 0 1 0 -3.6 0M100.6 673.2a1.8 1.8 0 1 0 3.6 0a1.8 1.8 0 1 0 -3.6 0M93.6 673.2a1.8 1.8 0 1 0 3.6 0a1.8 1.8 0 1 0 -3.6 0M74.8 677.8a1.8 1.8 0 1 0 3.6 0a1.8 1.8 0 1 0 -3.6 0M70.1 679.3a1.8 1.8 0 1 0 3.6 0a1.8 1.8 0 1 0 -3.6 0M77.5 688.2a1.8 1.8 0 1 0 3.6 0a1.8 1.8 0 1 0 -3.6 0M79.8 690.9a1.8 1.8 0 1 0 3.6 0a1.8 1.8 0 1 0 -3.6 0M80.9 692.1a1.8 1.8 0 1 0 3.6 0a1.8 1.8 0 1 0 -3.6 0M84.4 690.1a1.8 1.8 0 1 0 3.6 0a1.8 1.8 0 1 0 -3.6 0M82.5 674.3a1.8 1.8 0 1 0 3.6 0a1.8 1.8 0 1 0 -3.6 0M86.7 675.9a1.8 1.8 0 1 0 3.6 0a1.8 1.8 0 1 0 -3.6 0M84.8 678.6a1.8 1.8 0 1 0 3.6 0a1.8 1.8 0 1 0 -3.6 0M86.3 682.4a1.8 1.8 0 1 0 3.6 0a1.8 1.8 0 1 0 -3.6 0M84.8 684.7a1.8 1.8 0 1 0 3.6 0a1.8 1.8 0 1 0 -3.6 0M92.1 678.2a1.8 1.8 0 1 0 3.6 0a1.8 1.8 0 1 0 -3.6 0M97.1 672a1.8 1.8 0 1 0 3.6 0a1.8 1.8 0 1 0 -3.6 0M97.9 669.7a1.8 1.8 0 1 0 3.6 0a1.8 1.8 0 1 0 -3.6 0M102.9 672a1.8 1.8 0 1 0 3.6 0a1.8 1.8 0 1 0 -3.6 0M99 680.1a1.8 1.8 0 1 0 3.6 0a1.8 1.8 0 1 0 -3.6 0M101.4 677.8a1.8 1.8 0 1 0 3.6 0a1.8 1.8 0 1 0 -3.6 0M104.1 679.7a1.8 1.8 0 1 0 3.6 0a1.8 1.8 0 1 0 -3.6 0M103.3 682.4a1.8 1.8 0 1 0 3.6 0a1.8 1.8 0 1 0 -3.6 0M105.6 678.2a1.8 1.8 0 1 0 3.6 0a1.8 1.8 0 1 0 -3.6 0M94.8 685.1a1.8 1.8 0 1 0 3.6 0a1.8 1.8 0 1 0 -3.6 0M104.4 685.5a1.8 1.8 0 1 0 3.6 0a1.8 1.8 0 1 0 -3.6 0M108.3 686.3a1.8 1.8 0 1 0 3.6 0a1.8 1.8 0 1 0 -3.6 0M92.1 689.8a1.8 1.8 0 1 0 3.6 0a1.8 1.8 0 1 0 -3.6 0M98.7 688.6a1.8 1.8 0 1 0 3.6 0a1.8 1.8 0 1 0 -3.6 0M96 692.1a1.8 1.8 0 1 0 3.6 0a1.8 1.8 0 1 0 -3.6 0M99 692.8a1.8 1.8 0 1 0 3.6 0a1.8 1.8 0 1 0 -3.6 0M106 690.9a1.8 1.8 0 1 0 3.6 0a1.8 1.8 0 1 0 -3.6 0M110.2 690.9a1.8 1.8 0 1 0 3.6 0a1.8 1.8 0 1 0 -3.6 0M114.1 684a1.8 1.8 0 1 0 3.6 0a1.8 1.8 0 1 0 -3.6 0M119.5 678.6a1.8 1.8 0 1 0 3.6 0a1.8 1.8 0 1 0 -3.6 0M119.5 683.6a1.8 1.8 0 1 0 3.6 0a1.8 1.8 0 1 0 -3.6 0M118.3 688.2a1.8 1.8 0 1 0 3.6 0a1.8 1.8 0 1 0 -3.6 0M125.6 692.1a1.8 1.8 0 1 0 3.6 0a1.8 1.8 0 1 0 -3.6 0M112.9 672.8a1.8 1.8 0 1 0 3.6 0a1.8 1.8 0 1 0 -3.6 0M122.9 673.6a1.8 1.8 0 1 0 3.6 0a1.8 1.8 0 1 0 -3.6 0M70.5 664.3a1.8 1.8 0 1 0 3.6 0a1.8 1.8 0 1 0 -3.6 0M145.1 599.7a1.8 1.8 0 1 0 3.6 0a1.8 1.8 0 1 0 -3.6 0M157.9 598.6a1.8 1.8 0 1 0 3.6 0a1.8 1.8 0 1 0 -3.6 0M170 596.2a1.8 1.8 0 1 0 3.6 0a1.8 1.8 0 1 0 -3.6 0M186.6 598.6a1.8 1.8 0 1 0 3.6 0a1.8 1.8 0 1 0 -3.6 0M206.2 596.4a1.8 1.8 0 1 0 3.6 0a1.8 1.8 0 1 0 -3.6 0M154 606.2a1.8 1.8 0 1 0 3.6 0a1.8 1.8 0 1 0 -3.6 0M144 614.4a1.8 1.8 0 1 0 3.6 0a1.8 1.8 0 1 0 -3.6 0M155.8 613.9a1.8 1.8 0 1 0 3.6 0a1.8 1.8 0 1 0 -3.6 0M133 627.6a1.8 1.8 0 1 0 3.6 0a1.8 1.8 0 1 0 -3.6 0M142 626.7a1.8 1.8 0 1 0 3.6 0a1.8 1.8 0 1 0 -3.6 0M219.3 599.9a1.8 1.8 0 1 0 3.6 0a1.8 1.8 0 1 0 -3.6 0M225.4 624.5a1.8 1.8 0 1 0 3.6 0a1.8 1.8 0 1 0 -3.6 0M252.7 621.9a1.8 1.8 0 1 0 3.6 0a1.8 1.8 0 1 0 -3.6 0M135.2 662.6a1.8 1.8 0 1 0 3.6 0a1.8 1.8 0 1 0 -3.6 0M128.4 668.5a1.8 1.8 0 1 0 3.6 0a1.8 1.8 0 1 0 -3.6 0M139.4 671.3a1.8 1.8 0 1 0 3.6 0a1.8 1.8 0 1 0 -3.6 0M145.1 671.5a1.8 1.8 0 1 0 3.6 0a1.8 1.8 0 1 0 -3.6 0M131.1 679.7a1.8 1.8 0 1 0 3.6 0a1.8 1.8 0 1 0 -3.6 0M130 691a1.8 1.8 0 1 0 3.6 0a1.8 1.8 0 1 0 -3.6 0M171.8 668.8a1.8 1.8 0 1 0 3.6 0a1.8 1.8 0 1 0 -3.6 0M175.4 675.9a1.8 1.8 0 1 0 3.6 0a1.8 1.8 0 1 0 -3.6 0M181.3 683a1.8 1.8 0 1 0 3.6 0a1.8 1.8 0 1 0 -3.6 0M166.7 684.4a1.8 1.8 0 1 0 3.6 0a1.8 1.8 0 1 0 -3.6 0M170.2 686.8a1.8 1.8 0 1 0 3.6 0a1.8 1.8 0 1 0 -3.6 0M160.6 689a1.8 1.8 0 1 0 3.6 0a1.8 1.8 0 1 0 -3.6 0M215.2 663.9a1.8 1.8 0 1 0 3.6 0a1.8 1.8 0 1 0 -3.6 0M263.8 662.6a1.8 1.8 0 1 0 3.6 0a1.8 1.8 0 1 0 -3.6 0M212.8 685.2a1.8 1.8 0 1 0 3.6 0a1.8 1.8 0 1 0 -3.6 0"/>
<path fill="none" stroke="#E69F00" stroke-width="0.85" d="M34.5 577.9a1.8 1.8 0 1 0 3.6 0a1.8 1.8 0 1 0 -3.6 0M60.2 577.9a1.8 1.8 0 1 0 3.6 0a1.8 1.8 0 1 0 -3.6 0M66.3 575.6a1.8 1.8 0 1 0 3.6 0a1.8 1.8 0 1 0 -3.6 0M68.1 580.8a1.8 1.8 0 1 0 3.6 0a1.8 1.8 0 1 0 -3.6 0M61.9 584.6a1.8 1.8 0 1 0 3.6 0a1.8 1.8 0 1 0 -3.6 0M62.5 587.8a1.8 1.8 0 1 0 3.6 0a1.8 1.8 0 1 0 -3.6 0M44.3 598.8a1.8 1.8 0 1 0 3.6 0a1.8 1.8 0 1 0 -3.6 0M61.7 598.8a1.8 1.8 0 1 0 3.6 0a1.8 1.8 0 1 0 -3.6 0M66.3 597.6a1.8 1.8 0 1 0 3.6 0a1.8 1.8 0 1 0 -3.6 0M91.3 572.7a1.8 1.8 0 1 0 3.6 0a1.8 1.8 0 1 0 -3.6 0M97.9 574.6a1.8 1.8 0 1 0 3.6 0a1.8 1.8 0 1 0 -3.6 0M99.4 577.7a1.8 1.8 0 1 0 3.6 0a1.8 1.8 0 1 0 -3.6 0M90.6 579.3a1.8 1.8 0 1 0 3.6 0a1.8 1.8 0 1 0 -3.6 0M97.1 579.7a1.8 1.8 0 1 0 3.6 0a1.8 1.8 0 1 0 -3.6 0M107.5 573.1a1.8 1.8 0 1 0 3.6 0a1.8 1.8 0 1 0 -3.6 0M107.1 576.2a1.8 1.8 0 1 0 3.6 0a1.8 1.8 0 1 0 -3.6 0M72.1 588.5a1.8 1.8 0 1 0 3.6 0a1.8 1.8 0 1 0 -3.6 0M76.3 592.4a1.8 1.8 0 1 0 3.6 0a1.8 1.8 0 1 0 -3.6 0M96.7 594.3a1.8 1.8 0 1 0 3.6 0a1.8 1.8 0 1 0 -3.6 0M112.2 597.8a1.8 1.8 0 1 0 3.6 0a1.8 1.8 0 1 0 -3.6 0M127.2 594.3a1.8 1.8 0 1 0 3.6 0a1.8 1.8 0 1 0 -3.6 0M71.7 600.1a1.8 1.8 0 1 0 3.6 0a1.8 1.8 0 1 0 -3.6 0M82.5 637.3a1.8 1.8 0 1 0 3.6 0a1.8 1.8 0 1 0 -3.6 0M84.4 637.7a1.8 1.8 0 1 0 3.6 0a1.8 1.8 0 1 0 -3.6 0M96.3 639.6a1.8 1.8 0 1 0 3.6 0a1.8 1.8 0 1 0 -3.6 0M82.1 650.8a1.8 1.8 0 1 0 3.6 0a1.8 1.8 0 1 0 -3.6 0M84.4 648.9a1.8 1.8 0 1 0 3.6 0a1.8 1.8 0 1 0 -3.6 0M98.7 650.4a1.8 1.8 0 1 0 3.6 0a1.8 1.8 0 1 0 -3.6 0M110.2 637.3a1.8 1.8 0 1 0 3.6 0a1.8 1.8 0 1 0 -3.6 0M115.2 636.9a1.8 1.8 0 1 0 3.6 0a1.8 1.8 0 1 0 -3.6 0M116.4 638.5a1.8 1.8 0 1 0 3.6 0a1.8 1.8 0 1 0 -3.6 0M119.5 639.6a1.8 1.8 0 1 0 3.6 0a1.8 1.8 0 1 0 -3.6 0M126.8 638.1a1.8 1.8 0 1 0 3.6 0a1.8 1.8 0 1 0 -3.6 0M116 655.8a1.8 1.8 0 1 0 3.6 0a1.8 1.8 0 1 0 -3.6 0M121.8 652.7a1.8 1.8 0 1 0 3.6 0a1.8 1.8 0 1 0 -3.6 0M125.6 656.2a1.8 1.8 0 1 0 3.6 0a1.8 1.8 0 1 0 -3.6 0M90.9 660.8a1.8 1.8 0 1 0 3.6 0a1.8 1.8 0 1 0 -3.6 0M87.1 667a1.8 1.8 0 1 0 3.6 0a1.8 1.8 0 1 0 -3.6 0M36.2 655.2a1.8 1.8 0 1 0 3.6 0a1.8 1.8 0 1 0 -3.6 0M57 657a1.8 1.8 0 1 0 3.6 0a1.8 1.8 0 1 0 -3.6 0M160.1 573.5a1.8 1.8 0 1 0 3.6 0a1.8 1.8 0 1 0 -3.6 0M129.8 581.7a1.8 1.8 0 1 0 3.6 0a1.8 1.8 0 1 0 -3.6 0M130.3 591.5a1.8 1.8 0 1 0 3.6 0a1.8 1.8 0 1 0 -3.6 0M151.1 596.4a1.8 1.8 0 1 0 3.6 0a1.8 1.8 0 1 0 -3.6 0M184.2 602.4a1.8 1.8 0 1 0 3.6 0a1.8 1.8 0 1 0 -3.6 0M201.3 597a1.8 1.8 0 1 0 3.6 0a1.8 1.8 0 1 0 -3.6 0M206 589.9a1.8 1.8 0 1 0 3.6 0a1.8 1.8 0 1 0 -3.6 0M223.4 574a1.8 1.8 0 1 0 3.6 0a1.8 1.8 0 1 0 -3.6 0M231.1 588.8a1.8 1.8 0 1 0 3.6 0a1.8 1.8 0 1 0 -3.6 0M244.9 589.1a1.8 1.8 0 1 0 3.6 0a1.8 1.8 0 1 0 -3.6 0M265.7 588.8a1.8 1.8 0 1 0 3.6 0a1.8 1.8 0 1 0 -3.6 0M264.9 571.6a1.8 1.8 0 1 0 3.6 0a1.8 1.8 0 1 0 -3.6 0M269.1 575.9a1.8 1.8 0 1 0 3.6 0a1.8 1.8 0 1 0 -3.6 0M248.9 598.9a1.8 1.8 0 1 0 3.6 0a1.8 1.8 0 1 0 -3.6 0M264.1 597a1.8 1.8 0 1 0 3.6 0a1.8 1.8 0 1 0 -3.6 0M154.9 638.2a1.8 1.8 0 1 0 3.6 0a1.8 1.8 0 1 0 -3.6 0M159.8 642.6a1.8 1.8 0 1 0 3.6 0a1.8 1.8 0 1 0 -3.6 0M157.1 646.2a1.8 1.8 0 1 0 3.6 0a1.8 1.8 0 1 0 -3.6 0M158.2 650.8a1.8 1.8 0 1 0 3.6 0a1.8 1.8 0 1 0 -3.6 0M178.4 639.8a1.8 1.8 0 1 0 3.6 0a1.8 1.8 0 1 0 -3.6 0M176.2 642.9a1.8 1.8 0 1 0 3.6 0a1.8 1.8 0 1 0 -3.6 0M181.1 642.9a1.8 1.8 0 1 0 3.6 0a1.8 1.8 0 1 0 -3.6 0M182.7 650a1.8 1.8 0 1 0 3.6 0a1.8 1.8 0 1 0 -3.6 0M181.1 653.2a1.8 1.8 0 1 0 3.6 0a1.8 1.8 0 1 0 -3.6 0M196.9 653.8a1.8 1.8 0 1 0 3.6 0a1.8 1.8 0 1 0 -3.6 0M202.1 639.3a1.8 1.8 0 1 0 3.6 0a1.8 1.8 0 1 0 -3.6 0M141.8 648a1.8 1.8 0 1 0 3.6 0a1.8 1.8 0 1 0 -3.6 0M137.9 658.2a1.8 1.8 0 1 0 3.6 0a1.8 1.8 0 1 0 -3.6 0M142.3 658.4a1.8 1.8 0 1 0 3.6 0a1.8 1.8 0 1 0 -3.6 0M150.5 653.5a1.8 1.8 0 1 0 3.6 0a1.8 1.8 0 1 0 -3.6 0M151.4 660.6a1.8 1.8 0 1 0 3.6 0a1.8 1.8 0 1 0 -3.6 0M146.7 664.1a1.8 1.8 0 1 0 3.6 0a1.8 1.8 0 1 0 -3.6 0M156.9 664.4a1.8 1.8 0 1 0 3.6 0a1.8 1.8 0 1 0 -3.6 0M170.7 651.6a1.8 1.8 0 1 0 3.6 0a1.8 1.8 0 1 0 -3.6 0M203.2 639.3a1.8 1.8 0 1 0 3.6 0a1.8 1.8 0 1 0 -3.6 0M224.7 647.5a1.8 1.8 0 1 0 3.6 0a1.8 1.8 0 1 0 -3.6 0M215.8 658.7a1.8 1.8 0 1 0 3.6 0a1.8 1.8 0 1 0 -3.6 0M228.1 659.7a1.8 1.8 0 1 0 3.6 0a1.8 1.8 0 1 0 -3.6 0M231.4 657.9a1.8 1.8 0 1 0 3.6 0a1.8 1.8 0 1 0 -3.6 0M233.2 659a1.8 1.8 0 1 0 3.6 0a1.8 1.8 0 1 0 -3.6 0M220.7 668.2a1.8 1.8 0 1 0 3.6 0a1.8 1.8 0 1 0 -3.6 0"/>
<line x1="75.4" y1="705.6" x2="75.4" y2="708.3" stroke="#333333" stroke-width="0.9"/>
<text x="75.4" y="715.9" font-size="7.6" text-anchor="middle" fill="#111111" style="stroke-width:0.12px">0.25</text>
<line x1="141.9" y1="705.6" x2="141.9" y2="708.3" stroke="#333333" stroke-width="0.9"/>
<text x="141.9" y="715.9" font-size="7.6" text-anchor="middle" fill="#111111" style="stroke-width:0.12px">0.50</text>
<line x1="208.4" y1="705.6" x2="208.4" y2="708.3" stroke="#333333" stroke-width="0.9"/>
<text x="208.4" y="715.9" font-size="7.6" text-anchor="middle" fill="#111111" style="stroke-width:0.12px">0.75</text>
<line x1="274.9" y1="705.6" x2="274.9" y2="708.3" stroke="#333333" stroke-width="0.9"/>
<text x="274.9" y="715.9" font-size="7.6" text-anchor="middle" fill="#111111" style="stroke-width:0.12px">1.00</text>
<line x1="20.7" y1="600" x2="23.4" y2="600" stroke="#333333" stroke-width="0.9"/>
<text x="18.4" y="603.5" font-size="9.4" text-anchor="end" fill="#111111">PET</text>
<line x1="20.7" y1="665.4" x2="23.4" y2="665.4" stroke="#333333" stroke-width="0.9"/>
<text x="18.4" y="668.9" font-size="9.4" text-anchor="end" fill="#111111">CSF</text>
<text x="155" y="727.2" font-size="9.9" text-anchor="middle" fill="#111111">Score (probability), PET−based</text>
<rect x="26.4" y="730.8" width="14.2" height="14.1" fill="#F2F2F2"/>
<line x1="33.5" y1="732.4" x2="33.5" y2="734.7" stroke="#A6A6A6" stroke-width="0.9"/>
<line x1="33.5" y1="741" x2="33.5" y2="743.3" stroke="#A6A6A6" stroke-width="0.9"/>
<rect x="27.6" y="734.7" width="11.8" height="6.3" fill="white" stroke="#A6A6A6" stroke-width="0.9"/>
<line x1="27.6" y1="737.85" x2="39.4" y2="737.85" stroke="#A6A6A6" stroke-width="1.3"/>
<circle cx="33.5" cy="737.85" r="1.6" fill="none" stroke="#A6A6A6" stroke-width="0.7"/>
<rect x="92.6" y="730.8" width="14.2" height="14.1" fill="#F2F2F2"/>
<line x1="99.7" y1="732.4" x2="99.7" y2="734.7" stroke="#E69F00" stroke-width="0.9"/>
<line x1="99.7" y1="741" x2="99.7" y2="743.3" stroke="#E69F00" stroke-width="0.9"/>
<rect x="93.8" y="734.7" width="11.8" height="6.3" fill="white" stroke="#E69F00" stroke-width="0.9"/>
<line x1="93.8" y1="737.85" x2="105.6" y2="737.85" stroke="#E69F00" stroke-width="1.3"/>
<circle cx="99.7" cy="737.85" r="1.6" fill="none" stroke="#E69F00" stroke-width="0.7"/>
<text x="45.4" y="742.9" font-size="9.9" text-anchor="start" fill="#111111">Aβ-Stable</text>
<text x="111.6" y="742.9" font-size="9.9" text-anchor="start" fill="#111111">Aβ-Converter</text>
</svg>
</body></html>
